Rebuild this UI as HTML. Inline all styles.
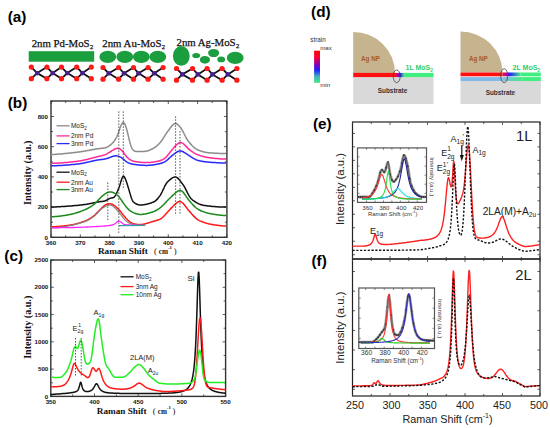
<!DOCTYPE html>
<html><head><meta charset="utf-8"><style>
html,body{margin:0;padding:0;background:#fff;}
svg{display:block;}
</style></head><body>
<svg width="550" height="428" viewBox="0 0 550 428">
<rect width="550" height="428" fill="#fff"/>
<text x="7.7" y="21.5" font-family='"Liberation Sans", sans-serif' font-size="15.3" font-weight="bold" fill="#000" text-anchor="start" >(a)</text>
<text x="31.7" y="47.1" font-family='"Liberation Serif", serif' font-size="10.8" font-weight="normal" fill="#111" text-anchor="start" stroke="#111" stroke-width="0.25">2nm Pd-MoS<tspan font-size="6.6" dx="0.4" dy="2.3">2</tspan></text>
<rect x="28.7" y="51.2" width="65.5" height="10.5" fill="#1a9e3e"/>
<line x1="37.2" y1="73.1" x2="31.3" y2="67.1" stroke="#111" stroke-width="1.8"/>
<line x1="37.2" y1="73.1" x2="46.9" y2="67.1" stroke="#111" stroke-width="1.8"/>
<line x1="37.2" y1="73.1" x2="31.3" y2="78.7" stroke="#111" stroke-width="1.8"/>
<line x1="37.2" y1="73.1" x2="46.9" y2="78.7" stroke="#111" stroke-width="1.8"/>
<line x1="52.7" y1="73.1" x2="46.9" y2="67.1" stroke="#111" stroke-width="1.8"/>
<line x1="52.7" y1="73.1" x2="61.5" y2="67.1" stroke="#111" stroke-width="1.8"/>
<line x1="52.7" y1="73.1" x2="46.9" y2="78.7" stroke="#111" stroke-width="1.8"/>
<line x1="52.7" y1="73.1" x2="61.5" y2="78.7" stroke="#111" stroke-width="1.8"/>
<line x1="67.3" y1="73.1" x2="61.5" y2="67.1" stroke="#111" stroke-width="1.8"/>
<line x1="67.3" y1="73.1" x2="76.7" y2="67.1" stroke="#111" stroke-width="1.8"/>
<line x1="67.3" y1="73.1" x2="61.5" y2="78.7" stroke="#111" stroke-width="1.8"/>
<line x1="67.3" y1="73.1" x2="76.7" y2="78.7" stroke="#111" stroke-width="1.8"/>
<line x1="82.5" y1="73.1" x2="76.7" y2="67.1" stroke="#111" stroke-width="1.8"/>
<line x1="82.5" y1="73.1" x2="91.3" y2="67.1" stroke="#111" stroke-width="1.8"/>
<line x1="82.5" y1="73.1" x2="76.7" y2="78.7" stroke="#111" stroke-width="1.8"/>
<line x1="82.5" y1="73.1" x2="91.3" y2="78.7" stroke="#111" stroke-width="1.8"/>
<circle cx="37.2" cy="73.1" r="2.4" fill="#4a1f90"/>
<circle cx="52.7" cy="73.1" r="2.4" fill="#4a1f90"/>
<circle cx="67.3" cy="73.1" r="2.4" fill="#4a1f90"/>
<circle cx="82.5" cy="73.1" r="2.4" fill="#4a1f90"/>
<circle cx="31.3" cy="67.1" r="2.6" fill="#ff1a1a"/>
<circle cx="31.3" cy="78.7" r="2.6" fill="#ff1a1a"/>
<circle cx="46.9" cy="67.1" r="2.6" fill="#ff1a1a"/>
<circle cx="46.9" cy="78.7" r="2.6" fill="#ff1a1a"/>
<circle cx="61.5" cy="67.1" r="2.6" fill="#ff1a1a"/>
<circle cx="61.5" cy="78.7" r="2.6" fill="#ff1a1a"/>
<circle cx="76.7" cy="67.1" r="2.6" fill="#ff1a1a"/>
<circle cx="76.7" cy="78.7" r="2.6" fill="#ff1a1a"/>
<circle cx="91.3" cy="67.1" r="2.6" fill="#ff1a1a"/>
<circle cx="91.3" cy="78.7" r="2.6" fill="#ff1a1a"/>
<text x="102.3" y="46.9" font-family='"Liberation Serif", serif' font-size="10.8" font-weight="normal" fill="#111" text-anchor="start" stroke="#111" stroke-width="0.25">2nm Au-MoS<tspan font-size="6.6" dx="0.4" dy="2.3">2</tspan></text>
<ellipse cx="107.8" cy="56.9" rx="8.4" ry="6.1" fill="#1a9e3e"/>
<ellipse cx="124.8" cy="56.9" rx="8.4" ry="6.1" fill="#1a9e3e"/>
<ellipse cx="141.3" cy="56.9" rx="8.4" ry="6.1" fill="#1a9e3e"/>
<ellipse cx="157.8" cy="56.9" rx="8.4" ry="6.1" fill="#1a9e3e"/>
<line x1="108.8" y1="73.3" x2="103" y2="67.5" stroke="#111" stroke-width="1.8"/>
<line x1="108.8" y1="73.3" x2="118.6" y2="67.5" stroke="#111" stroke-width="1.8"/>
<line x1="108.8" y1="73.3" x2="103" y2="79.2" stroke="#111" stroke-width="1.8"/>
<line x1="108.8" y1="73.3" x2="118.6" y2="79.2" stroke="#111" stroke-width="1.8"/>
<line x1="124.1" y1="73.3" x2="118.6" y2="67.5" stroke="#111" stroke-width="1.8"/>
<line x1="124.1" y1="73.3" x2="133.5" y2="67.5" stroke="#111" stroke-width="1.8"/>
<line x1="124.1" y1="73.3" x2="118.6" y2="79.2" stroke="#111" stroke-width="1.8"/>
<line x1="124.1" y1="73.3" x2="133.5" y2="79.2" stroke="#111" stroke-width="1.8"/>
<line x1="138.6" y1="73.3" x2="133.5" y2="67.5" stroke="#111" stroke-width="1.8"/>
<line x1="138.6" y1="73.3" x2="148.1" y2="67.5" stroke="#111" stroke-width="1.8"/>
<line x1="138.6" y1="73.3" x2="133.5" y2="79.2" stroke="#111" stroke-width="1.8"/>
<line x1="138.6" y1="73.3" x2="148.1" y2="79.2" stroke="#111" stroke-width="1.8"/>
<line x1="154.3" y1="73.3" x2="148.1" y2="67.5" stroke="#111" stroke-width="1.8"/>
<line x1="154.3" y1="73.3" x2="163.1" y2="67.5" stroke="#111" stroke-width="1.8"/>
<line x1="154.3" y1="73.3" x2="148.1" y2="79.2" stroke="#111" stroke-width="1.8"/>
<line x1="154.3" y1="73.3" x2="163.1" y2="79.2" stroke="#111" stroke-width="1.8"/>
<circle cx="108.8" cy="73.3" r="2.4" fill="#4a1f90"/>
<circle cx="124.1" cy="73.3" r="2.4" fill="#4a1f90"/>
<circle cx="138.6" cy="73.3" r="2.4" fill="#4a1f90"/>
<circle cx="154.3" cy="73.3" r="2.4" fill="#4a1f90"/>
<circle cx="103" cy="67.5" r="2.6" fill="#ff1a1a"/>
<circle cx="103" cy="79.2" r="2.6" fill="#ff1a1a"/>
<circle cx="118.6" cy="67.5" r="2.6" fill="#ff1a1a"/>
<circle cx="118.6" cy="79.2" r="2.6" fill="#ff1a1a"/>
<circle cx="133.5" cy="67.5" r="2.6" fill="#ff1a1a"/>
<circle cx="133.5" cy="79.2" r="2.6" fill="#ff1a1a"/>
<circle cx="148.1" cy="67.5" r="2.6" fill="#ff1a1a"/>
<circle cx="148.1" cy="79.2" r="2.6" fill="#ff1a1a"/>
<circle cx="163.1" cy="67.5" r="2.6" fill="#ff1a1a"/>
<circle cx="163.1" cy="79.2" r="2.6" fill="#ff1a1a"/>
<text x="176.5" y="45.8" font-family='"Liberation Serif", serif' font-size="10.8" font-weight="normal" fill="#111" text-anchor="start" stroke="#111" stroke-width="0.25">2nm Ag-MoS<tspan font-size="6.6" dx="0.4" dy="2.3">2</tspan></text>
<ellipse cx="181.3" cy="55.9" rx="8.4" ry="9.9" fill="#1a9e3e"/>
<ellipse cx="196.2" cy="55.5" rx="3.9" ry="2.6" fill="#1a9e3e"/>
<ellipse cx="204.9" cy="59.8" rx="5.1" ry="3.9" fill="#1a9e3e"/>
<ellipse cx="213.6" cy="53" rx="5.5" ry="4.1" fill="#1a9e3e"/>
<ellipse cx="221.2" cy="59.4" rx="3.9" ry="2.9" fill="#1a9e3e"/>
<ellipse cx="235.2" cy="57.9" rx="8.4" ry="6.1" fill="#1a9e3e"/>
<line x1="182.4" y1="74.4" x2="176.5" y2="68.5" stroke="#111" stroke-width="1.8"/>
<line x1="182.4" y1="74.4" x2="192.5" y2="68.5" stroke="#111" stroke-width="1.8"/>
<line x1="182.4" y1="74.4" x2="176.5" y2="80.2" stroke="#111" stroke-width="1.8"/>
<line x1="182.4" y1="74.4" x2="192.5" y2="80.2" stroke="#111" stroke-width="1.8"/>
<line x1="197.9" y1="74.4" x2="192.5" y2="68.5" stroke="#111" stroke-width="1.8"/>
<line x1="197.9" y1="74.4" x2="207.1" y2="68.5" stroke="#111" stroke-width="1.8"/>
<line x1="197.9" y1="74.4" x2="192.5" y2="80.2" stroke="#111" stroke-width="1.8"/>
<line x1="197.9" y1="74.4" x2="207.1" y2="80.2" stroke="#111" stroke-width="1.8"/>
<line x1="212.5" y1="74.4" x2="207.1" y2="68.5" stroke="#111" stroke-width="1.8"/>
<line x1="212.5" y1="74.4" x2="222.1" y2="68.5" stroke="#111" stroke-width="1.8"/>
<line x1="212.5" y1="74.4" x2="207.1" y2="80.2" stroke="#111" stroke-width="1.8"/>
<line x1="212.5" y1="74.4" x2="222.1" y2="80.2" stroke="#111" stroke-width="1.8"/>
<line x1="227.9" y1="74.4" x2="222.1" y2="68.5" stroke="#111" stroke-width="1.8"/>
<line x1="227.9" y1="74.4" x2="236.9" y2="68.5" stroke="#111" stroke-width="1.8"/>
<line x1="227.9" y1="74.4" x2="222.1" y2="80.2" stroke="#111" stroke-width="1.8"/>
<line x1="227.9" y1="74.4" x2="236.9" y2="80.2" stroke="#111" stroke-width="1.8"/>
<circle cx="182.4" cy="74.4" r="2.4" fill="#4a1f90"/>
<circle cx="197.9" cy="74.4" r="2.4" fill="#4a1f90"/>
<circle cx="212.5" cy="74.4" r="2.4" fill="#4a1f90"/>
<circle cx="227.9" cy="74.4" r="2.4" fill="#4a1f90"/>
<circle cx="176.5" cy="68.5" r="2.6" fill="#ff1a1a"/>
<circle cx="176.5" cy="80.2" r="2.6" fill="#ff1a1a"/>
<circle cx="192.5" cy="68.5" r="2.6" fill="#ff1a1a"/>
<circle cx="192.5" cy="80.2" r="2.6" fill="#ff1a1a"/>
<circle cx="207.1" cy="68.5" r="2.6" fill="#ff1a1a"/>
<circle cx="207.1" cy="80.2" r="2.6" fill="#ff1a1a"/>
<circle cx="222.1" cy="68.5" r="2.6" fill="#ff1a1a"/>
<circle cx="222.1" cy="80.2" r="2.6" fill="#ff1a1a"/>
<circle cx="236.9" cy="68.5" r="2.6" fill="#ff1a1a"/>
<circle cx="236.9" cy="80.2" r="2.6" fill="#ff1a1a"/>
<text x="7.7" y="107.5" font-family='"Liberation Sans", sans-serif' font-size="15.3" font-weight="bold" fill="#000" text-anchor="start" >(b)</text>
<rect x="51.0" y="101.0" width="175.9" height="136.3" fill="none" stroke="#333" stroke-width="1.4"/>
<line x1="51.00" y1="237.3" x2="51.00" y2="234.3" stroke="#333" stroke-width="0.8"/>
<line x1="80.32" y1="237.3" x2="80.32" y2="234.3" stroke="#333" stroke-width="0.8"/>
<line x1="109.63" y1="237.3" x2="109.63" y2="234.3" stroke="#333" stroke-width="0.8"/>
<line x1="138.95" y1="237.3" x2="138.95" y2="234.3" stroke="#333" stroke-width="0.8"/>
<line x1="168.27" y1="237.3" x2="168.27" y2="234.3" stroke="#333" stroke-width="0.8"/>
<line x1="197.58" y1="237.3" x2="197.58" y2="234.3" stroke="#333" stroke-width="0.8"/>
<line x1="226.90" y1="237.3" x2="226.90" y2="234.3" stroke="#333" stroke-width="0.8"/>
<line x1="65.66" y1="237.3" x2="65.66" y2="235.3" stroke="#333" stroke-width="0.8"/>
<line x1="94.97" y1="237.3" x2="94.97" y2="235.3" stroke="#333" stroke-width="0.8"/>
<line x1="124.29" y1="237.3" x2="124.29" y2="235.3" stroke="#333" stroke-width="0.8"/>
<line x1="153.61" y1="237.3" x2="153.61" y2="235.3" stroke="#333" stroke-width="0.8"/>
<line x1="182.93" y1="237.3" x2="182.93" y2="235.3" stroke="#333" stroke-width="0.8"/>
<line x1="212.24" y1="237.3" x2="212.24" y2="235.3" stroke="#333" stroke-width="0.8"/>
<line x1="51.00" y1="101.0" x2="51.00" y2="104.0" stroke="#333" stroke-width="0.8"/>
<line x1="80.32" y1="101.0" x2="80.32" y2="104.0" stroke="#333" stroke-width="0.8"/>
<line x1="109.63" y1="101.0" x2="109.63" y2="104.0" stroke="#333" stroke-width="0.8"/>
<line x1="138.95" y1="101.0" x2="138.95" y2="104.0" stroke="#333" stroke-width="0.8"/>
<line x1="168.27" y1="101.0" x2="168.27" y2="104.0" stroke="#333" stroke-width="0.8"/>
<line x1="197.58" y1="101.0" x2="197.58" y2="104.0" stroke="#333" stroke-width="0.8"/>
<line x1="226.90" y1="101.0" x2="226.90" y2="104.0" stroke="#333" stroke-width="0.8"/>
<line x1="65.66" y1="101.0" x2="65.66" y2="103.0" stroke="#333" stroke-width="0.8"/>
<line x1="94.97" y1="101.0" x2="94.97" y2="103.0" stroke="#333" stroke-width="0.8"/>
<line x1="124.29" y1="101.0" x2="124.29" y2="103.0" stroke="#333" stroke-width="0.8"/>
<line x1="153.61" y1="101.0" x2="153.61" y2="103.0" stroke="#333" stroke-width="0.8"/>
<line x1="182.93" y1="101.0" x2="182.93" y2="103.0" stroke="#333" stroke-width="0.8"/>
<line x1="212.24" y1="101.0" x2="212.24" y2="103.0" stroke="#333" stroke-width="0.8"/>
<line x1="51.0" y1="237.30" x2="54.0" y2="237.30" stroke="#333" stroke-width="0.8"/>
<line x1="51.0" y1="207.10" x2="54.0" y2="207.10" stroke="#333" stroke-width="0.8"/>
<line x1="51.0" y1="176.90" x2="54.0" y2="176.90" stroke="#333" stroke-width="0.8"/>
<line x1="51.0" y1="146.70" x2="54.0" y2="146.70" stroke="#333" stroke-width="0.8"/>
<line x1="51.0" y1="116.50" x2="54.0" y2="116.50" stroke="#333" stroke-width="0.8"/>
<line x1="51.0" y1="222.20" x2="53.0" y2="222.20" stroke="#333" stroke-width="0.8"/>
<line x1="51.0" y1="192.00" x2="53.0" y2="192.00" stroke="#333" stroke-width="0.8"/>
<line x1="51.0" y1="161.80" x2="53.0" y2="161.80" stroke="#333" stroke-width="0.8"/>
<line x1="51.0" y1="131.60" x2="53.0" y2="131.60" stroke="#333" stroke-width="0.8"/>
<line x1="51.0" y1="101.40" x2="53.0" y2="101.40" stroke="#333" stroke-width="0.8"/>
<line x1="226.9" y1="237.30" x2="223.9" y2="237.30" stroke="#333" stroke-width="0.8"/>
<line x1="226.9" y1="207.10" x2="223.9" y2="207.10" stroke="#333" stroke-width="0.8"/>
<line x1="226.9" y1="176.90" x2="223.9" y2="176.90" stroke="#333" stroke-width="0.8"/>
<line x1="226.9" y1="146.70" x2="223.9" y2="146.70" stroke="#333" stroke-width="0.8"/>
<line x1="226.9" y1="116.50" x2="223.9" y2="116.50" stroke="#333" stroke-width="0.8"/>
<line x1="226.9" y1="222.20" x2="224.9" y2="222.20" stroke="#333" stroke-width="0.8"/>
<line x1="226.9" y1="192.00" x2="224.9" y2="192.00" stroke="#333" stroke-width="0.8"/>
<line x1="226.9" y1="161.80" x2="224.9" y2="161.80" stroke="#333" stroke-width="0.8"/>
<line x1="226.9" y1="131.60" x2="224.9" y2="131.60" stroke="#333" stroke-width="0.8"/>
<line x1="226.9" y1="101.40" x2="224.9" y2="101.40" stroke="#333" stroke-width="0.8"/>
<text x="48" y="239.5" font-family='"Liberation Sans", sans-serif' font-size="6.2" font-weight="bold" fill="#111" text-anchor="end" >0</text>
<text x="48" y="209.3" font-family='"Liberation Sans", sans-serif' font-size="6.2" font-weight="bold" fill="#111" text-anchor="end" >200</text>
<text x="48" y="179.1" font-family='"Liberation Sans", sans-serif' font-size="6.2" font-weight="bold" fill="#111" text-anchor="end" >400</text>
<text x="48" y="148.9" font-family='"Liberation Sans", sans-serif' font-size="6.2" font-weight="bold" fill="#111" text-anchor="end" >600</text>
<text x="48" y="118.70000000000002" font-family='"Liberation Sans", sans-serif' font-size="6.2" font-weight="bold" fill="#111" text-anchor="end" >800</text>
<text x="51.0" y="245" font-family='"Liberation Sans", sans-serif' font-size="6.2" font-weight="bold" fill="#111" text-anchor="middle" >360</text>
<text x="80.31666666666666" y="245" font-family='"Liberation Sans", sans-serif' font-size="6.2" font-weight="bold" fill="#111" text-anchor="middle" >370</text>
<text x="109.63333333333333" y="245" font-family='"Liberation Sans", sans-serif' font-size="6.2" font-weight="bold" fill="#111" text-anchor="middle" >380</text>
<text x="138.95" y="245" font-family='"Liberation Sans", sans-serif' font-size="6.2" font-weight="bold" fill="#111" text-anchor="middle" >390</text>
<text x="168.26666666666665" y="245" font-family='"Liberation Sans", sans-serif' font-size="6.2" font-weight="bold" fill="#111" text-anchor="middle" >400</text>
<text x="197.58333333333334" y="245" font-family='"Liberation Sans", sans-serif' font-size="6.2" font-weight="bold" fill="#111" text-anchor="middle" >410</text>
<text x="226.9" y="245" font-family='"Liberation Sans", sans-serif' font-size="6.2" font-weight="bold" fill="#111" text-anchor="middle" >420</text>
<text x="97.9" y="253.6" font-family='"Liberation Serif", serif' font-size="9.2" font-weight="bold" fill="#111" text-anchor="start" textLength="49.9" lengthAdjust="spacingAndGlyphs">Raman Shift</text>
<text x="153.9" y="253.9" font-family='"Liberation Serif", serif' font-size="8.6" font-weight="normal" fill="#111" text-anchor="start" >(</text>
<text x="158.8" y="253.6" font-family='"Liberation Serif", serif' font-size="9.2" font-weight="bold" fill="#111" text-anchor="start" textLength="9.2" lengthAdjust="spacingAndGlyphs">cm</text>
<text x="167.9" y="249.4" font-family='"Liberation Serif", serif' font-size="4.8" font-weight="bold" fill="#111" text-anchor="start" >-1</text>
<text x="173.7" y="253.9" font-family='"Liberation Serif", serif' font-size="8.6" font-weight="normal" fill="#111" text-anchor="start" >)</text>
<text transform="translate(31,172.7) rotate(-90)" x="0" y="0" font-family='"Liberation Serif", serif' font-size="10.3" font-weight="bold" fill="#111" text-anchor="middle">Intensity (a.u.)</text>
<path d="M51.0,154.6 L51.5,154.6 L52.0,154.5 L52.5,154.5 L53.0,154.5 L53.5,154.5 L54.0,154.4 L54.5,154.4 L55.0,154.4 L55.5,154.3 L56.0,154.3 L56.5,154.3 L57.0,154.2 L57.5,154.2 L58.0,154.1 L58.5,154.1 L59.0,154.1 L59.5,154.0 L60.0,154.0 L60.5,153.9 L61.0,153.9 L61.5,153.9 L62.0,153.8 L62.5,153.8 L63.0,153.7 L63.5,153.7 L64.0,153.6 L64.5,153.6 L65.0,153.5 L65.5,153.5 L66.0,153.4 L66.5,153.4 L67.0,153.3 L67.5,153.3 L68.0,153.2 L68.5,153.2 L69.0,153.1 L69.5,153.1 L70.0,153.0 L70.5,153.0 L71.0,152.9 L71.5,152.9 L72.0,152.8 L72.5,152.7 L73.0,152.7 L73.5,152.6 L74.0,152.6 L74.5,152.5 L75.0,152.5 L75.5,152.4 L76.0,152.3 L76.5,152.3 L77.0,152.2 L77.5,152.2 L78.0,152.1 L78.5,152.0 L79.0,152.0 L79.5,151.9 L80.0,151.8 L80.5,151.8 L81.0,151.7 L81.5,151.6 L82.0,151.5 L82.5,151.4 L83.0,151.4 L83.5,151.3 L84.0,151.2 L84.5,151.1 L85.0,151.0 L85.5,150.9 L86.0,150.8 L86.5,150.8 L87.0,150.7 L87.5,150.6 L88.0,150.5 L88.5,150.4 L89.0,150.3 L89.5,150.2 L90.0,150.1 L90.5,150.0 L91.0,149.9 L91.5,149.8 L92.0,149.7 L92.5,149.6 L93.0,149.6 L93.5,149.5 L94.0,149.4 L94.5,149.3 L95.0,149.2 L95.5,149.1 L96.0,149.0 L96.5,149.0 L97.0,148.9 L97.5,148.8 L98.0,148.7 L98.5,148.7 L99.0,148.6 L99.5,148.5 L100.0,148.5 L100.5,148.4 L101.0,148.4 L101.5,148.3 L102.0,148.3 L102.5,148.2 L103.0,148.2 L103.5,148.1 L104.0,148.0 L104.5,148.0 L105.0,147.9 L105.5,147.7 L106.0,147.6 L106.5,147.4 L107.0,147.2 L107.5,146.9 L108.0,146.6 L108.5,146.3 L109.0,146.0 L109.5,145.6 L110.0,145.2 L110.5,144.9 L111.0,144.4 L111.5,144.0 L112.0,143.5 L112.5,143.1 L113.0,142.5 L113.5,141.9 L114.0,141.3 L114.5,140.6 L115.0,139.8 L115.5,139.0 L116.0,138.2 L116.5,137.3 L117.0,136.3 L117.5,135.1 L118.0,133.9 L118.5,132.5 L119.0,131.0 L119.5,129.5 L120.0,128.1 L120.5,126.7 L121.0,125.5 L121.5,124.5 L122.0,123.6 L122.5,122.9 L123.0,122.6 L123.5,122.6 L124.0,123.0 L124.5,123.7 L125.0,124.6 L125.5,125.8 L126.0,127.2 L126.5,128.8 L127.0,130.6 L127.5,132.5 L128.0,134.6 L128.5,136.7 L129.0,138.8 L129.5,140.8 L130.0,142.7 L130.5,144.4 L131.0,146.0 L131.5,147.2 L132.0,148.3 L132.5,149.1 L133.0,149.8 L133.5,150.3 L134.0,150.7 L134.5,151.0 L135.0,151.2 L135.5,151.3 L136.0,151.4 L136.5,151.4 L137.0,151.4 L137.5,151.4 L138.0,151.4 L138.5,151.4 L139.0,151.4 L139.5,151.4 L140.0,151.4 L140.5,151.4 L141.0,151.4 L141.5,151.4 L142.0,151.4 L142.5,151.4 L143.0,151.4 L143.5,151.4 L144.0,151.4 L144.5,151.4 L145.0,151.3 L145.5,151.3 L146.0,151.2 L146.5,151.1 L147.0,151.0 L147.5,150.9 L148.0,150.7 L148.5,150.5 L149.0,150.4 L149.5,150.2 L150.0,149.9 L150.5,149.7 L151.0,149.5 L151.5,149.2 L152.0,149.0 L152.5,148.7 L153.0,148.5 L153.5,148.2 L154.0,147.9 L154.5,147.6 L155.0,147.3 L155.5,147.0 L156.0,146.6 L156.5,146.2 L157.0,145.8 L157.5,145.3 L158.0,144.8 L158.5,144.3 L159.0,143.8 L159.5,143.3 L160.0,142.7 L160.5,142.2 L161.0,141.6 L161.5,140.9 L162.0,140.2 L162.5,139.5 L163.0,138.7 L163.5,137.9 L164.0,137.1 L164.5,136.3 L165.0,135.4 L165.5,134.6 L166.0,133.9 L166.5,133.1 L167.0,132.4 L167.5,131.7 L168.0,131.1 L168.5,130.4 L169.0,129.7 L169.5,129.0 L170.0,128.3 L170.5,127.6 L171.0,127.0 L171.5,126.4 L172.0,125.8 L172.5,125.2 L173.0,124.8 L173.5,124.3 L174.0,124.0 L174.5,123.7 L175.0,123.6 L175.5,123.5 L176.0,123.5 L176.5,123.7 L177.0,123.9 L177.5,124.3 L178.0,124.7 L178.5,125.2 L179.0,125.8 L179.5,126.3 L180.0,127.0 L180.5,127.6 L181.0,128.3 L181.5,129.0 L182.0,129.8 L182.5,130.6 L183.0,131.5 L183.5,132.5 L184.0,133.5 L184.5,134.5 L185.0,135.5 L185.5,136.5 L186.0,137.4 L186.5,138.4 L187.0,139.2 L187.5,140.0 L188.0,140.7 L188.5,141.4 L189.0,142.0 L189.5,142.6 L190.0,143.2 L190.5,143.8 L191.0,144.4 L191.5,144.9 L192.0,145.5 L192.5,146.0 L193.0,146.5 L193.5,146.9 L194.0,147.4 L194.5,147.8 L195.0,148.2 L195.5,148.6 L196.0,148.9 L196.5,149.2 L197.0,149.5 L197.5,149.8 L198.0,150.0 L198.5,150.2 L199.0,150.4 L199.5,150.6 L200.0,150.8 L200.5,151.0 L201.0,151.1 L201.5,151.3 L202.0,151.4 L202.5,151.6 L203.0,151.7 L203.5,151.9 L204.0,152.0 L204.5,152.1 L205.0,152.2 L205.5,152.3 L206.0,152.4 L206.5,152.5 L207.0,152.6 L207.5,152.6 L208.0,152.7 L208.5,152.7 L209.0,152.8 L209.5,152.8 L210.0,152.9 L210.5,152.9 L211.0,152.9 L211.5,153.0 L212.0,153.0 L212.5,153.0 L213.0,153.1 L213.5,153.1 L214.0,153.1 L214.5,153.2 L215.0,153.2 L215.5,153.2 L216.0,153.2 L216.5,153.3 L217.0,153.3 L217.5,153.3 L218.0,153.3 L218.5,153.3 L219.0,153.4 L219.5,153.4 L220.0,153.4 L220.5,153.4 L221.0,153.4 L221.5,153.4 L222.0,153.4 L222.5,153.5 L223.0,153.5 L223.5,153.5 L224.0,153.5 L224.5,153.5 L225.0,153.5 L225.5,153.5 L226.0,153.5" fill="none" stroke="#8c8c8c" stroke-width="1.5" stroke-linejoin="round"/>
<path d="M51.0,163.3 L51.5,163.3 L52.0,163.3 L52.5,163.3 L53.0,163.3 L53.5,163.3 L54.0,163.3 L54.5,163.2 L55.0,163.2 L55.5,163.2 L56.0,163.2 L56.5,163.2 L57.0,163.1 L57.5,163.1 L58.0,163.1 L58.5,163.1 L59.0,163.0 L59.5,163.0 L60.0,163.0 L60.5,163.0 L61.0,162.9 L61.5,162.9 L62.0,162.8 L62.5,162.8 L63.0,162.8 L63.5,162.7 L64.0,162.7 L64.5,162.6 L65.0,162.6 L65.5,162.6 L66.0,162.5 L66.5,162.5 L67.0,162.4 L67.5,162.4 L68.0,162.3 L68.5,162.3 L69.0,162.2 L69.5,162.2 L70.0,162.1 L70.5,162.1 L71.0,162.0 L71.5,161.9 L72.0,161.9 L72.5,161.8 L73.0,161.8 L73.5,161.7 L74.0,161.7 L74.5,161.6 L75.0,161.6 L75.5,161.5 L76.0,161.4 L76.5,161.4 L77.0,161.3 L77.5,161.2 L78.0,161.2 L78.5,161.1 L79.0,161.0 L79.5,161.0 L80.0,160.9 L80.5,160.8 L81.0,160.7 L81.5,160.6 L82.0,160.5 L82.5,160.4 L83.0,160.3 L83.5,160.2 L84.0,160.1 L84.5,160.0 L85.0,159.9 L85.5,159.8 L86.0,159.7 L86.5,159.5 L87.0,159.4 L87.5,159.3 L88.0,159.2 L88.5,159.0 L89.0,158.9 L89.5,158.8 L90.0,158.6 L90.5,158.5 L91.0,158.4 L91.5,158.2 L92.0,158.1 L92.5,158.0 L93.0,157.8 L93.5,157.7 L94.0,157.6 L94.5,157.4 L95.0,157.3 L95.5,157.2 L96.0,157.1 L96.5,156.9 L97.0,156.8 L97.5,156.7 L98.0,156.6 L98.5,156.4 L99.0,156.3 L99.5,156.2 L100.0,156.1 L100.5,156.0 L101.0,155.9 L101.5,155.8 L102.0,155.6 L102.5,155.5 L103.0,155.4 L103.5,155.3 L104.0,155.1 L104.5,154.9 L105.0,154.8 L105.5,154.6 L106.0,154.3 L106.5,154.1 L107.0,153.8 L107.5,153.5 L108.0,153.2 L108.5,152.9 L109.0,152.6 L109.5,152.3 L110.0,152.0 L110.5,151.7 L111.0,151.3 L111.5,151.0 L112.0,150.7 L112.5,150.4 L113.0,150.1 L113.5,149.8 L114.0,149.5 L114.5,149.2 L115.0,149.0 L115.5,148.8 L116.0,148.6 L116.5,148.4 L117.0,148.4 L117.5,148.3 L118.0,148.4 L118.5,148.4 L119.0,148.6 L119.5,148.8 L120.0,149.0 L120.5,149.4 L121.0,149.8 L121.5,150.2 L122.0,150.7 L122.5,151.3 L123.0,151.9 L123.5,152.6 L124.0,153.2 L124.5,153.9 L125.0,154.6 L125.5,155.3 L126.0,155.9 L126.5,156.5 L127.0,157.1 L127.5,157.6 L128.0,158.0 L128.5,158.5 L129.0,158.9 L129.5,159.3 L130.0,159.6 L130.5,159.9 L131.0,160.2 L131.5,160.5 L132.0,160.7 L132.5,160.9 L133.0,161.0 L133.5,161.2 L134.0,161.3 L134.5,161.4 L135.0,161.5 L135.5,161.6 L136.0,161.7 L136.5,161.8 L137.0,161.8 L137.5,161.9 L138.0,162.0 L138.5,162.0 L139.0,162.1 L139.5,162.2 L140.0,162.2 L140.5,162.3 L141.0,162.3 L141.5,162.3 L142.0,162.4 L142.5,162.4 L143.0,162.5 L143.5,162.5 L144.0,162.5 L144.5,162.5 L145.0,162.5 L145.5,162.6 L146.0,162.6 L146.5,162.6 L147.0,162.6 L147.5,162.6 L148.0,162.5 L148.5,162.5 L149.0,162.5 L149.5,162.5 L150.0,162.4 L150.5,162.4 L151.0,162.3 L151.5,162.3 L152.0,162.2 L152.5,162.2 L153.0,162.1 L153.5,162.0 L154.0,162.0 L154.5,161.9 L155.0,161.8 L155.5,161.7 L156.0,161.6 L156.5,161.5 L157.0,161.4 L157.5,161.3 L158.0,161.2 L158.5,161.1 L159.0,161.0 L159.5,160.8 L160.0,160.7 L160.5,160.5 L161.0,160.3 L161.5,160.1 L162.0,159.9 L162.5,159.7 L163.0,159.4 L163.5,159.1 L164.0,158.8 L164.5,158.5 L165.0,158.1 L165.5,157.7 L166.0,157.2 L166.5,156.7 L167.0,156.1 L167.5,155.5 L168.0,154.9 L168.5,154.3 L169.0,153.6 L169.5,153.0 L170.0,152.3 L170.5,151.7 L171.0,151.1 L171.5,150.4 L172.0,149.8 L172.5,149.2 L173.0,148.7 L173.5,148.1 L174.0,147.5 L174.5,146.9 L175.0,146.4 L175.5,145.9 L176.0,145.3 L176.5,144.8 L177.0,144.4 L177.5,144.0 L178.0,143.6 L178.5,143.3 L179.0,143.0 L179.5,142.8 L180.0,142.6 L180.5,142.6 L181.0,142.6 L181.5,142.7 L182.0,142.9 L182.5,143.1 L183.0,143.5 L183.5,143.9 L184.0,144.3 L184.5,144.8 L185.0,145.3 L185.5,145.9 L186.0,146.4 L186.5,146.9 L187.0,147.4 L187.5,147.9 L188.0,148.4 L188.5,148.9 L189.0,149.3 L189.5,149.7 L190.0,150.1 L190.5,150.5 L191.0,150.8 L191.5,151.2 L192.0,151.5 L192.5,151.9 L193.0,152.2 L193.5,152.5 L194.0,152.9 L194.5,153.2 L195.0,153.4 L195.5,153.7 L196.0,154.0 L196.5,154.2 L197.0,154.4 L197.5,154.7 L198.0,154.9 L198.5,155.1 L199.0,155.2 L199.5,155.4 L200.0,155.6 L200.5,155.8 L201.0,155.9 L201.5,156.1 L202.0,156.2 L202.5,156.3 L203.0,156.5 L203.5,156.6 L204.0,156.7 L204.5,156.9 L205.0,157.0 L205.5,157.1 L206.0,157.2 L206.5,157.3 L207.0,157.4 L207.5,157.4 L208.0,157.5 L208.5,157.6 L209.0,157.7 L209.5,157.7 L210.0,157.8 L210.5,157.9 L211.0,157.9 L211.5,158.0 L212.0,158.1 L212.5,158.1 L213.0,158.2 L213.5,158.2 L214.0,158.3 L214.5,158.3 L215.0,158.4 L215.5,158.5 L216.0,158.5 L216.5,158.6 L217.0,158.6 L217.5,158.6 L218.0,158.7 L218.5,158.7 L219.0,158.8 L219.5,158.8 L220.0,158.8 L220.5,158.9 L221.0,158.9 L221.5,158.9 L222.0,159.0 L222.5,159.0 L223.0,159.0 L223.5,159.0 L224.0,159.0 L224.5,159.1 L225.0,159.1 L225.5,159.1 L226.0,159.1" fill="none" stroke="#ff2a9a" stroke-width="1.5" stroke-linejoin="round"/>
<path d="M51.0,165.8 L51.5,165.8 L52.0,165.8 L52.5,165.8 L53.0,165.8 L53.5,165.8 L54.0,165.8 L54.5,165.7 L55.0,165.7 L55.5,165.7 L56.0,165.7 L56.5,165.7 L57.0,165.7 L57.5,165.6 L58.0,165.6 L58.5,165.6 L59.0,165.6 L59.5,165.6 L60.0,165.5 L60.5,165.5 L61.0,165.5 L61.5,165.4 L62.0,165.4 L62.5,165.4 L63.0,165.3 L63.5,165.3 L64.0,165.3 L64.5,165.2 L65.0,165.2 L65.5,165.2 L66.0,165.1 L66.5,165.1 L67.0,165.0 L67.5,165.0 L68.0,165.0 L68.5,164.9 L69.0,164.9 L69.5,164.8 L70.0,164.8 L70.5,164.7 L71.0,164.7 L71.5,164.6 L72.0,164.6 L72.5,164.5 L73.0,164.5 L73.5,164.5 L74.0,164.4 L74.5,164.4 L75.0,164.3 L75.5,164.3 L76.0,164.2 L76.5,164.1 L77.0,164.1 L77.5,164.0 L78.0,164.0 L78.5,163.9 L79.0,163.9 L79.5,163.8 L80.0,163.7 L80.5,163.6 L81.0,163.6 L81.5,163.5 L82.0,163.4 L82.5,163.3 L83.0,163.2 L83.5,163.1 L84.0,163.0 L84.5,162.9 L85.0,162.8 L85.5,162.7 L86.0,162.6 L86.5,162.5 L87.0,162.3 L87.5,162.2 L88.0,162.1 L88.5,162.0 L89.0,161.9 L89.5,161.8 L90.0,161.6 L90.5,161.5 L91.0,161.4 L91.5,161.3 L92.0,161.2 L92.5,161.1 L93.0,161.0 L93.5,160.8 L94.0,160.7 L94.5,160.6 L95.0,160.5 L95.5,160.4 L96.0,160.3 L96.5,160.2 L97.0,160.1 L97.5,160.1 L98.0,160.0 L98.5,159.9 L99.0,159.8 L99.5,159.8 L100.0,159.7 L100.5,159.6 L101.0,159.6 L101.5,159.5 L102.0,159.5 L102.5,159.4 L103.0,159.3 L103.5,159.3 L104.0,159.2 L104.5,159.1 L105.0,159.0 L105.5,158.9 L106.0,158.8 L106.5,158.6 L107.0,158.5 L107.5,158.3 L108.0,158.2 L108.5,158.0 L109.0,157.8 L109.5,157.6 L110.0,157.4 L110.5,157.2 L111.0,157.0 L111.5,156.8 L112.0,156.6 L112.5,156.4 L113.0,156.3 L113.5,156.2 L114.0,156.0 L114.5,155.9 L115.0,155.9 L115.5,155.8 L116.0,155.8 L116.5,155.8 L117.0,155.9 L117.5,156.0 L118.0,156.1 L118.5,156.3 L119.0,156.4 L119.5,156.6 L120.0,156.9 L120.5,157.1 L121.0,157.4 L121.5,157.7 L122.0,158.1 L122.5,158.4 L123.0,158.8 L123.5,159.2 L124.0,159.7 L124.5,160.1 L125.0,160.5 L125.5,161.0 L126.0,161.4 L126.5,161.7 L127.0,162.1 L127.5,162.4 L128.0,162.6 L128.5,162.9 L129.0,163.1 L129.5,163.3 L130.0,163.5 L130.5,163.6 L131.0,163.8 L131.5,163.9 L132.0,164.0 L132.5,164.1 L133.0,164.2 L133.5,164.3 L134.0,164.4 L134.5,164.5 L135.0,164.6 L135.5,164.6 L136.0,164.7 L136.5,164.8 L137.0,164.8 L137.5,164.9 L138.0,164.9 L138.5,165.0 L139.0,165.0 L139.5,165.0 L140.0,165.1 L140.5,165.1 L141.0,165.2 L141.5,165.2 L142.0,165.2 L142.5,165.2 L143.0,165.3 L143.5,165.3 L144.0,165.3 L144.5,165.3 L145.0,165.3 L145.5,165.4 L146.0,165.4 L146.5,165.4 L147.0,165.4 L147.5,165.4 L148.0,165.3 L148.5,165.3 L149.0,165.3 L149.5,165.3 L150.0,165.2 L150.5,165.2 L151.0,165.1 L151.5,165.1 L152.0,165.0 L152.5,165.0 L153.0,164.9 L153.5,164.8 L154.0,164.7 L154.5,164.7 L155.0,164.6 L155.5,164.5 L156.0,164.4 L156.5,164.3 L157.0,164.2 L157.5,164.1 L158.0,164.0 L158.5,163.9 L159.0,163.8 L159.5,163.7 L160.0,163.6 L160.5,163.5 L161.0,163.3 L161.5,163.2 L162.0,163.0 L162.5,162.8 L163.0,162.6 L163.5,162.4 L164.0,162.2 L164.5,161.9 L165.0,161.7 L165.5,161.4 L166.0,161.0 L166.5,160.6 L167.0,160.2 L167.5,159.8 L168.0,159.3 L168.5,158.9 L169.0,158.4 L169.5,157.9 L170.0,157.5 L170.5,157.0 L171.0,156.6 L171.5,156.1 L172.0,155.7 L172.5,155.3 L173.0,154.9 L173.5,154.5 L174.0,154.1 L174.5,153.7 L175.0,153.3 L175.5,153.0 L176.0,152.6 L176.5,152.3 L177.0,152.0 L177.5,151.7 L178.0,151.5 L178.5,151.3 L179.0,151.2 L179.5,151.1 L180.0,151.1 L180.5,151.1 L181.0,151.1 L181.5,151.2 L182.0,151.3 L182.5,151.5 L183.0,151.8 L183.5,152.0 L184.0,152.3 L184.5,152.6 L185.0,152.9 L185.5,153.2 L186.0,153.6 L186.5,153.9 L187.0,154.2 L187.5,154.5 L188.0,154.9 L188.5,155.2 L189.0,155.5 L189.5,155.8 L190.0,156.2 L190.5,156.5 L191.0,156.8 L191.5,157.1 L192.0,157.4 L192.5,157.8 L193.0,158.1 L193.5,158.4 L194.0,158.7 L194.5,158.9 L195.0,159.2 L195.5,159.5 L196.0,159.7 L196.5,159.9 L197.0,160.1 L197.5,160.3 L198.0,160.4 L198.5,160.6 L199.0,160.7 L199.5,160.8 L200.0,160.9 L200.5,161.0 L201.0,161.1 L201.5,161.2 L202.0,161.3 L202.5,161.4 L203.0,161.5 L203.5,161.6 L204.0,161.6 L204.5,161.7 L205.0,161.8 L205.5,161.8 L206.0,161.9 L206.5,162.0 L207.0,162.0 L207.5,162.1 L208.0,162.1 L208.5,162.1 L209.0,162.2 L209.5,162.2 L210.0,162.3 L210.5,162.3 L211.0,162.3 L211.5,162.4 L212.0,162.4 L212.5,162.4 L213.0,162.5 L213.5,162.5 L214.0,162.5 L214.5,162.6 L215.0,162.6 L215.5,162.6 L216.0,162.7 L216.5,162.7 L217.0,162.7 L217.5,162.7 L218.0,162.8 L218.5,162.8 L219.0,162.8 L219.5,162.8 L220.0,162.9 L220.5,162.9 L221.0,162.9 L221.5,162.9 L222.0,162.9 L222.5,162.9 L223.0,163.0 L223.5,163.0 L224.0,163.0 L224.5,163.0 L225.0,163.0 L225.5,163.0 L226.0,163.0" fill="none" stroke="#2a2aff" stroke-width="1.5" stroke-linejoin="round"/>
<path d="M51.0,207.1 L51.5,207.1 L52.0,207.1 L52.5,207.0 L53.0,207.0 L53.5,207.0 L54.0,207.0 L54.5,207.0 L55.0,206.9 L55.5,206.9 L56.0,206.9 L56.5,206.9 L57.0,206.8 L57.5,206.8 L58.0,206.8 L58.5,206.8 L59.0,206.7 L59.5,206.7 L60.0,206.7 L60.5,206.7 L61.0,206.6 L61.5,206.6 L62.0,206.6 L62.5,206.5 L63.0,206.5 L63.5,206.5 L64.0,206.4 L64.5,206.4 L65.0,206.4 L65.5,206.3 L66.0,206.3 L66.5,206.3 L67.0,206.2 L67.5,206.2 L68.0,206.2 L68.5,206.1 L69.0,206.1 L69.5,206.1 L70.0,206.0 L70.5,206.0 L71.0,205.9 L71.5,205.9 L72.0,205.9 L72.5,205.8 L73.0,205.8 L73.5,205.7 L74.0,205.7 L74.5,205.6 L75.0,205.6 L75.5,205.6 L76.0,205.5 L76.5,205.5 L77.0,205.4 L77.5,205.4 L78.0,205.3 L78.5,205.3 L79.0,205.2 L79.5,205.2 L80.0,205.1 L80.5,205.1 L81.0,205.0 L81.5,204.9 L82.0,204.9 L82.5,204.8 L83.0,204.8 L83.5,204.7 L84.0,204.6 L84.5,204.6 L85.0,204.5 L85.5,204.4 L86.0,204.4 L86.5,204.3 L87.0,204.2 L87.5,204.1 L88.0,204.0 L88.5,203.9 L89.0,203.8 L89.5,203.7 L90.0,203.6 L90.5,203.5 L91.0,203.4 L91.5,203.3 L92.0,203.2 L92.5,203.1 L93.0,203.0 L93.5,202.9 L94.0,202.8 L94.5,202.7 L95.0,202.6 L95.5,202.5 L96.0,202.4 L96.5,202.3 L97.0,202.2 L97.5,202.1 L98.0,202.0 L98.5,201.9 L99.0,201.8 L99.5,201.8 L100.0,201.7 L100.5,201.6 L101.0,201.6 L101.5,201.5 L102.0,201.4 L102.5,201.4 L103.0,201.3 L103.5,201.3 L104.0,201.2 L104.5,201.1 L105.0,200.9 L105.5,200.8 L106.0,200.5 L106.5,200.3 L107.0,200.0 L107.5,199.7 L108.0,199.4 L108.5,199.1 L109.0,198.8 L109.5,198.6 L110.0,198.4 L110.5,198.2 L111.0,198.1 L111.5,198.0 L112.0,197.9 L112.5,197.8 L113.0,197.7 L113.5,197.5 L114.0,197.2 L114.5,196.7 L115.0,196.1 L115.5,195.4 L116.0,194.5 L116.5,193.5 L117.0,192.4 L117.5,191.3 L118.0,190.1 L118.5,188.9 L119.0,187.6 L119.5,186.2 L120.0,184.6 L120.5,182.9 L121.0,181.3 L121.5,179.7 L122.0,178.3 L122.5,177.2 L123.0,176.5 L123.5,176.3 L124.0,176.5 L124.5,177.1 L125.0,178.1 L125.5,179.3 L126.0,180.6 L126.5,182.1 L127.0,183.6 L127.5,185.1 L128.0,186.7 L128.5,188.3 L129.0,189.9 L129.5,191.7 L130.0,193.4 L130.5,195.1 L131.0,196.8 L131.5,198.3 L132.0,199.5 L132.5,200.6 L133.0,201.4 L133.5,202.0 L134.0,202.4 L134.5,202.8 L135.0,203.2 L135.5,203.5 L136.0,203.8 L136.5,204.0 L137.0,204.3 L137.5,204.5 L138.0,204.6 L138.5,204.8 L139.0,204.9 L139.5,204.9 L140.0,205.0 L140.5,205.0 L141.0,205.0 L141.5,204.9 L142.0,204.9 L142.5,204.9 L143.0,204.8 L143.5,204.8 L144.0,204.7 L144.5,204.6 L145.0,204.5 L145.5,204.5 L146.0,204.4 L146.5,204.2 L147.0,204.1 L147.5,204.0 L148.0,203.9 L148.5,203.7 L149.0,203.6 L149.5,203.4 L150.0,203.3 L150.5,203.1 L151.0,203.0 L151.5,202.8 L152.0,202.6 L152.5,202.4 L153.0,202.2 L153.5,202.0 L154.0,201.8 L154.5,201.5 L155.0,201.2 L155.5,200.8 L156.0,200.4 L156.5,199.9 L157.0,199.4 L157.5,198.9 L158.0,198.3 L158.5,197.6 L159.0,197.0 L159.5,196.3 L160.0,195.6 L160.5,194.8 L161.0,194.0 L161.5,193.0 L162.0,192.1 L162.5,191.0 L163.0,189.9 L163.5,188.8 L164.0,187.8 L164.5,186.7 L165.0,185.7 L165.5,184.8 L166.0,184.0 L166.5,183.3 L167.0,182.6 L167.5,182.0 L168.0,181.5 L168.5,181.0 L169.0,180.6 L169.5,180.1 L170.0,179.7 L170.5,179.2 L171.0,178.8 L171.5,178.5 L172.0,178.1 L172.5,177.8 L173.0,177.6 L173.5,177.4 L174.0,177.2 L174.5,177.1 L175.0,177.0 L175.5,177.0 L176.0,177.1 L176.5,177.3 L177.0,177.6 L177.5,177.9 L178.0,178.4 L178.5,178.9 L179.0,179.4 L179.5,180.0 L180.0,180.6 L180.5,181.3 L181.0,181.9 L181.5,182.6 L182.0,183.3 L182.5,183.9 L183.0,184.6 L183.5,185.4 L184.0,186.2 L184.5,187.0 L185.0,187.9 L185.5,188.9 L186.0,189.8 L186.5,190.8 L187.0,191.8 L187.5,192.8 L188.0,193.8 L188.5,194.7 L189.0,195.6 L189.5,196.4 L190.0,197.2 L190.5,197.9 L191.0,198.5 L191.5,199.0 L192.0,199.5 L192.5,199.9 L193.0,200.3 L193.5,200.6 L194.0,201.0 L194.5,201.3 L195.0,201.7 L195.5,202.0 L196.0,202.3 L196.5,202.6 L197.0,202.9 L197.5,203.2 L198.0,203.4 L198.5,203.7 L199.0,203.9 L199.5,204.1 L200.0,204.3 L200.5,204.5 L201.0,204.7 L201.5,204.8 L202.0,205.0 L202.5,205.1 L203.0,205.2 L203.5,205.3 L204.0,205.4 L204.5,205.5 L205.0,205.5 L205.5,205.6 L206.0,205.7 L206.5,205.7 L207.0,205.8 L207.5,205.9 L208.0,205.9 L208.5,206.0 L209.0,206.1 L209.5,206.1 L210.0,206.2 L210.5,206.2 L211.0,206.3 L211.5,206.3 L212.0,206.4 L212.5,206.4 L213.0,206.5 L213.5,206.5 L214.0,206.6 L214.5,206.6 L215.0,206.6 L215.5,206.7 L216.0,206.7 L216.5,206.7 L217.0,206.8 L217.5,206.8 L218.0,206.8 L218.5,206.9 L219.0,206.9 L219.5,206.9 L220.0,206.9 L220.5,207.0 L221.0,207.0 L221.5,207.0 L222.0,207.0 L222.5,207.0 L223.0,207.1 L223.5,207.1 L224.0,207.1 L224.5,207.1 L225.0,207.1 L225.5,207.1 L226.0,207.1" fill="none" stroke="#111" stroke-width="1.5" stroke-linejoin="round"/>
<path d="M51.0,216.8 L51.5,216.8 L52.0,216.8 L52.5,216.7 L53.0,216.7 L53.5,216.7 L54.0,216.7 L54.5,216.6 L55.0,216.6 L55.5,216.6 L56.0,216.5 L56.5,216.5 L57.0,216.4 L57.5,216.4 L58.0,216.3 L58.5,216.3 L59.0,216.2 L59.5,216.2 L60.0,216.1 L60.5,216.0 L61.0,216.0 L61.5,215.9 L62.0,215.8 L62.5,215.8 L63.0,215.7 L63.5,215.6 L64.0,215.5 L64.5,215.5 L65.0,215.4 L65.5,215.3 L66.0,215.2 L66.5,215.2 L67.0,215.1 L67.5,215.0 L68.0,214.9 L68.5,214.8 L69.0,214.7 L69.5,214.6 L70.0,214.5 L70.5,214.4 L71.0,214.3 L71.5,214.2 L72.0,214.1 L72.5,213.9 L73.0,213.8 L73.5,213.7 L74.0,213.6 L74.5,213.4 L75.0,213.3 L75.5,213.1 L76.0,213.0 L76.5,212.8 L77.0,212.7 L77.5,212.5 L78.0,212.3 L78.5,212.2 L79.0,212.0 L79.5,211.8 L80.0,211.7 L80.5,211.5 L81.0,211.3 L81.5,211.1 L82.0,210.9 L82.5,210.7 L83.0,210.5 L83.5,210.3 L84.0,210.1 L84.5,209.9 L85.0,209.7 L85.5,209.5 L86.0,209.3 L86.5,209.0 L87.0,208.8 L87.5,208.5 L88.0,208.3 L88.5,208.0 L89.0,207.7 L89.5,207.4 L90.0,207.1 L90.5,206.8 L91.0,206.5 L91.5,206.1 L92.0,205.8 L92.5,205.4 L93.0,205.1 L93.5,204.7 L94.0,204.3 L94.5,203.9 L95.0,203.4 L95.5,203.0 L96.0,202.5 L96.5,202.0 L97.0,201.5 L97.5,200.9 L98.0,200.4 L98.5,199.9 L99.0,199.3 L99.5,198.8 L100.0,198.3 L100.5,197.8 L101.0,197.3 L101.5,196.8 L102.0,196.3 L102.5,195.9 L103.0,195.5 L103.5,195.1 L104.0,194.7 L104.5,194.3 L105.0,193.9 L105.5,193.6 L106.0,193.3 L106.5,193.0 L107.0,192.8 L107.5,192.6 L108.0,192.4 L108.5,192.2 L109.0,192.1 L109.5,192.0 L110.0,192.0 L110.5,192.0 L111.0,192.0 L111.5,192.1 L112.0,192.2 L112.5,192.3 L113.0,192.5 L113.5,192.7 L114.0,192.9 L114.5,193.2 L115.0,193.4 L115.5,193.7 L116.0,194.1 L116.5,194.5 L117.0,194.9 L117.5,195.3 L118.0,195.8 L118.5,196.3 L119.0,196.9 L119.5,197.6 L120.0,198.2 L120.5,198.9 L121.0,199.6 L121.5,200.3 L122.0,201.0 L122.5,201.8 L123.0,202.5 L123.5,203.2 L124.0,203.9 L124.5,204.6 L125.0,205.3 L125.5,205.9 L126.0,206.6 L126.5,207.2 L127.0,207.8 L127.5,208.4 L128.0,208.9 L128.5,209.4 L129.0,209.9 L129.5,210.3 L130.0,210.7 L130.5,211.0 L131.0,211.3 L131.5,211.6 L132.0,211.9 L132.5,212.2 L133.0,212.4 L133.5,212.7 L134.0,212.9 L134.5,213.1 L135.0,213.3 L135.5,213.5 L136.0,213.7 L136.5,213.8 L137.0,213.9 L137.5,214.1 L138.0,214.2 L138.5,214.3 L139.0,214.3 L139.5,214.4 L140.0,214.4 L140.5,214.4 L141.0,214.4 L141.5,214.4 L142.0,214.4 L142.5,214.3 L143.0,214.3 L143.5,214.2 L144.0,214.1 L144.5,214.1 L145.0,214.0 L145.5,213.9 L146.0,213.8 L146.5,213.7 L147.0,213.6 L147.5,213.5 L148.0,213.3 L148.5,213.2 L149.0,213.1 L149.5,212.9 L150.0,212.8 L150.5,212.6 L151.0,212.5 L151.5,212.3 L152.0,212.2 L152.5,212.0 L153.0,211.8 L153.5,211.6 L154.0,211.4 L154.5,211.2 L155.0,211.0 L155.5,210.8 L156.0,210.5 L156.5,210.3 L157.0,210.0 L157.5,209.7 L158.0,209.3 L158.5,209.0 L159.0,208.6 L159.5,208.3 L160.0,207.9 L160.5,207.5 L161.0,207.1 L161.5,206.6 L162.0,206.2 L162.5,205.7 L163.0,205.2 L163.5,204.7 L164.0,204.2 L164.5,203.7 L165.0,203.2 L165.5,202.6 L166.0,202.1 L166.5,201.6 L167.0,201.0 L167.5,200.5 L168.0,200.0 L168.5,199.5 L169.0,199.0 L169.5,198.5 L170.0,198.0 L170.5,197.5 L171.0,197.0 L171.5,196.6 L172.0,196.1 L172.5,195.6 L173.0,195.1 L173.5,194.7 L174.0,194.2 L174.5,193.7 L175.0,193.3 L175.5,192.8 L176.0,192.4 L176.5,192.0 L177.0,191.7 L177.5,191.3 L178.0,191.0 L178.5,190.8 L179.0,190.6 L179.5,190.5 L180.0,190.5 L180.5,190.5 L181.0,190.6 L181.5,190.9 L182.0,191.2 L182.5,191.6 L183.0,192.1 L183.5,192.7 L184.0,193.3 L184.5,194.0 L185.0,194.7 L185.5,195.4 L186.0,196.2 L186.5,196.9 L187.0,197.6 L187.5,198.3 L188.0,199.0 L188.5,199.6 L189.0,200.3 L189.5,200.9 L190.0,201.5 L190.5,202.1 L191.0,202.7 L191.5,203.2 L192.0,203.8 L192.5,204.3 L193.0,204.9 L193.5,205.4 L194.0,205.9 L194.5,206.4 L195.0,206.9 L195.5,207.3 L196.0,207.8 L196.5,208.2 L197.0,208.5 L197.5,208.9 L198.0,209.2 L198.5,209.5 L199.0,209.8 L199.5,210.0 L200.0,210.3 L200.5,210.5 L201.0,210.8 L201.5,211.0 L202.0,211.2 L202.5,211.4 L203.0,211.6 L203.5,211.7 L204.0,211.9 L204.5,212.1 L205.0,212.3 L205.5,212.4 L206.0,212.6 L206.5,212.7 L207.0,212.9 L207.5,213.0 L208.0,213.1 L208.5,213.3 L209.0,213.4 L209.5,213.5 L210.0,213.6 L210.5,213.7 L211.0,213.8 L211.5,213.9 L212.0,214.0 L212.5,214.1 L213.0,214.1 L213.5,214.2 L214.0,214.3 L214.5,214.4 L215.0,214.5 L215.5,214.5 L216.0,214.6 L216.5,214.7 L217.0,214.7 L217.5,214.8 L218.0,214.9 L218.5,214.9 L219.0,215.0 L219.5,215.0 L220.0,215.1 L220.5,215.2 L221.0,215.2 L221.5,215.2 L222.0,215.3 L222.5,215.3 L223.0,215.4 L223.5,215.4 L224.0,215.4 L224.5,215.4 L225.0,215.5 L225.5,215.5 L226.0,215.5" fill="none" stroke="#1e8a1e" stroke-width="1.5" stroke-linejoin="round"/>
<path d="M51.0,226.8 L51.5,226.8 L52.0,226.8 L52.5,226.8 L53.0,226.8 L53.5,226.7 L54.0,226.7 L54.5,226.7 L55.0,226.7 L55.5,226.7 L56.0,226.6 L56.5,226.6 L57.0,226.6 L57.5,226.5 L58.0,226.5 L58.5,226.4 L59.0,226.4 L59.5,226.4 L60.0,226.3 L60.5,226.3 L61.0,226.2 L61.5,226.2 L62.0,226.1 L62.5,226.1 L63.0,226.0 L63.5,226.0 L64.0,225.9 L64.5,225.8 L65.0,225.8 L65.5,225.7 L66.0,225.7 L66.5,225.6 L67.0,225.6 L67.5,225.5 L68.0,225.4 L68.5,225.4 L69.0,225.3 L69.5,225.2 L70.0,225.1 L70.5,225.0 L71.0,225.0 L71.5,224.9 L72.0,224.8 L72.5,224.7 L73.0,224.6 L73.5,224.5 L74.0,224.4 L74.5,224.3 L75.0,224.1 L75.5,224.0 L76.0,223.9 L76.5,223.8 L77.0,223.6 L77.5,223.5 L78.0,223.4 L78.5,223.2 L79.0,223.1 L79.5,222.9 L80.0,222.8 L80.5,222.6 L81.0,222.5 L81.5,222.3 L82.0,222.2 L82.5,222.0 L83.0,221.8 L83.5,221.6 L84.0,221.5 L84.5,221.3 L85.0,221.1 L85.5,220.9 L86.0,220.7 L86.5,220.4 L87.0,220.2 L87.5,220.0 L88.0,219.7 L88.5,219.4 L89.0,219.1 L89.5,218.8 L90.0,218.5 L90.5,218.2 L91.0,217.9 L91.5,217.6 L92.0,217.2 L92.5,216.9 L93.0,216.5 L93.5,216.1 L94.0,215.7 L94.5,215.3 L95.0,214.8 L95.5,214.4 L96.0,213.9 L96.5,213.4 L97.0,212.9 L97.5,212.3 L98.0,211.8 L98.5,211.3 L99.0,210.7 L99.5,210.2 L100.0,209.7 L100.5,209.2 L101.0,208.7 L101.5,208.2 L102.0,207.7 L102.5,207.3 L103.0,206.8 L103.5,206.4 L104.0,206.0 L104.5,205.6 L105.0,205.2 L105.5,204.9 L106.0,204.6 L106.5,204.4 L107.0,204.1 L107.5,204.0 L108.0,203.9 L108.5,203.8 L109.0,203.7 L109.5,203.7 L110.0,203.8 L110.5,203.8 L111.0,203.9 L111.5,204.1 L112.0,204.3 L112.5,204.5 L113.0,204.7 L113.5,205.0 L114.0,205.4 L114.5,205.7 L115.0,206.1 L115.5,206.5 L116.0,206.9 L116.5,207.4 L117.0,207.9 L117.5,208.3 L118.0,208.8 L118.5,209.3 L119.0,209.8 L119.5,210.4 L120.0,210.9 L120.5,211.5 L121.0,212.1 L121.5,212.7 L122.0,213.4 L122.5,214.0 L123.0,214.7 L123.5,215.3 L124.0,215.9 L124.5,216.5 L125.0,217.1 L125.5,217.7 L126.0,218.3 L126.5,218.8 L127.0,219.3 L127.5,219.8 L128.0,220.3 L128.5,220.7 L129.0,221.1 L129.5,221.6 L130.0,221.9 L130.5,222.3 L131.0,222.6 L131.5,222.9 L132.0,223.2 L132.5,223.4 L133.0,223.6 L133.5,223.7 L134.0,223.9 L134.5,224.0 L135.0,224.1 L135.5,224.2 L136.0,224.2 L136.5,224.3 L137.0,224.4 L137.5,224.4 L138.0,224.5 L138.5,224.5 L139.0,224.5 L139.5,224.5 L140.0,224.5 L140.5,224.5 L141.0,224.5 L141.5,224.4 L142.0,224.4 L142.5,224.3 L143.0,224.3 L143.5,224.2 L144.0,224.1 L144.5,224.0 L145.0,223.9 L145.5,223.7 L146.0,223.6 L146.5,223.5 L147.0,223.3 L147.5,223.2 L148.0,223.0 L148.5,222.9 L149.0,222.7 L149.5,222.5 L150.0,222.4 L150.5,222.2 L151.0,222.1 L151.5,221.9 L152.0,221.7 L152.5,221.6 L153.0,221.4 L153.5,221.3 L154.0,221.2 L154.5,221.0 L155.0,220.9 L155.5,220.8 L156.0,220.6 L156.5,220.5 L157.0,220.3 L157.5,220.2 L158.0,220.0 L158.5,219.8 L159.0,219.6 L159.5,219.4 L160.0,219.2 L160.5,218.9 L161.0,218.6 L161.5,218.3 L162.0,217.9 L162.5,217.5 L163.0,217.0 L163.5,216.5 L164.0,216.0 L164.5,215.5 L165.0,215.0 L165.5,214.4 L166.0,213.9 L166.5,213.3 L167.0,212.7 L167.5,212.1 L168.0,211.6 L168.5,211.0 L169.0,210.5 L169.5,210.0 L170.0,209.4 L170.5,208.9 L171.0,208.4 L171.5,207.9 L172.0,207.4 L172.5,206.9 L173.0,206.3 L173.5,205.8 L174.0,205.3 L174.5,204.8 L175.0,204.3 L175.5,203.9 L176.0,203.4 L176.5,203.0 L177.0,202.6 L177.5,202.3 L178.0,202.0 L178.5,201.8 L179.0,201.7 L179.5,201.6 L180.0,201.6 L180.5,201.7 L181.0,201.8 L181.5,202.1 L182.0,202.4 L182.5,202.8 L183.0,203.3 L183.5,203.8 L184.0,204.4 L184.5,205.0 L185.0,205.7 L185.5,206.3 L186.0,207.0 L186.5,207.7 L187.0,208.3 L187.5,209.0 L188.0,209.6 L188.5,210.2 L189.0,210.8 L189.5,211.4 L190.0,211.9 L190.5,212.5 L191.0,213.1 L191.5,213.7 L192.0,214.2 L192.5,214.8 L193.0,215.4 L193.5,215.9 L194.0,216.4 L194.5,216.9 L195.0,217.4 L195.5,217.9 L196.0,218.3 L196.5,218.7 L197.0,219.1 L197.5,219.5 L198.0,219.8 L198.5,220.1 L199.0,220.4 L199.5,220.6 L200.0,220.9 L200.5,221.1 L201.0,221.3 L201.5,221.5 L202.0,221.7 L202.5,221.9 L203.0,222.1 L203.5,222.3 L204.0,222.5 L204.5,222.6 L205.0,222.8 L205.5,222.9 L206.0,223.1 L206.5,223.2 L207.0,223.4 L207.5,223.5 L208.0,223.6 L208.5,223.8 L209.0,223.9 L209.5,224.0 L210.0,224.1 L210.5,224.2 L211.0,224.3 L211.5,224.4 L212.0,224.5 L212.5,224.6 L213.0,224.7 L213.5,224.7 L214.0,224.8 L214.5,224.9 L215.0,225.0 L215.5,225.0 L216.0,225.1 L216.5,225.2 L217.0,225.3 L217.5,225.3 L218.0,225.4 L218.5,225.5 L219.0,225.5 L219.5,225.6 L220.0,225.6 L220.5,225.7 L221.0,225.8 L221.5,225.8 L222.0,225.8 L222.5,225.9 L223.0,225.9 L223.5,226.0 L224.0,226.0 L224.5,226.0 L225.0,226.0 L225.5,226.1 L226.0,226.1" fill="none" stroke="#ff1a1a" stroke-width="1.5" stroke-linejoin="round"/>
<path d="M51.0,227.8 L51.5,227.8 L52.0,227.8 L52.5,227.8 L53.0,227.8 L53.5,227.7 L54.0,227.7 L54.5,227.7 L55.0,227.7 L55.5,227.7 L56.0,227.6 L56.5,227.6 L57.0,227.6 L57.5,227.5 L58.0,227.5 L58.5,227.4 L59.0,227.4 L59.5,227.3 L60.0,227.3 L60.5,227.2 L61.0,227.1 L61.5,227.1 L62.0,227.0 L62.5,227.0 L63.0,226.9 L63.5,226.8 L64.0,226.7 L64.5,226.6 L65.0,226.6 L65.5,226.5 L66.0,226.4 L66.5,226.3 L67.0,226.2 L67.5,226.1 L68.0,226.0 L68.5,225.9 L69.0,225.8 L69.5,225.7 L70.0,225.6 L70.5,225.5 L71.0,225.4 L71.5,225.3 L72.0,225.2 L72.5,225.1 L73.0,224.9 L73.5,224.8 L74.0,224.7 L74.5,224.6 L75.0,224.5 L75.5,224.3 L76.0,224.2 L76.5,224.1 L77.0,223.9 L77.5,223.8 L78.0,223.7 L78.5,223.5 L79.0,223.4 L79.5,223.3 L80.0,223.1 L80.5,223.0 L81.0,222.8 L81.5,222.7 L82.0,222.5 L82.5,222.4 L83.0,222.2 L83.5,222.1 L84.0,221.9 L84.5,221.8 L85.0,221.6 L85.5,221.4 L86.0,221.2 L86.5,221.0 L87.0,220.8 L87.5,220.6 L88.0,220.3 L88.5,220.0 L89.0,219.7 L89.5,219.4 L90.0,219.1 L90.5,218.8 L91.0,218.5 L91.5,218.1 L92.0,217.8 L92.5,217.4 L93.0,217.0 L93.5,216.7 L94.0,216.3 L94.5,215.8 L95.0,215.4 L95.5,214.9 L96.0,214.4 L96.5,213.9 L97.0,213.4 L97.5,212.8 L98.0,212.3 L98.5,211.7 L99.0,211.2 L99.5,210.7 L100.0,210.2 L100.5,209.7 L101.0,209.3 L101.5,208.9 L102.0,208.5 L102.5,208.1 L103.0,207.8 L103.5,207.5 L104.0,207.2 L104.5,207.0 L105.0,206.7 L105.5,206.5 L106.0,206.2 L106.5,206.0 L107.0,205.8 L107.5,205.6 L108.0,205.5 L108.5,205.3 L109.0,205.2 L109.5,205.2 L110.0,205.1 L110.5,205.2 L111.0,205.3 L111.5,205.4 L112.0,205.6 L112.5,205.9 L113.0,206.3 L113.5,206.6 L114.0,207.1 L114.5,207.5 L115.0,208.0 L115.5,208.6 L116.0,209.1 L116.5,209.6 L117.0,210.2 L117.5,210.8 L118.0,211.3 L118.5,211.9 L119.0,212.4 L119.5,213.0 L120.0,213.6 L120.5,214.3 L121.0,214.9 L121.5,215.6 L122.0,216.2 L122.5,216.9 L123.0,217.6 L123.5,218.2 L124.0,218.9 L124.5,219.4 L125.0,220.0 L125.5,220.5 L126.0,220.9 L126.5,221.3 L127.0,221.7 L127.5,222.0 L128.0,222.4 L128.5,222.7 L129.0,223.0 L129.5,223.3 L130.0,223.5 L130.5,223.8 L131.0,224.0 L131.5,224.1 L132.0,224.3 L132.5,224.4 L133.0,224.5 L133.5,224.6 L134.0,224.7 L134.5,224.7 L135.0,224.8 L135.5,224.8 L136.0,224.9 L136.5,224.9 L137.0,225.0 L137.5,225.0 L138.0,225.0 L138.5,225.1 L139.0,225.1 L139.5,225.1 L140.0,225.2 L140.5,225.2 L141.0,225.2 L141.5,225.2 L142.0,225.2 L142.5,225.3 L143.0,225.3 L143.5,225.3 L144.0,225.3 L144.5,225.3 L145.0,225.3" fill="none" stroke="#808080" stroke-width="1.1"/>
<path d="M51.0,227.8 L51.5,227.8 L52.0,227.8 L52.5,227.8 L53.0,227.8 L53.5,227.8 L54.0,227.8 L54.5,227.8 L55.0,227.8 L55.5,227.8 L56.0,227.8 L56.5,227.8 L57.0,227.8 L57.5,227.8 L58.0,227.8 L58.5,227.8 L59.0,227.8 L59.5,227.8 L60.0,227.7 L60.5,227.7 L61.0,227.7 L61.5,227.7 L62.0,227.7 L62.5,227.7 L63.0,227.7 L63.5,227.7 L64.0,227.7 L64.5,227.7 L65.0,227.7 L65.5,227.7 L66.0,227.7 L66.5,227.6 L67.0,227.6 L67.5,227.6 L68.0,227.6 L68.5,227.6 L69.0,227.6 L69.5,227.6 L70.0,227.6 L70.5,227.6 L71.0,227.5 L71.5,227.5 L72.0,227.5 L72.5,227.5 L73.0,227.5 L73.5,227.5 L74.0,227.5 L74.5,227.5 L75.0,227.4 L75.5,227.4 L76.0,227.4 L76.5,227.4 L77.0,227.4 L77.5,227.4 L78.0,227.3 L78.5,227.3 L79.0,227.3 L79.5,227.3 L80.0,227.3 L80.5,227.3 L81.0,227.2 L81.5,227.2 L82.0,227.2 L82.5,227.2 L83.0,227.2 L83.5,227.1 L84.0,227.1 L84.5,227.1 L85.0,227.1 L85.5,227.1 L86.0,227.0 L86.5,227.0 L87.0,227.0 L87.5,227.0 L88.0,226.9 L88.5,226.9 L89.0,226.9 L89.5,226.9 L90.0,226.9 L90.5,226.8 L91.0,226.8 L91.5,226.8 L92.0,226.8 L92.5,226.7 L93.0,226.7 L93.5,226.7 L94.0,226.6 L94.5,226.6 L95.0,226.6 L95.5,226.6 L96.0,226.5 L96.5,226.5 L97.0,226.5 L97.5,226.5 L98.0,226.4 L98.5,226.4 L99.0,226.4 L99.5,226.3 L100.0,226.3 L100.5,226.3 L101.0,226.3 L101.5,226.2 L102.0,226.2 L102.5,226.2 L103.0,226.1 L103.5,226.1 L104.0,226.1 L104.5,226.0 L105.0,226.0 L105.5,226.0 L106.0,225.9 L106.5,225.9 L107.0,225.8 L107.5,225.8 L108.0,225.7 L108.5,225.6 L109.0,225.6 L109.5,225.5 L110.0,225.4 L110.5,225.3 L111.0,225.2 L111.5,225.1 L112.0,225.0 L112.5,224.9 L113.0,224.7 L113.5,224.6 L114.0,224.3 L114.5,224.0 L115.0,223.7 L115.5,223.3 L116.0,222.9 L116.5,222.5 L117.0,222.1 L117.5,221.7 L118.0,221.4 L118.5,221.3 L119.0,221.2 L119.5,221.3 L120.0,221.5 L120.5,221.7 L121.0,222.1 L121.5,222.5 L122.0,222.9 L122.5,223.3 L123.0,223.7 L123.5,224.0 L124.0,224.3 L124.5,224.5 L125.0,224.6 L125.5,224.7 L126.0,224.8 L126.5,224.8 L127.0,224.9 L127.5,224.9 L128.0,225.0 L128.5,225.0 L129.0,225.0 L129.5,225.1 L130.0,225.1 L130.5,225.1 L131.0,225.1 L131.5,225.2 L132.0,225.2 L132.5,225.2 L133.0,225.2 L133.5,225.2 L134.0,225.2 L134.5,225.2 L135.0,225.2 L135.5,225.2 L136.0,225.2 L136.5,225.2 L137.0,225.3 L137.5,225.3 L138.0,225.3 L138.5,225.3 L139.0,225.3 L139.5,225.3 L140.0,225.3 L140.5,225.3 L141.0,225.3 L141.5,225.3 L142.0,225.3 L142.5,225.3 L143.0,225.3 L143.5,225.3 L144.0,225.3 L144.5,225.3 L145.0,225.3" fill="none" stroke="#ff22ff" stroke-width="1.3"/>
<line x1="119" y1="225.6" x2="145.4" y2="225.4" stroke="#2aa0a0" stroke-width="1.1"/>
<line x1="107.8" y1="182.5" x2="107.8" y2="220.6" stroke="#444" stroke-width="0.9" stroke-dasharray="1.5,1.5"/>
<line x1="118.8" y1="111.4" x2="118.8" y2="234.3" stroke="#444" stroke-width="0.9" stroke-dasharray="1.5,1.5"/>
<line x1="123.3" y1="111.4" x2="123.3" y2="189.6" stroke="#444" stroke-width="0.9" stroke-dasharray="1.5,1.5"/>
<line x1="175.6" y1="116.3" x2="175.6" y2="214.1" stroke="#444" stroke-width="0.9" stroke-dasharray="1.5,1.5"/>
<line x1="180.0" y1="131" x2="180.0" y2="214.1" stroke="#444" stroke-width="0.9" stroke-dasharray="1.5,1.5"/>
<line x1="56.5" y1="125.8" x2="69.6" y2="125.8" stroke="#8c8c8c" stroke-width="1.3"/>
<text x="70.9" y="128.1" font-family='"Liberation Sans", sans-serif' font-size="6.5" font-weight="normal" fill="#222" text-anchor="start" >MoS<tspan font-size="4.5" dy="1.5">2</tspan></text>
<line x1="56.5" y1="135.9" x2="69.6" y2="135.9" stroke="#ff2a9a" stroke-width="1.3"/>
<text x="70.9" y="138.20000000000002" font-family='"Liberation Sans", sans-serif' font-size="6.5" font-weight="normal" fill="#222" text-anchor="start" >2nm Pd</text>
<line x1="56.5" y1="143.6" x2="69.6" y2="143.6" stroke="#2a2aff" stroke-width="1.3"/>
<text x="70.9" y="145.9" font-family='"Liberation Sans", sans-serif' font-size="6.5" font-weight="normal" fill="#222" text-anchor="start" >3nm Pd</text>
<line x1="56.5" y1="172.2" x2="69.6" y2="172.2" stroke="#111" stroke-width="1.3"/>
<text x="70.9" y="174.5" font-family='"Liberation Sans", sans-serif' font-size="6.5" font-weight="normal" fill="#222" text-anchor="start" >MoS<tspan font-size="4.5" dy="1.5">2</tspan></text>
<line x1="56.5" y1="182.2" x2="69.6" y2="182.2" stroke="#ff1a1a" stroke-width="1.3"/>
<text x="70.9" y="184.5" font-family='"Liberation Sans", sans-serif' font-size="6.5" font-weight="normal" fill="#222" text-anchor="start" >2nm Au</text>
<line x1="56.5" y1="189.6" x2="69.6" y2="189.6" stroke="#1e8a1e" stroke-width="1.3"/>
<text x="70.9" y="191.9" font-family='"Liberation Sans", sans-serif' font-size="6.5" font-weight="normal" fill="#222" text-anchor="start" >3nm Au</text>
<text x="4.3" y="261.1" font-family='"Liberation Sans", sans-serif' font-size="15.3" font-weight="bold" fill="#000" text-anchor="start" >(c)</text>
<rect x="50.8" y="260.0" width="174.8" height="136.39999999999998" fill="none" stroke="#333" stroke-width="1.4"/>
<line x1="50.80" y1="396.4" x2="50.80" y2="393.4" stroke="#333" stroke-width="0.8"/>
<line x1="94.50" y1="396.4" x2="94.50" y2="393.4" stroke="#333" stroke-width="0.8"/>
<line x1="138.20" y1="396.4" x2="138.20" y2="393.4" stroke="#333" stroke-width="0.8"/>
<line x1="181.90" y1="396.4" x2="181.90" y2="393.4" stroke="#333" stroke-width="0.8"/>
<line x1="225.60" y1="396.4" x2="225.60" y2="393.4" stroke="#333" stroke-width="0.8"/>
<line x1="72.65" y1="396.4" x2="72.65" y2="394.4" stroke="#333" stroke-width="0.8"/>
<line x1="116.35" y1="396.4" x2="116.35" y2="394.4" stroke="#333" stroke-width="0.8"/>
<line x1="160.05" y1="396.4" x2="160.05" y2="394.4" stroke="#333" stroke-width="0.8"/>
<line x1="203.75" y1="396.4" x2="203.75" y2="394.4" stroke="#333" stroke-width="0.8"/>
<line x1="50.80" y1="260.0" x2="50.80" y2="263.0" stroke="#333" stroke-width="0.8"/>
<line x1="94.50" y1="260.0" x2="94.50" y2="263.0" stroke="#333" stroke-width="0.8"/>
<line x1="138.20" y1="260.0" x2="138.20" y2="263.0" stroke="#333" stroke-width="0.8"/>
<line x1="181.90" y1="260.0" x2="181.90" y2="263.0" stroke="#333" stroke-width="0.8"/>
<line x1="225.60" y1="260.0" x2="225.60" y2="263.0" stroke="#333" stroke-width="0.8"/>
<line x1="72.65" y1="260.0" x2="72.65" y2="262.0" stroke="#333" stroke-width="0.8"/>
<line x1="116.35" y1="260.0" x2="116.35" y2="262.0" stroke="#333" stroke-width="0.8"/>
<line x1="160.05" y1="260.0" x2="160.05" y2="262.0" stroke="#333" stroke-width="0.8"/>
<line x1="203.75" y1="260.0" x2="203.75" y2="262.0" stroke="#333" stroke-width="0.8"/>
<line x1="50.8" y1="396.40" x2="53.8" y2="396.40" stroke="#333" stroke-width="0.8"/>
<line x1="50.8" y1="369.12" x2="53.8" y2="369.12" stroke="#333" stroke-width="0.8"/>
<line x1="50.8" y1="341.84" x2="53.8" y2="341.84" stroke="#333" stroke-width="0.8"/>
<line x1="50.8" y1="314.56" x2="53.8" y2="314.56" stroke="#333" stroke-width="0.8"/>
<line x1="50.8" y1="287.28" x2="53.8" y2="287.28" stroke="#333" stroke-width="0.8"/>
<line x1="50.8" y1="260.00" x2="53.8" y2="260.00" stroke="#333" stroke-width="0.8"/>
<line x1="50.8" y1="382.76" x2="52.8" y2="382.76" stroke="#333" stroke-width="0.8"/>
<line x1="50.8" y1="355.48" x2="52.8" y2="355.48" stroke="#333" stroke-width="0.8"/>
<line x1="50.8" y1="328.20" x2="52.8" y2="328.20" stroke="#333" stroke-width="0.8"/>
<line x1="50.8" y1="300.92" x2="52.8" y2="300.92" stroke="#333" stroke-width="0.8"/>
<line x1="50.8" y1="273.64" x2="52.8" y2="273.64" stroke="#333" stroke-width="0.8"/>
<line x1="225.6" y1="396.40" x2="222.6" y2="396.40" stroke="#333" stroke-width="0.8"/>
<line x1="225.6" y1="369.12" x2="222.6" y2="369.12" stroke="#333" stroke-width="0.8"/>
<line x1="225.6" y1="341.84" x2="222.6" y2="341.84" stroke="#333" stroke-width="0.8"/>
<line x1="225.6" y1="314.56" x2="222.6" y2="314.56" stroke="#333" stroke-width="0.8"/>
<line x1="225.6" y1="287.28" x2="222.6" y2="287.28" stroke="#333" stroke-width="0.8"/>
<line x1="225.6" y1="260.00" x2="222.6" y2="260.00" stroke="#333" stroke-width="0.8"/>
<line x1="225.6" y1="382.76" x2="223.6" y2="382.76" stroke="#333" stroke-width="0.8"/>
<line x1="225.6" y1="355.48" x2="223.6" y2="355.48" stroke="#333" stroke-width="0.8"/>
<line x1="225.6" y1="328.20" x2="223.6" y2="328.20" stroke="#333" stroke-width="0.8"/>
<line x1="225.6" y1="300.92" x2="223.6" y2="300.92" stroke="#333" stroke-width="0.8"/>
<line x1="225.6" y1="273.64" x2="223.6" y2="273.64" stroke="#333" stroke-width="0.8"/>
<text x="48.3" y="398.59999999999997" font-family='"Liberation Sans", sans-serif' font-size="6.2" font-weight="bold" fill="#111" text-anchor="end" >0</text>
<text x="48.3" y="371.32" font-family='"Liberation Sans", sans-serif' font-size="6.2" font-weight="bold" fill="#111" text-anchor="end" >500</text>
<text x="48.3" y="344.03999999999996" font-family='"Liberation Sans", sans-serif' font-size="6.2" font-weight="bold" fill="#111" text-anchor="end" >1000</text>
<text x="48.3" y="316.76" font-family='"Liberation Sans", sans-serif' font-size="6.2" font-weight="bold" fill="#111" text-anchor="end" >1500</text>
<text x="48.3" y="289.47999999999996" font-family='"Liberation Sans", sans-serif' font-size="6.2" font-weight="bold" fill="#111" text-anchor="end" >2000</text>
<text x="48.3" y="262.2" font-family='"Liberation Sans", sans-serif' font-size="6.2" font-weight="bold" fill="#111" text-anchor="end" >2500</text>
<text x="50.8" y="403.5" font-family='"Liberation Sans", sans-serif' font-size="6.2" font-weight="bold" fill="#111" text-anchor="middle" >350</text>
<text x="94.5" y="403.5" font-family='"Liberation Sans", sans-serif' font-size="6.2" font-weight="bold" fill="#111" text-anchor="middle" >400</text>
<text x="138.2" y="403.5" font-family='"Liberation Sans", sans-serif' font-size="6.2" font-weight="bold" fill="#111" text-anchor="middle" >450</text>
<text x="181.90000000000003" y="403.5" font-family='"Liberation Sans", sans-serif' font-size="6.2" font-weight="bold" fill="#111" text-anchor="middle" >500</text>
<text x="225.60000000000002" y="403.5" font-family='"Liberation Sans", sans-serif' font-size="6.2" font-weight="bold" fill="#111" text-anchor="middle" >550</text>
<text x="96.8" y="413.6" font-family='"Liberation Serif", serif' font-size="9.2" font-weight="bold" fill="#111" text-anchor="start" textLength="49.9" lengthAdjust="spacingAndGlyphs">Raman Shift</text>
<text x="152.8" y="413.90000000000003" font-family='"Liberation Serif", serif' font-size="8.6" font-weight="normal" fill="#111" text-anchor="start" >(</text>
<text x="157.7" y="413.6" font-family='"Liberation Serif", serif' font-size="9.2" font-weight="bold" fill="#111" text-anchor="start" textLength="9.2" lengthAdjust="spacingAndGlyphs">cm</text>
<text x="166.8" y="409.40000000000003" font-family='"Liberation Serif", serif' font-size="4.8" font-weight="bold" fill="#111" text-anchor="start" >-1</text>
<text x="172.6" y="413.90000000000003" font-family='"Liberation Serif", serif' font-size="8.6" font-weight="normal" fill="#111" text-anchor="start" >)</text>
<text transform="translate(30.8,327.3) rotate(-90)" x="0" y="0" font-family='"Liberation Serif", serif' font-size="10.1" font-weight="bold" fill="#111" text-anchor="middle">Intensity (a.u.)</text>
<path d="M50.8,394.5 L51.2,394.5 L51.6,394.4 L52.0,394.4 L52.4,394.4 L52.8,394.4 L53.2,394.3 L53.6,394.3 L54.0,394.3 L54.4,394.2 L54.8,394.2 L55.2,394.2 L55.6,394.2 L56.0,394.1 L56.4,394.1 L56.8,394.1 L57.2,394.0 L57.6,394.0 L58.0,394.0 L58.4,393.9 L58.8,393.9 L59.2,393.9 L59.6,393.9 L60.0,393.8 L60.4,393.8 L60.8,393.8 L61.2,393.7 L61.6,393.7 L62.0,393.7 L62.4,393.6 L62.8,393.6 L63.2,393.6 L63.6,393.5 L64.0,393.5 L64.4,393.5 L64.8,393.4 L65.2,393.4 L65.6,393.4 L66.0,393.3 L66.4,393.3 L66.8,393.3 L67.2,393.2 L67.6,393.2 L68.0,393.1 L68.4,393.1 L68.8,393.0 L69.2,393.0 L69.6,392.9 L70.0,392.9 L70.4,392.8 L70.8,392.7 L71.2,392.7 L71.6,392.6 L72.0,392.6 L72.4,392.5 L72.8,392.4 L73.2,392.4 L73.6,392.3 L74.0,392.2 L74.4,392.1 L74.8,392.0 L75.2,391.9 L75.6,391.8 L76.0,391.6 L76.4,391.4 L76.8,391.2 L77.2,390.9 L77.6,390.5 L78.0,390.0 L78.4,389.3 L78.8,388.3 L79.2,387.1 L79.6,385.6 L80.0,383.9 L80.4,382.5 L80.8,382.2 L81.2,383.1 L81.6,384.7 L82.0,386.3 L82.4,387.7 L82.8,388.8 L83.2,389.5 L83.6,390.1 L84.0,390.5 L84.4,390.9 L84.8,391.1 L85.2,391.3 L85.6,391.4 L86.0,391.5 L86.4,391.5 L86.8,391.6 L87.2,391.6 L87.6,391.6 L88.0,391.5 L88.4,391.5 L88.8,391.4 L89.2,391.3 L89.6,391.2 L90.0,391.1 L90.4,390.9 L90.8,390.7 L91.2,390.5 L91.6,390.2 L92.0,389.9 L92.4,389.5 L92.8,389.0 L93.2,388.5 L93.6,387.9 L94.0,387.3 L94.4,386.5 L94.8,385.8 L95.2,385.0 L95.6,384.4 L96.0,384.0 L96.4,383.7 L96.8,383.8 L97.2,384.2 L97.6,384.8 L98.0,385.5 L98.4,386.3 L98.8,387.0 L99.2,387.8 L99.6,388.4 L100.0,389.0 L100.4,389.5 L100.8,390.0 L101.2,390.3 L101.6,390.7 L102.0,391.0 L102.4,391.2 L102.8,391.4 L103.2,391.6 L103.6,391.8 L104.0,391.9 L104.4,392.1 L104.8,392.2 L105.2,392.3 L105.6,392.4 L106.0,392.5 L106.4,392.5 L106.8,392.6 L107.2,392.7 L107.6,392.7 L108.0,392.8 L108.4,392.8 L108.8,392.9 L109.2,392.9 L109.6,392.9 L110.0,393.0 L110.4,393.0 L110.8,393.0 L111.2,393.1 L111.6,393.1 L112.0,393.1 L112.4,393.1 L112.8,393.1 L113.2,393.2 L113.6,393.2 L114.0,393.2 L114.4,393.2 L114.8,393.2 L115.2,393.2 L115.6,393.3 L116.0,393.3 L116.4,393.3 L116.8,393.3 L117.2,393.3 L117.6,393.3 L118.0,393.3 L118.4,393.3 L118.8,393.3 L119.2,393.3 L119.6,393.4 L120.0,393.4 L120.4,393.4 L120.8,393.4 L121.2,393.4 L121.6,393.4 L122.0,393.4 L122.4,393.4 L122.8,393.4 L123.2,393.4 L123.6,393.4 L124.0,393.4 L124.4,393.4 L124.8,393.4 L125.2,393.4 L125.6,393.4 L126.0,393.4 L126.4,393.4 L126.8,393.4 L127.2,393.4 L127.6,393.5 L128.0,393.5 L128.4,393.5 L128.8,393.5 L129.2,393.5 L129.6,393.5 L130.0,393.5 L130.4,393.5 L130.8,393.5 L131.2,393.5 L131.6,393.5 L132.0,393.5 L132.4,393.5 L132.8,393.5 L133.2,393.5 L133.6,393.5 L134.0,393.5 L134.4,393.5 L134.8,393.5 L135.2,393.5 L135.6,393.5 L136.0,393.5 L136.4,393.5 L136.8,393.5 L137.2,393.5 L137.6,393.5 L138.0,393.5 L138.4,393.5 L138.8,393.5 L139.2,393.5 L139.6,393.5 L140.0,393.5 L140.4,393.5 L140.8,393.5 L141.2,393.5 L141.6,393.5 L142.0,393.5 L142.4,393.5 L142.8,393.5 L143.2,393.5 L143.6,393.5 L144.0,393.5 L144.4,393.5 L144.8,393.5 L145.2,393.5 L145.6,393.5 L146.0,393.5 L146.4,393.5 L146.8,393.5 L147.2,393.5 L147.6,393.5 L148.0,393.5 L148.4,393.5 L148.8,393.5 L149.2,393.5 L149.6,393.5 L150.0,393.5 L150.4,393.5 L150.8,393.5 L151.2,393.5 L151.6,393.5 L152.0,393.5 L152.4,393.4 L152.8,393.4 L153.2,393.4 L153.6,393.4 L154.0,393.4 L154.4,393.4 L154.8,393.4 L155.2,393.4 L155.6,393.4 L156.0,393.4 L156.4,393.4 L156.8,393.4 L157.2,393.4 L157.6,393.4 L158.0,393.4 L158.4,393.4 L158.8,393.4 L159.2,393.4 L159.6,393.4 L160.0,393.4 L160.4,393.4 L160.8,393.4 L161.2,393.3 L161.6,393.3 L162.0,393.3 L162.4,393.3 L162.8,393.3 L163.2,393.3 L163.6,393.3 L164.0,393.3 L164.4,393.3 L164.8,393.3 L165.2,393.3 L165.6,393.2 L166.0,393.2 L166.4,393.2 L166.8,393.2 L167.2,393.2 L167.6,393.2 L168.0,393.2 L168.4,393.1 L168.8,393.1 L169.2,393.1 L169.6,393.1 L170.0,393.1 L170.4,393.0 L170.8,393.0 L171.2,393.0 L171.6,393.0 L172.0,392.9 L172.4,392.9 L172.8,392.9 L173.2,392.9 L173.6,392.8 L174.0,392.8 L174.4,392.8 L174.8,392.7 L175.2,392.7 L175.6,392.6 L176.0,392.6 L176.4,392.5 L176.8,392.5 L177.2,392.4 L177.6,392.4 L178.0,392.3 L178.4,392.3 L178.8,392.2 L179.2,392.1 L179.6,392.0 L180.0,392.0 L180.4,391.9 L180.8,391.8 L181.2,391.7 L181.6,391.6 L182.0,391.5 L182.4,391.3 L182.8,391.2 L183.2,391.1 L183.6,390.9 L184.0,390.8 L184.4,390.6 L184.8,390.4 L185.2,390.2 L185.6,389.9 L186.0,389.7 L186.4,389.4 L186.8,389.1 L187.2,388.8 L187.6,388.4 L188.0,388.0 L188.4,387.6 L188.8,387.0 L189.2,386.5 L189.6,385.8 L190.0,385.1 L190.4,384.3 L190.8,383.4 L191.2,382.3 L191.6,381.1 L192.0,379.7 L192.4,378.0 L192.8,376.1 L193.2,373.8 L193.6,371.0 L194.0,367.8 L194.4,363.8 L194.8,359.0 L195.2,353.2 L195.6,346.1 L196.0,337.6 L196.4,327.4 L196.8,315.5 L197.2,302.5 L197.6,289.5 L198.0,278.6 L198.4,272.2 L198.8,272.2 L199.2,278.6 L199.6,289.5 L200.0,302.5 L200.4,315.5 L200.8,327.4 L201.2,337.6 L201.6,346.1 L202.0,353.2 L202.4,359.0 L202.8,363.8 L203.2,367.8 L203.6,371.0 L204.0,373.8 L204.4,376.1 L204.8,378.0 L205.2,379.7 L205.6,381.1 L206.0,382.3 L206.4,383.4 L206.8,384.3 L207.2,385.1 L207.6,385.9 L208.0,386.5 L208.4,387.1 L208.8,387.6 L209.2,388.0 L209.6,388.4 L210.0,388.8 L210.4,389.1 L210.8,389.4 L211.2,389.7 L211.6,390.0 L212.0,390.2 L212.4,390.4 L212.8,390.6 L213.2,390.8 L213.6,390.9 L214.0,391.1 L214.4,391.2 L214.8,391.4 L215.2,391.5 L215.6,391.6 L216.0,391.7 L216.4,391.8 L216.8,391.9 L217.2,392.0 L217.6,392.1 L218.0,392.2 L218.4,392.3 L218.8,392.4 L219.2,392.4 L219.6,392.5 L220.0,392.6 L220.4,392.6 L220.8,392.7 L221.2,392.7 L221.6,392.8 L222.0,392.9 L222.4,392.9 L222.8,392.9 L223.2,393.0 L223.6,393.0 L224.0,393.1 L224.4,393.1 L224.8,393.2 L225.2,393.2 L225.6,393.2" fill="none" stroke="#111" stroke-width="1.5" stroke-linejoin="round"/>
<path d="M50.8,386.7 L51.2,386.7 L51.6,386.7 L52.0,386.8 L52.4,386.8 L52.8,386.8 L53.2,386.8 L53.6,386.8 L54.0,386.8 L54.4,386.8 L54.8,386.7 L55.2,386.7 L55.6,386.7 L56.0,386.7 L56.4,386.7 L56.8,386.7 L57.2,386.7 L57.6,386.6 L58.0,386.6 L58.4,386.6 L58.8,386.5 L59.2,386.5 L59.6,386.4 L60.0,386.3 L60.4,386.2 L60.8,386.2 L61.2,386.1 L61.6,386.0 L62.0,385.8 L62.4,385.7 L62.8,385.5 L63.2,385.4 L63.6,385.2 L64.0,385.0 L64.4,384.8 L64.8,384.5 L65.2,384.2 L65.6,383.8 L66.0,383.3 L66.4,382.9 L66.8,382.4 L67.2,381.8 L67.6,381.2 L68.0,380.6 L68.4,379.9 L68.8,379.2 L69.2,378.3 L69.6,377.4 L70.0,376.4 L70.4,375.3 L70.8,374.2 L71.2,372.9 L71.6,371.5 L72.0,370.0 L72.4,368.5 L72.8,367.0 L73.2,365.6 L73.6,364.5 L74.0,363.7 L74.4,363.4 L74.8,363.5 L75.2,363.9 L75.6,364.6 L76.0,365.5 L76.4,366.4 L76.8,367.3 L77.2,368.2 L77.6,368.9 L78.0,369.7 L78.4,370.3 L78.8,370.8 L79.2,371.3 L79.6,371.8 L80.0,372.2 L80.4,372.6 L80.8,372.9 L81.2,373.2 L81.6,373.6 L82.0,373.8 L82.4,374.1 L82.8,374.4 L83.2,374.7 L83.6,374.9 L84.0,375.2 L84.4,375.4 L84.8,375.7 L85.2,376.0 L85.6,376.3 L86.0,376.7 L86.4,377.0 L86.8,377.3 L87.2,377.5 L87.6,377.6 L88.0,377.6 L88.4,377.5 L88.8,377.2 L89.2,376.7 L89.6,375.9 L90.0,374.9 L90.4,373.8 L90.8,372.5 L91.2,371.2 L91.6,370.0 L92.0,369.0 L92.4,368.2 L92.8,367.8 L93.2,367.8 L93.6,368.1 L94.0,368.6 L94.4,369.3 L94.8,370.0 L95.2,370.6 L95.6,371.0 L96.0,371.2 L96.4,371.1 L96.8,370.7 L97.2,370.1 L97.6,369.5 L98.0,368.9 L98.4,368.5 L98.8,368.4 L99.2,368.7 L99.6,369.3 L100.0,370.2 L100.4,371.4 L100.8,372.8 L101.2,374.1 L101.6,375.5 L102.0,376.8 L102.4,378.0 L102.8,379.1 L103.2,380.1 L103.6,381.0 L104.0,381.8 L104.4,382.5 L104.8,383.2 L105.2,383.8 L105.6,384.3 L106.0,384.8 L106.4,385.2 L106.8,385.6 L107.2,385.9 L107.6,386.2 L108.0,386.5 L108.4,386.8 L108.8,387.0 L109.2,387.3 L109.6,387.5 L110.0,387.7 L110.4,387.8 L110.8,387.9 L111.2,388.0 L111.6,388.1 L112.0,388.2 L112.4,388.3 L112.8,388.4 L113.2,388.5 L113.6,388.5 L114.0,388.6 L114.4,388.7 L114.8,388.7 L115.2,388.8 L115.6,388.8 L116.0,388.8 L116.4,388.9 L116.8,388.9 L117.2,389.0 L117.6,389.0 L118.0,389.0 L118.4,389.1 L118.8,389.1 L119.2,389.1 L119.6,389.1 L120.0,389.1 L120.4,389.2 L120.8,389.2 L121.2,389.2 L121.6,389.2 L122.0,389.2 L122.4,389.2 L122.8,389.2 L123.2,389.2 L123.6,389.2 L124.0,389.2 L124.4,389.1 L124.8,389.1 L125.2,389.1 L125.6,389.0 L126.0,389.0 L126.4,388.9 L126.8,388.9 L127.2,388.8 L127.6,388.7 L128.0,388.7 L128.4,388.6 L128.8,388.5 L129.2,388.4 L129.6,388.3 L130.0,388.2 L130.4,388.0 L130.8,387.9 L131.2,387.7 L131.6,387.6 L132.0,387.4 L132.4,387.2 L132.8,387.0 L133.2,386.7 L133.6,386.5 L134.0,386.2 L134.4,386.0 L134.8,385.7 L135.2,385.4 L135.6,385.1 L136.0,384.8 L136.4,384.5 L136.8,384.2 L137.2,383.9 L137.6,383.6 L138.0,383.4 L138.4,383.3 L138.8,383.2 L139.2,383.1 L139.6,383.2 L140.0,383.3 L140.4,383.4 L140.8,383.6 L141.2,383.8 L141.6,384.1 L142.0,384.4 L142.4,384.7 L142.8,385.0 L143.2,385.3 L143.6,385.7 L144.0,386.0 L144.4,386.3 L144.8,386.6 L145.2,386.8 L145.6,387.1 L146.0,387.3 L146.4,387.6 L146.8,387.8 L147.2,388.0 L147.6,388.2 L148.0,388.3 L148.4,388.5 L148.8,388.6 L149.2,388.8 L149.6,388.9 L150.0,389.0 L150.4,389.1 L150.8,389.3 L151.2,389.4 L151.6,389.5 L152.0,389.6 L152.4,389.7 L152.8,389.8 L153.2,389.9 L153.6,390.0 L154.0,390.1 L154.4,390.2 L154.8,390.3 L155.2,390.3 L155.6,390.4 L156.0,390.5 L156.4,390.5 L156.8,390.6 L157.2,390.7 L157.6,390.7 L158.0,390.8 L158.4,390.9 L158.8,390.9 L159.2,391.0 L159.6,391.0 L160.0,391.1 L160.4,391.1 L160.8,391.2 L161.2,391.2 L161.6,391.3 L162.0,391.3 L162.4,391.4 L162.8,391.4 L163.2,391.5 L163.6,391.5 L164.0,391.6 L164.4,391.6 L164.8,391.6 L165.2,391.7 L165.6,391.6 L166.0,391.6 L166.4,391.6 L166.8,391.6 L167.2,391.6 L167.6,391.6 L168.0,391.5 L168.4,391.5 L168.8,391.5 L169.2,391.5 L169.6,391.5 L170.0,391.4 L170.4,391.4 L170.8,391.4 L171.2,391.4 L171.6,391.4 L172.0,391.3 L172.4,391.3 L172.8,391.3 L173.2,391.3 L173.6,391.3 L174.0,391.2 L174.4,391.2 L174.8,391.2 L175.2,391.2 L175.6,391.1 L176.0,391.1 L176.4,391.1 L176.8,391.0 L177.2,391.0 L177.6,391.0 L178.0,391.0 L178.4,390.9 L178.8,390.9 L179.2,390.9 L179.6,390.8 L180.0,390.8 L180.4,390.8 L180.8,390.8 L181.2,390.7 L181.6,390.7 L182.0,390.7 L182.4,390.6 L182.8,390.6 L183.2,390.5 L183.6,390.5 L184.0,390.5 L184.4,390.4 L184.8,390.4 L185.2,390.3 L185.6,390.3 L186.0,390.2 L186.4,390.2 L186.8,390.1 L187.2,390.1 L187.6,390.0 L188.0,390.0 L188.4,389.9 L188.8,389.8 L189.2,389.8 L189.6,389.7 L190.0,389.6 L190.4,389.5 L190.8,389.3 L191.2,389.2 L191.6,389.0 L192.0,388.7 L192.4,388.4 L192.8,388.0 L193.2,387.4 L193.6,386.6 L194.0,385.5 L194.4,384.0 L194.8,382.0 L195.2,379.3 L195.6,376.0 L196.0,371.8 L196.4,366.8 L196.8,361.0 L197.2,354.5 L197.6,347.6 L198.0,340.5 L198.4,333.7 L198.8,327.5 L199.2,322.5 L199.6,319.2 L200.0,317.9 L200.4,318.7 L200.8,321.6 L201.2,326.2 L201.6,332.1 L202.0,338.8 L202.4,345.8 L202.8,352.7 L203.2,359.2 L203.6,365.1 L204.0,370.2 L204.4,374.4 L204.8,377.8 L205.2,380.5 L205.6,382.6 L206.0,384.1 L206.4,385.2 L206.8,386.0 L207.2,386.5 L207.6,386.9 L208.0,387.1 L208.4,387.3 L208.8,387.4 L209.2,387.5 L209.6,387.6 L210.0,387.6 L210.4,387.7 L210.8,387.8 L211.2,387.9 L211.6,388.0 L212.0,388.1 L212.4,388.1 L212.8,388.2 L213.2,388.3 L213.6,388.3 L214.0,388.4 L214.4,388.5 L214.8,388.5 L215.2,388.6 L215.6,388.6 L216.0,388.7 L216.4,388.7 L216.8,388.8 L217.2,388.8 L217.6,388.9 L218.0,388.9 L218.4,389.0 L218.8,389.0 L219.2,389.1 L219.6,389.1 L220.0,389.1 L220.4,389.2 L220.8,389.2 L221.2,389.3 L221.6,389.3 L222.0,389.4 L222.4,389.4 L222.8,389.4 L223.2,389.5 L223.6,389.5 L224.0,389.6 L224.4,389.6 L224.8,389.6 L225.2,389.7 L225.6,389.7" fill="none" stroke="#ff1a1a" stroke-width="1.5" stroke-linejoin="round"/>
<path d="M51.0,377.1 L51.5,377.2 L52.0,377.2 L52.5,377.3 L53.0,377.3 L53.5,377.3 L54.0,377.4 L54.5,377.4 L55.0,377.4 L55.5,377.4 L56.0,377.5 L56.5,377.5 L57.0,377.5 L57.5,377.5 L58.0,377.5 L58.5,377.5 L59.0,377.5 L59.5,377.5 L60.0,377.4 L60.5,377.3 L61.0,377.2 L61.5,376.9 L62.0,376.6 L62.5,376.2 L63.0,375.7 L63.5,375.2 L64.0,374.7 L64.5,374.1 L65.0,373.5 L65.5,372.9 L66.0,372.2 L66.5,371.5 L67.0,370.6 L67.5,369.7 L68.0,368.6 L68.5,367.4 L69.0,366.1 L69.5,364.8 L70.0,363.3 L70.5,361.9 L71.0,360.3 L71.5,358.5 L72.0,356.6 L72.5,354.4 L73.0,352.2 L73.5,350.1 L74.0,348.4 L74.5,347.2 L75.0,346.7 L75.5,346.8 L76.0,347.3 L76.5,348.0 L77.0,348.5 L77.5,348.5 L78.0,347.9 L78.5,346.5 L79.0,344.7 L79.5,342.8 L80.0,341.2 L80.5,340.3 L81.0,340.3 L81.5,341.4 L82.0,343.2 L82.5,345.7 L83.0,348.5 L83.5,351.7 L84.0,355.0 L84.5,358.0 L85.0,360.4 L85.5,362.1 L86.0,363.2 L86.5,363.9 L87.0,364.2 L87.5,364.2 L88.0,364.0 L88.5,363.8 L89.0,363.4 L89.5,362.9 L90.0,362.2 L90.5,361.3 L91.0,359.7 L91.5,357.3 L92.0,354.1 L92.5,350.4 L93.0,346.3 L93.5,342.2 L94.0,338.4 L94.5,334.8 L95.0,331.7 L95.5,328.7 L96.0,326.0 L96.5,323.5 L97.0,321.3 L97.5,319.7 L98.0,318.8 L98.5,318.9 L99.0,320.4 L99.5,323.4 L100.0,327.4 L100.5,331.5 L101.0,335.5 L101.5,339.2 L102.0,342.7 L102.5,346.1 L103.0,349.4 L103.5,352.6 L104.0,355.7 L104.5,358.6 L105.0,361.2 L105.5,363.2 L106.0,364.8 L106.5,365.8 L107.0,366.6 L107.5,367.2 L108.0,367.8 L108.5,368.5 L109.0,369.3 L109.5,370.2 L110.0,371.1 L110.5,372.0 L111.0,372.8 L111.5,373.7 L112.0,374.5 L112.5,375.3 L113.0,376.0 L113.5,376.5 L114.0,376.9 L114.5,377.1 L115.0,377.2 L115.5,377.2 L116.0,377.2 L116.5,377.2 L117.0,377.2 L117.5,377.2 L118.0,377.2 L118.5,377.2 L119.0,377.2 L119.5,377.2 L120.0,377.2 L120.5,377.2 L121.0,377.2 L121.5,377.2 L122.0,377.2 L122.5,377.2 L123.0,377.1 L123.5,377.1 L124.0,376.9 L124.5,376.7 L125.0,376.4 L125.5,376.1 L126.0,375.8 L126.5,375.4 L127.0,375.0 L127.5,374.5 L128.0,374.0 L128.5,373.6 L129.0,373.1 L129.5,372.6 L130.0,372.2 L130.5,371.7 L131.0,371.2 L131.5,370.6 L132.0,370.0 L132.5,369.4 L133.0,368.8 L133.5,368.2 L134.0,367.7 L134.5,367.2 L135.0,366.7 L135.5,366.3 L136.0,365.9 L136.5,365.6 L137.0,365.2 L137.5,364.9 L138.0,364.7 L138.5,364.6 L139.0,364.5 L139.5,364.6 L140.0,364.8 L140.5,365.1 L141.0,365.5 L141.5,366.0 L142.0,366.5 L142.5,367.0 L143.0,367.5 L143.5,368.1 L144.0,368.7 L144.5,369.3 L145.0,370.0 L145.5,370.8 L146.0,371.5 L146.5,372.2 L147.0,372.9 L147.5,373.6 L148.0,374.2 L148.5,374.7 L149.0,375.2 L149.5,375.7 L150.0,376.2 L150.5,376.6 L151.0,377.1 L151.5,377.5 L152.0,377.9 L152.5,378.3 L153.0,378.7 L153.5,379.1 L154.0,379.5 L154.5,379.9 L155.0,380.3 L155.5,380.7 L156.0,381.1 L156.5,381.5 L157.0,381.9 L157.5,382.3 L158.0,382.6 L158.5,382.8 L159.0,383.0 L159.5,383.2 L160.0,383.3 L160.5,383.3 L161.0,383.4 L161.5,383.5 L162.0,383.5 L162.5,383.6 L163.0,383.6 L163.5,383.7 L164.0,383.7 L164.5,383.7 L165.0,383.8 L165.5,383.8 L166.0,383.9 L166.5,383.9 L167.0,383.9 L167.5,383.9 L168.0,383.9 L168.5,384.0 L169.0,384.0 L169.5,384.0 L170.0,384.0 L170.5,384.0 L171.0,384.0 L171.5,384.0 L172.0,384.0 L172.5,384.0 L173.0,384.0 L173.5,384.0 L174.0,384.0 L174.5,384.0 L175.0,384.0 L175.5,384.0 L176.0,384.0 L176.5,383.9 L177.0,383.9 L177.5,383.9 L178.0,383.9 L178.5,383.9 L179.0,383.9 L179.5,383.9 L180.0,383.8 L180.5,383.8 L181.0,383.8 L181.5,383.8 L182.0,383.8 L182.5,383.7 L183.0,383.7 L183.5,383.7 L184.0,383.7 L184.5,383.6 L185.0,383.6 L185.5,383.6 L186.0,383.5 L186.5,383.5 L187.0,383.4 L187.5,383.4 L188.0,383.4 L188.5,383.3 L189.0,383.3 L189.5,383.2 L190.0,383.1 L190.5,383.0 L191.0,382.8 L191.5,382.5 L192.0,382.2 L192.5,381.8 L193.0,381.3 L193.5,380.7 L194.0,380.0 L194.5,378.9 L195.0,377.4 L195.5,375.1 L196.0,372.1 L196.5,368.5 L197.0,364.7 L197.5,361.0 L198.0,357.3 L198.5,354.0 L199.0,351.4 L199.5,350.1 L200.0,350.4 L200.5,352.4 L201.0,355.5 L201.5,359.4 L202.0,363.9 L202.5,368.8 L203.0,373.2 L203.5,376.6 L204.0,378.7 L204.5,379.8 L205.0,380.4 L205.5,380.9 L206.0,381.2 L206.5,381.5 L207.0,381.8 L207.5,382.0 L208.0,382.2 L208.5,382.3 L209.0,382.3 L209.5,382.4 L210.0,382.4 L210.5,382.4 L211.0,382.4 L211.5,382.4 L212.0,382.4 L212.5,382.4 L213.0,382.4 L213.5,382.4 L214.0,382.4 L214.5,382.4 L215.0,382.4 L215.5,382.4 L216.0,382.4 L216.5,382.4 L217.0,382.4 L217.5,382.4 L218.0,382.4 L218.5,382.4 L219.0,382.4 L219.5,382.4 L220.0,382.4 L220.5,382.4 L221.0,382.4 L221.5,382.4 L222.0,382.4 L222.5,382.4 L223.0,382.4 L223.5,382.4 L224.0,382.4 L224.5,382.4 L225.0,382.4" fill="none" stroke="#22ee22" stroke-width="1.5" stroke-linejoin="round"/>
<line x1="75.5" y1="338" x2="75.5" y2="377" stroke="#444" stroke-width="0.9" stroke-dasharray="1.5,1.5"/>
<line x1="81.2" y1="338" x2="81.2" y2="377" stroke="#444" stroke-width="0.9" stroke-dasharray="1.5,1.5"/>
<line x1="120.5" y1="276.8" x2="133.6" y2="276.8" stroke="#111" stroke-width="1.3"/>
<text x="135.7" y="279.1" font-family='"Liberation Sans", sans-serif' font-size="6.5" font-weight="normal" fill="#222" text-anchor="start" >MoS<tspan font-size="4.5" dy="1.5">2</tspan></text>
<line x1="120.5" y1="286.6" x2="133.6" y2="286.6" stroke="#ff1a1a" stroke-width="1.3"/>
<text x="135.7" y="288.90000000000003" font-family='"Liberation Sans", sans-serif' font-size="6.5" font-weight="normal" fill="#222" text-anchor="start" >3nm Ag</text>
<line x1="120.5" y1="294.7" x2="133.6" y2="294.7" stroke="#22ee22" stroke-width="1.3"/>
<text x="135.7" y="297.0" font-family='"Liberation Sans", sans-serif' font-size="6.5" font-weight="normal" fill="#222" text-anchor="start" >10nm Ag</text>
<text x="187.5" y="281.3" font-family='"Liberation Sans", sans-serif' font-size="8" font-weight="normal" fill="#222" text-anchor="start" >Si</text>
<text x="93.6" y="314.5" font-family='"Liberation Sans", sans-serif' font-size="7.5" font-weight="normal" fill="#222" text-anchor="start" >A<tspan font-size="5" dy="2">1g</tspan></text>
<text x="72.6" y="331" font-family='"Liberation Sans", sans-serif' font-size="7.5" font-weight="normal" fill="#222" text-anchor="start" >E<tspan font-size="5" dy="2">2g</tspan><tspan font-size="5" dx="-5" dy="-6">1</tspan></text>
<text x="130" y="359.6" font-family='"Liberation Sans", sans-serif' font-size="7.5" font-weight="normal" fill="#222" text-anchor="start" >2LA(M)</text>
<text x="147.7" y="373" font-family='"Liberation Sans", sans-serif' font-size="7.5" font-weight="normal" fill="#222" text-anchor="start" >A<tspan font-size="5" dy="2">2u</tspan></text>
<text x="311.1" y="17.2" font-family='"Liberation Sans", sans-serif' font-size="15.3" font-weight="bold" fill="#000" text-anchor="start" >(d)</text>
<defs>
<linearGradient id="cbar" x1="0" y1="0" x2="0" y2="1">
<stop offset="0" stop-color="#ff0000"/><stop offset="0.2" stop-color="#ff0030"/><stop offset="0.45" stop-color="#8000c0"/><stop offset="0.6" stop-color="#2020ff"/><stop offset="0.8" stop-color="#40b0c0"/><stop offset="1" stop-color="#40ee80"/>
</linearGradient>
<linearGradient id="bar1" x1="0" y1="0" x2="1" y2="0">
<stop offset="0" stop-color="#ff1010"/><stop offset="0.3" stop-color="#c000a0"/><stop offset="0.6" stop-color="#2020ff"/><stop offset="1" stop-color="#40ee80"/>
</linearGradient>
<linearGradient id="bar2" x1="0" y1="0" x2="1" y2="0">
<stop offset="0" stop-color="#ff1010"/><stop offset="0.2" stop-color="#c000a0"/><stop offset="0.4" stop-color="#2020ff"/><stop offset="1" stop-color="#40ee80"/>
</linearGradient>
<linearGradient id="bar3" x1="0" y1="0" x2="1" y2="0">
<stop offset="0" stop-color="#80b8e8"/><stop offset="1" stop-color="#40ee80"/>
</linearGradient>
</defs>
<text x="310.3" y="42.2" font-family='"Liberation Sans", sans-serif' font-size="6.3" font-weight="normal" fill="#333" text-anchor="start" >strain</text>
<rect x="314.1" y="50.7" width="5.9" height="32.1" fill="url(#cbar)"/>
<text x="320.2" y="49.8" font-family='"Liberation Sans", sans-serif' font-size="6.2" font-weight="normal" fill="#333" text-anchor="start" >max</text>
<text x="320.2" y="87.2" font-family='"Liberation Sans", sans-serif' font-size="6.2" font-weight="normal" fill="#333" text-anchor="start" >min</text>
<rect x="353.2" y="77.1" width="80.3" height="26.9" fill="#d9d9d9"/>
<path d="M353.2,73 L353.2,32 A41.8,41 0 0 1 395,73 Z" fill="#c6b48e"/>
<rect x="353.2" y="72.9" width="41.8" height="4.2" fill="#ff1010"/>
<rect x="395" y="72.9" width="9" height="4.2" fill="url(#bar1)"/>
<rect x="404" y="72.9" width="29.5" height="4.2" fill="#40ee80"/>
<ellipse cx="396.7" cy="76.3" rx="3.5" ry="6.3" fill="none" stroke="#444" stroke-width="0.8"/>
<text x="361" y="61.2" font-family='"Liberation Sans", sans-serif' font-size="6.3" font-weight="bold" fill="#a85a28" text-anchor="start" >Ag NP</text>
<text x="377.8" y="92.8" font-family='"Liberation Sans", sans-serif' font-size="6.4" font-weight="bold" fill="#333" text-anchor="start" >Substrate</text>
<text x="405.5" y="70.3" font-family='"Liberation Sans", sans-serif' font-size="7" font-weight="bold" fill="#2ccf66" text-anchor="start" >1L MoS<tspan font-size="4.8" dy="1.5">2</tspan></text>
<rect x="460.5" y="81" width="80.3" height="23" fill="#d9d9d9"/>
<path d="M460.5,72.5 L460.5,31.6 A42,40.9 0 0 1 502.5,72.5 Z" fill="#c6b48e"/>
<rect x="460.5" y="72.5" width="42" height="3.8" fill="#ff1010"/>
<rect x="502.5" y="72.5" width="18" height="3.8" fill="url(#bar2)"/>
<rect x="520.4" y="72.5" width="20.4" height="3.8" fill="#40ee80"/>
<rect x="460.5" y="77.1" width="42" height="3.9" fill="#80b8e8"/>
<rect x="502.5" y="77.1" width="20" height="3.9" fill="url(#bar3)"/>
<rect x="522.4" y="77.1" width="18.4" height="3.9" fill="#40ee80"/>
<ellipse cx="504.2" cy="75.7" rx="3.5" ry="7" fill="none" stroke="#444" stroke-width="0.8"/>
<text x="468.9" y="60.7" font-family='"Liberation Sans", sans-serif' font-size="6.3" font-weight="bold" fill="#a85a28" text-anchor="start" >Ag NP</text>
<text x="485.7" y="94.8" font-family='"Liberation Sans", sans-serif' font-size="6.4" font-weight="bold" fill="#333" text-anchor="start" >Substrate</text>
<text x="512.6" y="70.3" font-family='"Liberation Sans", sans-serif' font-size="7" font-weight="bold" fill="#2ccf66" text-anchor="start" >2L MoS<tspan font-size="4.8" dy="1.5">2</tspan></text>
<text x="312.9" y="129.4" font-family='"Liberation Sans", sans-serif' font-size="15.3" font-weight="bold" fill="#000" text-anchor="start" >(e)</text>
<text x="311.5" y="266.1" font-family='"Liberation Sans", sans-serif' font-size="15.3" font-weight="bold" fill="#000" text-anchor="start" >(f)</text>
<rect x="352.5" y="122.0" width="187.5" height="137.0" fill="none" stroke="#222" stroke-width="1.2"/>
<rect x="352.5" y="259.0" width="187.5" height="137.0" fill="none" stroke="#222" stroke-width="1.2"/>
<line x1="352.50" y1="259.0" x2="352.50" y2="256.0" stroke="#333" stroke-width="0.8"/>
<line x1="390.00" y1="259.0" x2="390.00" y2="256.0" stroke="#333" stroke-width="0.8"/>
<line x1="427.50" y1="259.0" x2="427.50" y2="256.0" stroke="#333" stroke-width="0.8"/>
<line x1="465.00" y1="259.0" x2="465.00" y2="256.0" stroke="#333" stroke-width="0.8"/>
<line x1="502.50" y1="259.0" x2="502.50" y2="256.0" stroke="#333" stroke-width="0.8"/>
<line x1="540.00" y1="259.0" x2="540.00" y2="256.0" stroke="#333" stroke-width="0.8"/>
<line x1="371.25" y1="259.0" x2="371.25" y2="257.0" stroke="#333" stroke-width="0.8"/>
<line x1="408.75" y1="259.0" x2="408.75" y2="257.0" stroke="#333" stroke-width="0.8"/>
<line x1="446.25" y1="259.0" x2="446.25" y2="257.0" stroke="#333" stroke-width="0.8"/>
<line x1="483.75" y1="259.0" x2="483.75" y2="257.0" stroke="#333" stroke-width="0.8"/>
<line x1="521.25" y1="259.0" x2="521.25" y2="257.0" stroke="#333" stroke-width="0.8"/>
<line x1="352.50" y1="122.0" x2="352.50" y2="125.0" stroke="#333" stroke-width="0.8"/>
<line x1="390.00" y1="122.0" x2="390.00" y2="125.0" stroke="#333" stroke-width="0.8"/>
<line x1="427.50" y1="122.0" x2="427.50" y2="125.0" stroke="#333" stroke-width="0.8"/>
<line x1="465.00" y1="122.0" x2="465.00" y2="125.0" stroke="#333" stroke-width="0.8"/>
<line x1="502.50" y1="122.0" x2="502.50" y2="125.0" stroke="#333" stroke-width="0.8"/>
<line x1="540.00" y1="122.0" x2="540.00" y2="125.0" stroke="#333" stroke-width="0.8"/>
<line x1="371.25" y1="122.0" x2="371.25" y2="124.0" stroke="#333" stroke-width="0.8"/>
<line x1="408.75" y1="122.0" x2="408.75" y2="124.0" stroke="#333" stroke-width="0.8"/>
<line x1="446.25" y1="122.0" x2="446.25" y2="124.0" stroke="#333" stroke-width="0.8"/>
<line x1="483.75" y1="122.0" x2="483.75" y2="124.0" stroke="#333" stroke-width="0.8"/>
<line x1="521.25" y1="122.0" x2="521.25" y2="124.0" stroke="#333" stroke-width="0.8"/>
<line x1="352.50" y1="396.0" x2="352.50" y2="393.0" stroke="#333" stroke-width="0.8"/>
<line x1="390.00" y1="396.0" x2="390.00" y2="393.0" stroke="#333" stroke-width="0.8"/>
<line x1="427.50" y1="396.0" x2="427.50" y2="393.0" stroke="#333" stroke-width="0.8"/>
<line x1="465.00" y1="396.0" x2="465.00" y2="393.0" stroke="#333" stroke-width="0.8"/>
<line x1="502.50" y1="396.0" x2="502.50" y2="393.0" stroke="#333" stroke-width="0.8"/>
<line x1="540.00" y1="396.0" x2="540.00" y2="393.0" stroke="#333" stroke-width="0.8"/>
<line x1="371.25" y1="396.0" x2="371.25" y2="394.0" stroke="#333" stroke-width="0.8"/>
<line x1="408.75" y1="396.0" x2="408.75" y2="394.0" stroke="#333" stroke-width="0.8"/>
<line x1="446.25" y1="396.0" x2="446.25" y2="394.0" stroke="#333" stroke-width="0.8"/>
<line x1="483.75" y1="396.0" x2="483.75" y2="394.0" stroke="#333" stroke-width="0.8"/>
<line x1="521.25" y1="396.0" x2="521.25" y2="394.0" stroke="#333" stroke-width="0.8"/>
<line x1="352.50" y1="259.0" x2="352.50" y2="262.0" stroke="#333" stroke-width="0.8"/>
<line x1="390.00" y1="259.0" x2="390.00" y2="262.0" stroke="#333" stroke-width="0.8"/>
<line x1="427.50" y1="259.0" x2="427.50" y2="262.0" stroke="#333" stroke-width="0.8"/>
<line x1="465.00" y1="259.0" x2="465.00" y2="262.0" stroke="#333" stroke-width="0.8"/>
<line x1="502.50" y1="259.0" x2="502.50" y2="262.0" stroke="#333" stroke-width="0.8"/>
<line x1="540.00" y1="259.0" x2="540.00" y2="262.0" stroke="#333" stroke-width="0.8"/>
<line x1="371.25" y1="259.0" x2="371.25" y2="261.0" stroke="#333" stroke-width="0.8"/>
<line x1="408.75" y1="259.0" x2="408.75" y2="261.0" stroke="#333" stroke-width="0.8"/>
<line x1="446.25" y1="259.0" x2="446.25" y2="261.0" stroke="#333" stroke-width="0.8"/>
<line x1="483.75" y1="259.0" x2="483.75" y2="261.0" stroke="#333" stroke-width="0.8"/>
<line x1="521.25" y1="259.0" x2="521.25" y2="261.0" stroke="#333" stroke-width="0.8"/>
<line x1="352.5" y1="133.40" x2="355.0" y2="133.40" stroke="#333" stroke-width="0.8"/>
<line x1="352.5" y1="146.88" x2="355.0" y2="146.88" stroke="#333" stroke-width="0.8"/>
<line x1="352.5" y1="160.36" x2="355.0" y2="160.36" stroke="#333" stroke-width="0.8"/>
<line x1="352.5" y1="173.84" x2="355.0" y2="173.84" stroke="#333" stroke-width="0.8"/>
<line x1="352.5" y1="187.32" x2="355.0" y2="187.32" stroke="#333" stroke-width="0.8"/>
<line x1="352.5" y1="200.80" x2="355.0" y2="200.80" stroke="#333" stroke-width="0.8"/>
<line x1="352.5" y1="214.28" x2="355.0" y2="214.28" stroke="#333" stroke-width="0.8"/>
<line x1="352.5" y1="227.76" x2="355.0" y2="227.76" stroke="#333" stroke-width="0.8"/>
<line x1="352.5" y1="241.24" x2="355.0" y2="241.24" stroke="#333" stroke-width="0.8"/>
<line x1="352.5" y1="254.72" x2="355.0" y2="254.72" stroke="#333" stroke-width="0.8"/>
<line x1="540.0" y1="133.40" x2="537.5" y2="133.40" stroke="#333" stroke-width="0.8"/>
<line x1="540.0" y1="146.88" x2="537.5" y2="146.88" stroke="#333" stroke-width="0.8"/>
<line x1="540.0" y1="160.36" x2="537.5" y2="160.36" stroke="#333" stroke-width="0.8"/>
<line x1="540.0" y1="173.84" x2="537.5" y2="173.84" stroke="#333" stroke-width="0.8"/>
<line x1="540.0" y1="187.32" x2="537.5" y2="187.32" stroke="#333" stroke-width="0.8"/>
<line x1="540.0" y1="200.80" x2="537.5" y2="200.80" stroke="#333" stroke-width="0.8"/>
<line x1="540.0" y1="214.28" x2="537.5" y2="214.28" stroke="#333" stroke-width="0.8"/>
<line x1="540.0" y1="227.76" x2="537.5" y2="227.76" stroke="#333" stroke-width="0.8"/>
<line x1="540.0" y1="241.24" x2="537.5" y2="241.24" stroke="#333" stroke-width="0.8"/>
<line x1="540.0" y1="254.72" x2="537.5" y2="254.72" stroke="#333" stroke-width="0.8"/>
<line x1="352.5" y1="271.50" x2="355.0" y2="271.50" stroke="#333" stroke-width="0.8"/>
<line x1="352.5" y1="291.13" x2="355.0" y2="291.13" stroke="#333" stroke-width="0.8"/>
<line x1="352.5" y1="310.76" x2="355.0" y2="310.76" stroke="#333" stroke-width="0.8"/>
<line x1="352.5" y1="330.39" x2="355.0" y2="330.39" stroke="#333" stroke-width="0.8"/>
<line x1="352.5" y1="350.02" x2="355.0" y2="350.02" stroke="#333" stroke-width="0.8"/>
<line x1="352.5" y1="369.65" x2="355.0" y2="369.65" stroke="#333" stroke-width="0.8"/>
<line x1="352.5" y1="389.28" x2="355.0" y2="389.28" stroke="#333" stroke-width="0.8"/>
<line x1="540.0" y1="271.50" x2="537.5" y2="271.50" stroke="#333" stroke-width="0.8"/>
<line x1="540.0" y1="291.13" x2="537.5" y2="291.13" stroke="#333" stroke-width="0.8"/>
<line x1="540.0" y1="310.76" x2="537.5" y2="310.76" stroke="#333" stroke-width="0.8"/>
<line x1="540.0" y1="330.39" x2="537.5" y2="330.39" stroke="#333" stroke-width="0.8"/>
<line x1="540.0" y1="350.02" x2="537.5" y2="350.02" stroke="#333" stroke-width="0.8"/>
<line x1="540.0" y1="369.65" x2="537.5" y2="369.65" stroke="#333" stroke-width="0.8"/>
<line x1="540.0" y1="389.28" x2="537.5" y2="389.28" stroke="#333" stroke-width="0.8"/>
<text x="355" y="409.3" font-family='"Liberation Sans", sans-serif' font-size="10.8" font-weight="normal" fill="#222" text-anchor="middle" >250</text>
<text x="391.4" y="409.3" font-family='"Liberation Sans", sans-serif' font-size="10.8" font-weight="normal" fill="#222" text-anchor="middle" >300</text>
<text x="427.7" y="409.3" font-family='"Liberation Sans", sans-serif' font-size="10.8" font-weight="normal" fill="#222" text-anchor="middle" >350</text>
<text x="464.9" y="409.3" font-family='"Liberation Sans", sans-serif' font-size="10.8" font-weight="normal" fill="#222" text-anchor="middle" >400</text>
<text x="502" y="409.3" font-family='"Liberation Sans", sans-serif' font-size="10.8" font-weight="normal" fill="#222" text-anchor="middle" >450</text>
<text x="539.1" y="409.3" font-family='"Liberation Sans", sans-serif' font-size="10.8" font-weight="normal" fill="#222" text-anchor="middle" >500</text>
<text x="447.5" y="423.2" font-family='"Liberation Sans", sans-serif' font-size="10.8" font-weight="normal" fill="#222" text-anchor="middle" >Raman Shift (cm<tspan font-size="7" dy="-5">-1</tspan><tspan dy="5">)</tspan></text>
<text transform="translate(343.9,189) rotate(-90)" x="0" y="0" font-family='"Liberation Sans", sans-serif' font-size="11.4" fill="#222" text-anchor="middle">Intensity (a.u.)</text>
<text transform="translate(343.8,327.6) rotate(-90)" x="0" y="0" font-family='"Liberation Sans", sans-serif' font-size="11.4" fill="#222" text-anchor="middle">Intensity (a.u.)</text>
<text x="516.0" y="141.4" font-family='"Liberation Sans", sans-serif' font-size="14.8" font-weight="normal" fill="#222" text-anchor="start" >1L</text>
<text x="515.2" y="280.4" font-family='"Liberation Sans", sans-serif' font-size="14.8" font-weight="normal" fill="#222" text-anchor="start" >2L</text>
<path d="M352.5,246.1 L352.9,246.1 L353.3,246.1 L353.7,246.1 L354.1,246.1 L354.5,246.1 L354.9,246.1 L355.3,246.1 L355.7,246.1 L356.1,246.1 L356.5,246.1 L356.9,246.1 L357.3,246.1 L357.7,246.1 L358.1,246.1 L358.5,246.1 L358.9,246.1 L359.3,246.1 L359.7,246.1 L360.1,246.1 L360.5,246.1 L360.9,246.1 L361.3,246.1 L361.7,246.1 L362.1,246.1 L362.5,246.1 L362.9,246.1 L363.3,246.1 L363.7,246.1 L364.1,246.0 L364.5,246.0 L364.9,246.0 L365.3,246.0 L365.7,245.9 L366.1,245.8 L366.5,245.7 L366.9,245.7 L367.3,245.6 L367.7,245.5 L368.1,245.4 L368.5,245.2 L368.9,245.1 L369.3,244.9 L369.7,244.7 L370.1,244.5 L370.5,244.3 L370.9,243.9 L371.3,243.5 L371.7,243.1 L372.1,242.5 L372.5,241.7 L372.9,240.8 L373.3,239.6 L373.7,238.2 L374.1,236.7 L374.5,235.2 L374.9,234.3 L375.3,234.2 L375.7,234.9 L376.1,236.3 L376.5,237.8 L376.9,239.1 L377.3,240.3 L377.7,241.2 L378.1,241.9 L378.5,242.5 L378.9,242.9 L379.3,243.3 L379.7,243.5 L380.1,243.7 L380.5,243.9 L380.9,244.0 L381.3,244.2 L381.7,244.2 L382.1,244.3 L382.5,244.4 L382.9,244.4 L383.3,244.4 L383.7,244.5 L384.1,244.5 L384.5,244.5 L384.9,244.5 L385.3,244.5 L385.7,244.5 L386.1,244.5 L386.5,244.5 L386.9,244.5 L387.3,244.5 L387.7,244.5 L388.1,244.5 L388.5,244.4 L388.9,244.4 L389.3,244.4 L389.7,244.4 L390.1,244.4 L390.5,244.3 L390.9,244.3 L391.3,244.2 L391.7,244.2 L392.1,244.2 L392.5,244.1 L392.9,244.1 L393.3,244.0 L393.7,244.0 L394.1,244.0 L394.5,243.9 L394.9,243.9 L395.3,243.8 L395.7,243.8 L396.1,243.7 L396.5,243.7 L396.9,243.6 L397.3,243.6 L397.7,243.5 L398.1,243.5 L398.5,243.5 L398.9,243.4 L399.3,243.4 L399.7,243.3 L400.1,243.3 L400.5,243.2 L400.9,243.2 L401.3,243.1 L401.7,243.1 L402.1,243.0 L402.5,243.0 L402.9,242.9 L403.3,242.9 L403.7,242.8 L404.1,242.8 L404.5,242.7 L404.9,242.7 L405.3,242.6 L405.7,242.6 L406.1,242.5 L406.5,242.5 L406.9,242.4 L407.3,242.4 L407.7,242.3 L408.1,242.2 L408.5,242.2 L408.9,242.1 L409.3,242.1 L409.7,242.0 L410.1,242.0 L410.5,241.9 L410.9,241.9 L411.3,241.8 L411.7,241.7 L412.1,241.7 L412.5,241.6 L412.9,241.6 L413.3,241.5 L413.7,241.5 L414.1,241.4 L414.5,241.3 L414.9,241.3 L415.3,241.2 L415.7,241.1 L416.1,241.1 L416.5,241.0 L416.9,241.0 L417.3,240.9 L417.7,240.8 L418.1,240.8 L418.5,240.7 L418.9,240.6 L419.3,240.6 L419.7,240.5 L420.1,240.4 L420.5,240.4 L420.9,240.4 L421.3,240.3 L421.7,240.3 L422.1,240.3 L422.5,240.3 L422.9,240.2 L423.3,240.2 L423.7,240.1 L424.1,240.1 L424.5,240.1 L424.9,240.0 L425.3,240.0 L425.7,239.9 L426.1,239.9 L426.5,239.8 L426.9,239.8 L427.3,239.7 L427.7,239.7 L428.1,239.6 L428.5,239.5 L428.9,239.4 L429.3,239.4 L429.7,239.3 L430.1,239.2 L430.5,239.1 L430.9,239.0 L431.3,238.9 L431.7,238.8 L432.1,238.7 L432.5,238.5 L432.9,238.4 L433.3,238.3 L433.7,238.1 L434.1,237.9 L434.5,237.7 L434.9,237.5 L435.3,237.3 L435.7,237.1 L436.1,236.8 L436.5,236.6 L436.9,236.2 L437.3,235.9 L437.7,235.5 L438.1,235.1 L438.5,234.7 L438.9,234.2 L439.3,233.6 L439.7,233.0 L440.1,232.2 L440.5,231.4 L440.9,230.4 L441.3,229.3 L441.7,228.1 L442.1,226.6 L442.5,224.9 L442.9,223.0 L443.3,220.8 L443.7,218.3 L444.1,215.4 L444.5,212.1 L444.9,208.5 L445.3,204.6 L445.7,200.3 L446.1,195.8 L446.5,191.3 L446.9,186.9 L447.3,183.1 L447.7,180.1 L448.1,178.2 L448.5,177.6 L448.9,178.1 L449.3,179.6 L449.7,181.6 L450.1,183.8 L450.5,185.6 L450.9,186.8 L451.3,186.8 L451.7,185.5 L452.1,182.3 L452.5,177.2 L452.9,170.7 L453.3,164.4 L453.7,161.2 L454.1,163.3 L454.5,169.9 L454.9,178.4 L455.3,186.2 L455.7,192.5 L456.1,197.0 L456.5,200.1 L456.9,202.1 L457.3,203.2 L457.7,203.7 L458.1,203.8 L458.5,203.4 L458.9,202.9 L459.3,202.1 L459.7,201.3 L460.1,200.4 L460.5,199.5 L460.9,198.6 L461.3,197.7 L461.7,196.7 L462.1,195.6 L462.5,194.4 L462.9,192.9 L463.3,191.1 L463.7,188.8 L464.1,185.9 L464.5,182.4 L464.9,178.3 L465.3,173.6 L465.7,168.5 L466.1,163.3 L466.5,158.0 L466.9,153.3 L467.3,149.3 L467.7,146.5 L468.1,145.1 L468.5,145.4 L468.9,147.4 L469.3,151.2 L469.7,156.5 L470.1,163.1 L470.5,170.6 L470.9,178.7 L471.3,187.0 L471.7,195.0 L472.1,202.6 L472.5,209.5 L472.9,215.5 L473.3,220.6 L473.7,224.8 L474.1,228.2 L474.5,230.9 L474.9,232.9 L475.3,234.4 L475.7,235.6 L476.1,236.3 L476.5,236.9 L476.9,237.3 L477.3,237.5 L477.7,237.7 L478.1,237.8 L478.5,237.9 L478.9,237.9 L479.3,238.0 L479.7,238.0 L480.1,238.0 L480.5,238.0 L480.9,238.0 L481.3,238.1 L481.7,238.1 L482.1,238.1 L482.5,238.1 L482.9,238.1 L483.3,238.1 L483.7,238.1 L484.1,238.0 L484.5,238.0 L484.9,237.9 L485.3,237.9 L485.7,237.8 L486.1,237.8 L486.5,237.7 L486.9,237.6 L487.3,237.5 L487.7,237.4 L488.1,237.3 L488.5,237.1 L488.9,237.0 L489.3,236.8 L489.7,236.6 L490.1,236.5 L490.5,236.3 L490.9,236.1 L491.3,235.8 L491.7,235.6 L492.1,235.3 L492.5,235.0 L492.9,234.6 L493.3,234.2 L493.7,233.8 L494.1,233.3 L494.5,232.8 L494.9,232.2 L495.3,231.6 L495.7,230.9 L496.1,230.1 L496.5,229.3 L496.9,228.4 L497.3,227.5 L497.7,226.4 L498.1,225.4 L498.5,224.3 L498.9,223.1 L499.3,222.0 L499.7,220.9 L500.1,219.8 L500.5,218.8 L500.9,218.0 L501.3,217.3 L501.7,216.9 L502.1,216.7 L502.5,216.8 L502.9,217.1 L503.3,217.6 L503.7,218.4 L504.1,219.4 L504.5,220.5 L504.9,221.7 L505.3,223.0 L505.7,224.3 L506.1,225.6 L506.5,226.9 L506.9,228.2 L507.3,229.3 L507.7,230.5 L508.1,231.5 L508.5,232.5 L508.9,233.5 L509.3,234.4 L509.7,235.2 L510.1,235.9 L510.5,236.6 L510.9,237.3 L511.3,237.9 L511.7,238.5 L512.1,239.0 L512.5,239.5 L512.9,240.0 L513.3,240.4 L513.7,240.8 L514.1,241.2 L514.5,241.5 L514.9,241.9 L515.3,242.2 L515.7,242.5 L516.1,242.8 L516.5,243.0 L516.9,243.3 L517.3,243.5 L517.7,243.7 L518.1,244.0 L518.5,244.2 L518.9,244.4 L519.3,244.5 L519.7,244.7 L520.1,244.9 L520.5,245.1 L520.9,245.2 L521.3,245.4 L521.7,245.5 L522.1,245.7 L522.5,245.8 L522.9,246.0 L523.3,246.1 L523.7,246.2 L524.1,246.3 L524.5,246.5 L524.9,246.6 L525.3,246.6 L525.7,246.6 L526.1,246.5 L526.5,246.5 L526.9,246.5 L527.3,246.4 L527.7,246.4 L528.1,246.4 L528.5,246.3 L528.9,246.3 L529.3,246.2 L529.7,246.2 L530.1,246.1 L530.5,246.1 L530.9,246.0 L531.3,246.0 L531.7,245.9 L532.1,245.9 L532.5,245.8 L532.9,245.7 L533.3,245.7 L533.7,245.6 L534.1,245.6 L534.5,245.5 L534.9,245.5 L535.3,245.4 L535.7,245.3 L536.1,245.3 L536.5,245.2 L536.9,245.1 L537.3,245.1 L537.7,245.0 L538.1,244.9 L538.5,244.9 L538.9,244.8 L539.3,244.7 L539.7,244.7" fill="none" stroke="#ff2020" stroke-width="1.4" stroke-linejoin="round"/>
<path d="M352.5,250.4 L352.9,250.4 L353.3,250.4 L353.7,250.4 L354.1,250.4 L354.5,250.4 L354.9,250.4 L355.3,250.4 L355.7,250.4 L356.1,250.4 L356.5,250.4 L356.9,250.4 L357.3,250.4 L357.7,250.4 L358.1,250.4 L358.5,250.4 L358.9,250.4 L359.3,250.4 L359.7,250.4 L360.1,250.4 L360.5,250.4 L360.9,250.4 L361.3,250.4 L361.7,250.4 L362.1,250.4 L362.5,250.4 L362.9,250.4 L363.3,250.4 L363.7,250.4 L364.1,250.4 L364.5,250.4 L364.9,250.4 L365.3,250.4 L365.7,250.4 L366.1,250.4 L366.5,250.4 L366.9,250.4 L367.3,250.4 L367.7,250.4 L368.1,250.4 L368.5,250.4 L368.9,250.4 L369.3,250.3 L369.7,250.3 L370.1,250.3 L370.5,250.3 L370.9,250.3 L371.3,250.3 L371.7,250.3 L372.1,250.3 L372.5,250.3 L372.9,250.3 L373.3,250.3 L373.7,250.3 L374.1,250.3 L374.5,250.3 L374.9,250.3 L375.3,250.3 L375.7,250.3 L376.1,250.3 L376.5,250.3 L376.9,250.3 L377.3,250.3 L377.7,250.3 L378.1,250.3 L378.5,250.3 L378.9,250.3 L379.3,250.3 L379.7,250.3 L380.1,250.3 L380.5,250.3 L380.9,250.3 L381.3,250.3 L381.7,250.3 L382.1,250.3 L382.5,250.3 L382.9,250.3 L383.3,250.3 L383.7,250.3 L384.1,250.3 L384.5,250.3 L384.9,250.3 L385.3,250.3 L385.7,250.3 L386.1,250.3 L386.5,250.3 L386.9,250.3 L387.3,250.3 L387.7,250.2 L388.1,250.2 L388.5,250.2 L388.9,250.2 L389.3,250.2 L389.7,250.2 L390.1,250.2 L390.5,250.2 L390.9,250.2 L391.3,250.2 L391.7,250.2 L392.1,250.2 L392.5,250.2 L392.9,250.2 L393.3,250.2 L393.7,250.2 L394.1,250.2 L394.5,250.2 L394.9,250.2 L395.3,250.2 L395.7,250.2 L396.1,250.2 L396.5,250.2 L396.9,250.2 L397.3,250.2 L397.7,250.2 L398.1,250.2 L398.5,250.2 L398.9,250.2 L399.3,250.2 L399.7,250.2 L400.1,250.2 L400.5,250.1 L400.9,250.1 L401.3,250.1 L401.7,250.1 L402.1,250.1 L402.5,250.1 L402.9,250.1 L403.3,250.1 L403.7,250.1 L404.1,250.1 L404.5,250.1 L404.9,250.1 L405.3,250.1 L405.7,250.1 L406.1,250.1 L406.5,250.1 L406.9,250.1 L407.3,250.1 L407.7,250.1 L408.1,250.1 L408.5,250.1 L408.9,250.1 L409.3,250.0 L409.7,250.0 L410.1,250.0 L410.5,250.0 L410.9,250.0 L411.3,250.0 L411.7,250.0 L412.1,250.0 L412.5,250.0 L412.9,250.0 L413.3,250.0 L413.7,250.0 L414.1,250.0 L414.5,250.0 L414.9,250.0 L415.3,249.9 L415.7,249.9 L416.1,249.9 L416.5,249.9 L416.9,249.9 L417.3,249.9 L417.7,249.9 L418.1,249.9 L418.5,249.9 L418.9,249.9 L419.3,249.9 L419.7,249.8 L420.1,249.8 L420.5,249.8 L420.9,249.7 L421.3,249.7 L421.7,249.6 L422.1,249.5 L422.5,249.5 L422.9,249.4 L423.3,249.4 L423.7,249.3 L424.1,249.2 L424.5,249.2 L424.9,249.1 L425.3,249.1 L425.7,249.0 L426.1,248.9 L426.5,248.9 L426.9,248.8 L427.3,248.7 L427.7,248.7 L428.1,248.6 L428.5,248.5 L428.9,248.5 L429.3,248.4 L429.7,248.3 L430.1,248.3 L430.5,248.2 L430.9,248.1 L431.3,248.0 L431.7,248.0 L432.1,247.9 L432.5,247.8 L432.9,247.7 L433.3,247.6 L433.7,247.6 L434.1,247.5 L434.5,247.4 L434.9,247.3 L435.3,247.2 L435.7,247.1 L436.1,247.0 L436.5,246.9 L436.9,246.8 L437.3,246.7 L437.7,246.6 L438.1,246.4 L438.5,246.3 L438.9,246.2 L439.3,246.0 L439.7,245.9 L440.1,245.7 L440.5,245.7 L440.9,245.6 L441.3,245.5 L441.7,245.4 L442.1,245.3 L442.5,245.1 L442.9,245.0 L443.3,244.8 L443.7,244.6 L444.1,244.4 L444.5,244.1 L444.9,243.8 L445.3,243.5 L445.7,243.1 L446.1,242.7 L446.5,242.2 L446.9,241.6 L447.3,240.9 L447.7,240.2 L448.1,239.2 L448.5,238.1 L448.9,236.8 L449.3,235.1 L449.7,233.1 L450.1,230.5 L450.5,227.3 L450.9,223.4 L451.3,218.4 L451.7,212.4 L452.1,205.0 L452.5,196.4 L452.9,186.8 L453.3,177.1 L453.7,168.9 L454.1,164.1 L454.5,164.2 L454.9,169.1 L455.3,177.4 L455.7,187.0 L456.1,196.4 L456.5,204.9 L456.9,212.0 L457.3,217.8 L457.7,222.5 L458.1,226.3 L458.5,229.2 L458.9,231.4 L459.3,233.1 L459.7,234.3 L460.1,235.1 L460.5,235.3 L460.9,235.1 L461.3,234.4 L461.7,233.2 L462.1,231.2 L462.5,228.5 L462.9,224.8 L463.3,219.9 L463.7,213.8 L464.1,206.3 L464.5,197.6 L464.9,187.7 L465.3,176.8 L465.7,165.5 L466.1,154.2 L466.5,143.8 L466.9,135.1 L467.3,129.1 L467.7,126.5 L468.1,127.7 L468.5,132.6 L468.9,140.4 L469.3,150.3 L469.7,161.3 L470.1,172.7 L470.5,183.8 L470.9,194.0 L471.3,203.2 L471.7,211.2 L472.1,217.9 L472.5,223.3 L472.9,227.6 L473.3,230.9 L473.7,233.4 L474.1,235.2 L474.5,236.6 L474.9,237.6 L475.3,238.3 L475.7,238.8 L476.1,239.2 L476.5,239.4 L476.9,239.6 L477.3,239.8 L477.7,239.9 L478.1,240.0 L478.5,240.0 L478.9,240.1 L479.3,240.1 L479.7,240.1 L480.1,240.1 L480.5,240.4 L480.9,240.6 L481.3,240.9 L481.7,241.1 L482.1,241.3 L482.5,241.5 L482.9,241.7 L483.3,241.9 L483.7,242.0 L484.1,242.2 L484.5,242.3 L484.9,242.5 L485.3,242.6 L485.7,242.7 L486.1,242.8 L486.5,242.9 L486.9,242.9 L487.3,243.0 L487.7,243.0 L488.1,243.0 L488.5,243.0 L488.9,243.0 L489.3,243.0 L489.7,243.0 L490.1,242.9 L490.5,242.9 L490.9,242.8 L491.3,242.7 L491.7,242.6 L492.1,242.5 L492.5,242.4 L492.9,242.2 L493.3,242.1 L493.7,241.9 L494.1,241.8 L494.5,241.7 L494.9,241.5 L495.3,241.3 L495.7,241.0 L496.1,240.7 L496.5,240.5 L496.9,240.3 L497.3,240.0 L497.7,239.8 L498.1,239.6 L498.5,239.5 L498.9,239.3 L499.3,239.2 L499.7,239.1 L500.1,239.0 L500.5,239.0 L500.9,239.0 L501.3,239.0 L501.7,239.0 L502.1,239.1 L502.5,239.2 L502.9,239.3 L503.3,239.5 L503.7,239.7 L504.1,239.9 L504.5,240.1 L504.9,240.4 L505.3,240.6 L505.7,240.9 L506.1,241.2 L506.5,241.5 L506.9,241.8 L507.3,242.1 L507.7,242.5 L508.1,242.8 L508.5,243.1 L508.9,243.5 L509.3,243.8 L509.7,244.1 L510.1,244.4 L510.5,244.7 L510.9,245.0 L511.3,245.3 L511.7,245.6 L512.1,245.9 L512.5,246.1 L512.9,246.4 L513.3,246.6 L513.7,246.8 L514.1,247.0 L514.5,247.2 L514.9,247.4 L515.3,247.6 L515.7,247.9 L516.1,248.1 L516.5,248.3 L516.9,248.5 L517.3,248.7 L517.7,248.9 L518.1,249.1 L518.5,249.3 L518.9,249.5 L519.3,249.6 L519.7,249.8 L520.1,249.9 L520.5,250.1 L520.9,250.2 L521.3,250.4 L521.7,250.5 L522.1,250.6 L522.5,250.7 L522.9,250.9 L523.3,251.0 L523.7,251.1 L524.1,251.2 L524.5,251.3 L524.9,251.5 L525.3,251.4 L525.7,251.4 L526.1,251.4 L526.5,251.3 L526.9,251.3 L527.3,251.2 L527.7,251.2 L528.1,251.1 L528.5,251.1 L528.9,251.0 L529.3,251.0 L529.7,250.9 L530.1,250.9 L530.5,250.8 L530.9,250.8 L531.3,250.7 L531.7,250.7 L532.1,250.6 L532.5,250.6 L532.9,250.5 L533.3,250.5 L533.7,250.4 L534.1,250.4 L534.5,250.3 L534.9,250.3 L535.3,250.2 L535.7,250.2 L536.1,250.1 L536.5,250.1 L536.9,250.0 L537.3,250.0 L537.7,249.9 L538.1,249.9 L538.5,249.8 L538.9,249.8 L539.3,249.7 L539.7,249.7" fill="none" stroke="#111" stroke-width="1.4" stroke-dasharray="2.2,1.6"/>
<path d="M352.5,386.0 L352.9,386.0 L353.3,386.0 L353.7,386.0 L354.1,386.0 L354.5,386.0 L354.9,386.0 L355.3,385.9 L355.7,385.9 L356.1,385.9 L356.5,385.9 L356.9,385.9 L357.3,385.9 L357.7,385.9 L358.1,385.9 L358.5,385.9 L358.9,385.9 L359.3,385.9 L359.7,385.9 L360.1,385.9 L360.5,385.9 L360.9,385.9 L361.3,385.9 L361.7,385.9 L362.1,385.9 L362.5,385.8 L362.9,385.8 L363.3,385.8 L363.7,385.8 L364.1,385.8 L364.5,385.8 L364.9,385.8 L365.3,385.8 L365.7,385.8 L366.1,385.8 L366.5,385.8 L366.9,385.7 L367.3,385.7 L367.7,385.7 L368.1,385.7 L368.5,385.7 L368.9,385.7 L369.3,385.6 L369.7,385.6 L370.1,385.6 L370.5,385.6 L370.9,385.5 L371.3,385.5 L371.7,385.4 L372.1,385.2 L372.5,384.9 L372.9,384.3 L373.3,383.6 L373.7,383.0 L374.1,382.7 L374.5,382.8 L374.9,383.2 L375.3,383.5 L375.7,383.6 L376.1,383.3 L376.5,382.8 L376.9,382.1 L377.3,381.4 L377.7,380.9 L378.1,380.7 L378.5,381.0 L378.9,381.6 L379.3,382.4 L379.7,383.0 L380.1,383.6 L380.5,384.0 L380.9,384.3 L381.3,384.6 L381.7,384.8 L382.1,384.9 L382.5,385.0 L382.9,385.1 L383.3,385.2 L383.7,385.3 L384.1,385.3 L384.5,385.3 L384.9,385.4 L385.3,385.4 L385.7,385.4 L386.1,385.4 L386.5,385.4 L386.9,385.5 L387.3,385.5 L387.7,385.5 L388.1,385.5 L388.5,385.5 L388.9,385.5 L389.3,385.5 L389.7,385.5 L390.1,385.5 L390.5,385.5 L390.9,385.5 L391.3,385.5 L391.7,385.5 L392.1,385.5 L392.5,385.5 L392.9,385.5 L393.3,385.5 L393.7,385.5 L394.1,385.5 L394.5,385.5 L394.9,385.5 L395.3,385.5 L395.7,385.5 L396.1,385.5 L396.5,385.5 L396.9,385.5 L397.3,385.5 L397.7,385.5 L398.1,385.5 L398.5,385.4 L398.9,385.4 L399.3,385.4 L399.7,385.4 L400.1,385.4 L400.5,385.4 L400.9,385.4 L401.3,385.4 L401.7,385.4 L402.1,385.4 L402.5,385.4 L402.9,385.4 L403.3,385.4 L403.7,385.4 L404.1,385.4 L404.5,385.4 L404.9,385.4 L405.3,385.3 L405.7,385.3 L406.1,385.3 L406.5,385.3 L406.9,385.3 L407.3,385.3 L407.7,385.3 L408.1,385.3 L408.5,385.3 L408.9,385.3 L409.3,385.3 L409.7,385.3 L410.1,385.2 L410.5,385.2 L410.9,385.2 L411.3,385.2 L411.7,385.2 L412.1,385.2 L412.5,385.2 L412.9,385.2 L413.3,385.2 L413.7,385.2 L414.1,385.1 L414.5,385.1 L414.9,385.1 L415.3,385.1 L415.7,385.1 L416.1,385.1 L416.5,385.1 L416.9,385.1 L417.3,385.0 L417.7,385.0 L418.1,385.0 L418.5,385.0 L418.9,385.0 L419.3,385.0 L419.7,384.9 L420.1,384.9 L420.5,384.8 L420.9,384.7 L421.3,384.7 L421.7,384.6 L422.1,384.5 L422.5,384.4 L422.9,384.3 L423.3,384.2 L423.7,384.1 L424.1,384.0 L424.5,383.9 L424.9,383.8 L425.3,383.7 L425.7,383.6 L426.1,383.6 L426.5,383.5 L426.9,383.4 L427.3,383.3 L427.7,383.2 L428.1,383.1 L428.5,383.0 L428.9,382.8 L429.3,382.7 L429.7,382.6 L430.1,382.5 L430.5,382.4 L430.9,382.3 L431.3,382.2 L431.7,382.1 L432.1,382.0 L432.5,381.8 L432.9,381.7 L433.3,381.6 L433.7,381.5 L434.1,381.3 L434.5,381.2 L434.9,381.0 L435.3,380.9 L435.7,380.7 L436.1,380.6 L436.5,380.4 L436.9,380.3 L437.3,380.1 L437.7,379.9 L438.1,379.7 L438.5,379.5 L438.9,379.3 L439.3,379.1 L439.7,378.9 L440.1,378.7 L440.5,378.5 L440.9,378.4 L441.3,378.2 L441.7,378.0 L442.1,377.8 L442.5,377.6 L442.9,377.3 L443.3,377.0 L443.7,376.6 L444.1,376.3 L444.5,375.8 L444.9,375.3 L445.3,374.7 L445.7,374.1 L446.1,373.3 L446.5,372.4 L446.9,371.4 L447.3,370.1 L447.7,368.7 L448.1,366.9 L448.5,364.7 L448.9,362.1 L449.3,358.8 L449.7,354.7 L450.1,349.6 L450.5,343.2 L450.9,335.2 L451.3,325.5 L451.7,314.0 L452.1,301.2 L452.5,288.1 L452.9,277.0 L453.3,271.0 L453.7,271.8 L454.1,279.3 L454.5,291.0 L454.9,304.1 L455.3,316.5 L455.7,327.4 L456.1,336.5 L456.5,343.9 L456.9,349.7 L457.3,354.4 L457.7,358.0 L458.1,360.9 L458.5,363.1 L458.9,364.9 L459.3,366.2 L459.7,367.2 L460.1,368.0 L460.5,368.4 L460.9,368.6 L461.3,368.6 L461.7,368.3 L462.1,367.9 L462.5,367.2 L462.9,366.3 L463.3,365.0 L463.7,363.3 L464.1,361.0 L464.5,358.2 L464.9,354.5 L465.3,350.0 L465.7,344.3 L466.1,337.4 L466.5,329.1 L466.9,319.6 L467.3,308.8 L467.7,297.5 L468.1,286.4 L468.5,277.1 L468.9,271.4 L469.3,270.5 L469.7,274.6 L470.1,282.9 L470.5,293.6 L470.9,305.1 L471.3,316.2 L471.7,326.3 L472.1,335.1 L472.5,342.6 L472.9,348.9 L473.3,354.0 L473.7,358.1 L474.1,361.4 L474.5,364.1 L474.9,366.2 L475.3,367.9 L475.7,369.3 L476.1,370.5 L476.5,371.5 L476.9,372.3 L477.3,373.0 L477.7,373.6 L478.1,374.1 L478.5,374.5 L478.9,374.9 L479.3,375.3 L479.7,375.6 L480.1,375.9 L480.5,376.2 L480.9,376.4 L481.3,376.7 L481.7,376.9 L482.1,377.1 L482.5,377.3 L482.9,377.4 L483.3,377.6 L483.7,377.7 L484.1,377.9 L484.5,378.0 L484.9,378.1 L485.3,378.2 L485.7,378.3 L486.1,378.3 L486.5,378.4 L486.9,378.5 L487.3,378.5 L487.7,378.5 L488.1,378.5 L488.5,378.5 L488.9,378.5 L489.3,378.5 L489.7,378.4 L490.1,378.3 L490.5,378.2 L490.9,378.1 L491.3,377.9 L491.7,377.7 L492.1,377.5 L492.5,377.2 L492.9,376.9 L493.3,376.5 L493.7,376.1 L494.1,375.7 L494.5,375.2 L494.9,374.7 L495.3,374.2 L495.7,373.7 L496.1,373.2 L496.5,372.6 L496.9,372.1 L497.3,371.6 L497.7,371.1 L498.1,370.7 L498.5,370.3 L498.9,369.9 L499.3,369.6 L499.7,369.4 L500.1,369.3 L500.5,369.2 L500.9,369.3 L501.3,369.4 L501.7,369.6 L502.1,369.8 L502.5,370.2 L502.9,370.6 L503.3,371.1 L503.7,371.6 L504.1,372.1 L504.5,372.7 L504.9,373.3 L505.3,373.9 L505.7,374.6 L506.1,375.2 L506.5,375.7 L506.9,376.3 L507.3,376.8 L507.7,377.3 L508.1,377.8 L508.5,378.2 L508.9,378.6 L509.3,379.0 L509.7,379.3 L510.1,379.5 L510.5,379.8 L510.9,380.0 L511.3,380.2 L511.7,380.4 L512.1,380.5 L512.5,380.6 L512.9,380.7 L513.3,380.8 L513.7,380.9 L514.1,381.0 L514.5,381.0 L514.9,381.1 L515.3,381.3 L515.7,381.5 L516.1,381.7 L516.5,382.0 L516.9,382.2 L517.3,382.4 L517.7,382.6 L518.1,382.9 L518.5,383.1 L518.9,383.3 L519.3,383.5 L519.7,383.8 L520.1,384.0 L520.5,384.2 L520.9,384.4 L521.3,384.6 L521.7,384.8 L522.1,385.1 L522.5,385.3 L522.9,385.5 L523.3,385.7 L523.7,385.9 L524.1,386.2 L524.5,386.4 L524.9,386.6 L525.3,386.6 L525.7,386.6 L526.1,386.6 L526.5,386.5 L526.9,386.5 L527.3,386.5 L527.7,386.4 L528.1,386.4 L528.5,386.4 L528.9,386.3 L529.3,386.3 L529.7,386.3 L530.1,386.3 L530.5,386.2 L530.9,386.2 L531.3,386.2 L531.7,386.1 L532.1,386.1 L532.5,386.1 L532.9,386.0 L533.3,386.0 L533.7,386.0 L534.1,385.9 L534.5,385.9 L534.9,385.9 L535.3,385.8 L535.7,385.8 L536.1,385.8 L536.5,385.7 L536.9,385.7 L537.3,385.7 L537.7,385.7 L538.1,385.6 L538.5,385.6 L538.9,385.6 L539.3,385.5 L539.7,385.5" fill="none" stroke="#ff2020" stroke-width="1.4" stroke-linejoin="round"/>
<path d="M352.5,386.7 L352.9,386.7 L353.3,386.7 L353.7,386.7 L354.1,386.7 L354.5,386.7 L354.9,386.7 L355.3,386.7 L355.7,386.7 L356.1,386.7 L356.5,386.6 L356.9,386.6 L357.3,386.6 L357.7,386.6 L358.1,386.6 L358.5,386.6 L358.9,386.6 L359.3,386.6 L359.7,386.6 L360.1,386.6 L360.5,386.6 L360.9,386.6 L361.3,386.6 L361.7,386.6 L362.1,386.6 L362.5,386.6 L362.9,386.6 L363.3,386.6 L363.7,386.5 L364.1,386.5 L364.5,386.5 L364.9,386.5 L365.3,386.5 L365.7,386.5 L366.1,386.5 L366.5,386.5 L366.9,386.5 L367.3,386.5 L367.7,386.5 L368.1,386.5 L368.5,386.5 L368.9,386.5 L369.3,386.5 L369.7,386.5 L370.1,386.4 L370.5,386.4 L370.9,386.4 L371.3,386.4 L371.7,386.4 L372.1,386.4 L372.5,386.3 L372.9,386.3 L373.3,386.2 L373.7,386.1 L374.1,386.0 L374.5,385.8 L374.9,385.7 L375.3,385.4 L375.7,385.2 L376.1,385.0 L376.5,384.8 L376.9,384.6 L377.3,384.5 L377.7,384.5 L378.1,384.5 L378.5,384.6 L378.9,384.8 L379.3,385.0 L379.7,385.2 L380.1,385.4 L380.5,385.6 L380.9,385.8 L381.3,385.9 L381.7,386.0 L382.1,386.1 L382.5,386.2 L382.9,386.2 L383.3,386.2 L383.7,386.2 L384.1,386.2 L384.5,386.2 L384.9,386.2 L385.3,386.2 L385.7,386.2 L386.1,386.2 L386.5,386.2 L386.9,386.2 L387.3,386.2 L387.7,386.2 L388.1,386.2 L388.5,386.2 L388.9,386.1 L389.3,386.1 L389.7,386.1 L390.1,386.1 L390.5,386.1 L390.9,386.1 L391.3,386.1 L391.7,386.1 L392.1,386.1 L392.5,386.1 L392.9,386.1 L393.3,386.1 L393.7,386.1 L394.1,386.0 L394.5,386.0 L394.9,386.0 L395.3,386.0 L395.7,386.0 L396.1,386.0 L396.5,386.0 L396.9,386.0 L397.3,386.0 L397.7,386.0 L398.1,386.0 L398.5,386.0 L398.9,386.0 L399.3,385.9 L399.7,385.9 L400.1,385.9 L400.5,385.9 L400.9,385.9 L401.3,385.9 L401.7,385.9 L402.1,385.9 L402.5,385.9 L402.9,385.9 L403.3,385.9 L403.7,385.8 L404.1,385.8 L404.5,385.8 L404.9,385.8 L405.3,385.8 L405.7,385.8 L406.1,385.8 L406.5,385.8 L406.9,385.8 L407.3,385.8 L407.7,385.7 L408.1,385.7 L408.5,385.7 L408.9,385.7 L409.3,385.7 L409.7,385.7 L410.1,385.7 L410.5,385.7 L410.9,385.7 L411.3,385.6 L411.7,385.6 L412.1,385.6 L412.5,385.6 L412.9,385.6 L413.3,385.6 L413.7,385.6 L414.1,385.6 L414.5,385.5 L414.9,385.5 L415.3,385.5 L415.7,385.5 L416.1,385.5 L416.5,385.5 L416.9,385.5 L417.3,385.4 L417.7,385.4 L418.1,385.4 L418.5,385.4 L418.9,385.4 L419.3,385.4 L419.7,385.4 L420.1,385.3 L420.5,385.3 L420.9,385.3 L421.3,385.2 L421.7,385.2 L422.1,385.2 L422.5,385.1 L422.9,385.1 L423.3,385.1 L423.7,385.0 L424.1,385.0 L424.5,384.9 L424.9,384.9 L425.3,384.9 L425.7,384.8 L426.1,384.8 L426.5,384.7 L426.9,384.7 L427.3,384.7 L427.7,384.6 L428.1,384.6 L428.5,384.5 L428.9,384.5 L429.3,384.4 L429.7,384.4 L430.1,384.3 L430.5,384.3 L430.9,384.2 L431.3,384.2 L431.7,384.1 L432.1,384.1 L432.5,384.0 L432.9,383.9 L433.3,383.9 L433.7,383.8 L434.1,383.7 L434.5,383.7 L434.9,383.6 L435.3,383.5 L435.7,383.4 L436.1,383.4 L436.5,383.3 L436.9,383.2 L437.3,383.1 L437.7,383.0 L438.1,382.9 L438.5,382.8 L438.9,382.6 L439.3,382.5 L439.7,382.4 L440.1,382.2 L440.5,382.0 L440.9,381.8 L441.3,381.5 L441.7,381.3 L442.1,381.0 L442.5,380.7 L442.9,380.4 L443.3,380.1 L443.7,379.7 L444.1,379.4 L444.5,378.9 L444.9,378.5 L445.3,377.9 L445.7,377.4 L446.1,376.7 L446.5,376.0 L446.9,375.1 L447.3,374.1 L447.7,373.0 L448.1,371.6 L448.5,370.0 L448.9,368.1 L449.3,365.7 L449.7,362.7 L450.1,359.0 L450.5,354.2 L450.9,348.0 L451.3,340.0 L451.7,329.7 L452.1,316.9 L452.5,302.0 L452.9,287.7 L453.3,278.4 L453.7,278.5 L454.1,287.7 L454.5,301.7 L454.9,315.9 L455.3,328.2 L455.7,337.8 L456.1,345.2 L456.5,350.7 L456.9,354.9 L457.3,358.0 L457.7,360.4 L458.1,362.1 L458.5,363.4 L458.9,364.3 L459.3,364.8 L459.7,365.2 L460.1,365.3 L460.5,365.3 L460.9,365.1 L461.3,364.8 L461.7,364.2 L462.1,363.4 L462.5,362.5 L462.9,361.2 L463.3,359.7 L463.7,357.9 L464.1,355.8 L464.5,353.2 L464.9,350.1 L465.3,346.5 L465.7,342.3 L466.1,337.4 L466.5,331.8 L466.9,325.6 L467.3,318.8 L467.7,311.9 L468.1,305.4 L468.5,300.0 L468.9,296.6 L469.3,295.8 L469.7,297.7 L470.1,302.0 L470.5,308.0 L470.9,314.9 L471.3,322.1 L471.7,328.9 L472.1,335.3 L472.5,340.9 L472.9,345.8 L473.3,350.1 L473.7,353.8 L474.1,357.0 L474.5,359.8 L474.9,362.2 L475.3,364.3 L475.7,366.1 L476.1,367.6 L476.5,369.0 L476.9,370.3 L477.3,371.3 L477.7,372.3 L478.1,373.2 L478.5,373.9 L478.9,374.6 L479.3,375.3 L479.7,375.8 L480.1,376.3 L480.5,376.6 L480.9,376.9 L481.3,377.1 L481.7,377.3 L482.1,377.4 L482.5,377.6 L482.9,377.7 L483.3,377.8 L483.7,377.8 L484.1,377.9 L484.5,377.9 L484.9,378.0 L485.3,378.0 L485.7,378.0 L486.1,378.0 L486.5,378.0 L486.9,377.9 L487.3,377.9 L487.7,377.9 L488.1,377.8 L488.5,377.8 L488.9,377.7 L489.3,377.7 L489.7,377.6 L490.1,377.5 L490.5,377.5 L490.9,377.4 L491.3,377.3 L491.7,377.2 L492.1,377.2 L492.5,377.1 L492.9,377.0 L493.3,376.9 L493.7,376.8 L494.1,376.7 L494.5,376.6 L494.9,376.5 L495.3,376.6 L495.7,376.7 L496.1,376.8 L496.5,376.9 L496.9,377.0 L497.3,377.2 L497.7,377.3 L498.1,377.4 L498.5,377.5 L498.9,377.6 L499.3,377.7 L499.7,377.9 L500.1,378.0 L500.5,378.1 L500.9,378.2 L501.3,378.3 L501.7,378.4 L502.1,378.5 L502.5,378.6 L502.9,378.7 L503.3,378.8 L503.7,378.9 L504.1,379.0 L504.5,379.1 L504.9,379.2 L505.3,379.3 L505.7,379.4 L506.1,379.5 L506.5,379.6 L506.9,379.7 L507.3,379.8 L507.7,379.9 L508.1,380.0 L508.5,380.1 L508.9,380.2 L509.3,380.3 L509.7,380.4 L510.1,380.5 L510.5,380.6 L510.9,380.7 L511.3,380.8 L511.7,380.9 L512.1,381.0 L512.5,381.1 L512.9,381.2 L513.3,381.3 L513.7,381.4 L514.1,381.5 L514.5,381.6 L514.9,381.7 L515.3,381.9 L515.7,382.1 L516.1,382.3 L516.5,382.5 L516.9,382.7 L517.3,383.0 L517.7,383.2 L518.1,383.4 L518.5,383.6 L518.9,383.8 L519.3,384.0 L519.7,384.3 L520.1,384.5 L520.5,384.7 L520.9,384.9 L521.3,385.1 L521.7,385.4 L522.1,385.6 L522.5,385.8 L522.9,386.0 L523.3,386.2 L523.7,386.4 L524.1,386.6 L524.5,386.9 L524.9,387.1 L525.3,387.1 L525.7,387.1 L526.1,387.0 L526.5,387.0 L526.9,386.9 L527.3,386.9 L527.7,386.8 L528.1,386.8 L528.5,386.7 L528.9,386.7 L529.3,386.7 L529.7,386.6 L530.1,386.6 L530.5,386.5 L530.9,386.5 L531.3,386.4 L531.7,386.4 L532.1,386.3 L532.5,386.3 L532.9,386.3 L533.3,386.2 L533.7,386.2 L534.1,386.1 L534.5,386.1 L534.9,386.0 L535.3,386.0 L535.7,385.9 L536.1,385.9 L536.5,385.9 L536.9,385.8 L537.3,385.8 L537.7,385.7 L538.1,385.7 L538.5,385.6 L538.9,385.6 L539.3,385.5 L539.7,385.5" fill="none" stroke="#111" stroke-width="1.4" stroke-dasharray="2.2,1.6"/>
<text x="450.6" y="142" font-family='"Liberation Sans", sans-serif' font-size="9" font-weight="normal" fill="#222" text-anchor="start" >A<tspan font-size="6.6" dy="2">1g</tspan><tspan font-size="8" dx="-1.5" dy="-5">'</tspan></text>
<path d="M461.8,146 L461.8,157" stroke="#111" stroke-width="1.2"/><path d="M459.8,155 L461.8,161.2 L463.8,155 Z" fill="#111"/>
<text x="472.4" y="152.7" font-family='"Liberation Sans", sans-serif' font-size="9" font-weight="normal" fill="#222" text-anchor="start" >A<tspan font-size="6.6" dy="2">1g</tspan></text>
<text x="441.2" y="155.6" font-family='"Liberation Sans", sans-serif' font-size="9" font-weight="normal" fill="#222" text-anchor="start" >E<tspan font-size="6.6" dy="3">2g</tspan><tspan font-size="6.6" dx="-7.3" dy="-7.5">1</tspan></text>
<text x="436.8" y="171.1" font-family='"Liberation Sans", sans-serif' font-size="9" font-weight="normal" fill="#222" text-anchor="start" >E<tspan font-size="6.6" dy="3">2g</tspan><tspan font-size="6.6" dx="-7.3" dy="-7.5">1</tspan><tspan font-size="8" dx="0.3">'</tspan></text>
<text x="369.9" y="234.3" font-family='"Liberation Sans", sans-serif' font-size="9" font-weight="normal" fill="#222" text-anchor="start" >E<tspan font-size="6.6" dy="2">1g</tspan></text>
<text x="482.7" y="214.5" font-family='"Liberation Sans", sans-serif' font-size="10.2" font-weight="normal" fill="#222" text-anchor="start" >2LA(M)+A<tspan font-size="6.6" dy="2">2u</tspan></text>
<rect x="357.5" y="147.9" width="69.0" height="54.5" fill="#fff" stroke="#555" stroke-width="1.2"/>
<path d="M358.5,197.0 L359.0,197.0 L359.5,197.0 L360.0,197.0 L360.5,197.0 L361.0,197.0 L361.5,197.0 L362.0,197.0 L362.5,197.0 L363.0,197.0 L363.5,197.0 L364.0,197.0 L364.5,197.0 L365.0,197.0 L365.5,197.0 L366.0,197.0 L366.5,197.0 L367.0,197.0 L367.5,197.0 L368.0,197.0 L368.5,197.0 L369.0,196.9 L369.5,196.8 L370.0,196.5 L370.5,196.0 L371.0,195.4 L371.5,194.7 L372.0,193.9 L372.5,193.1 L373.0,192.3 L373.5,191.5 L374.0,190.6 L374.5,189.7 L375.0,188.7 L375.5,187.6 L376.0,186.5 L376.5,185.3 L377.0,184.1 L377.5,182.8 L378.0,181.2 L378.5,179.4 L379.0,177.4 L379.5,175.4 L380.0,173.5 L380.5,171.8 L381.0,170.6 L381.5,170.0 L382.0,169.9 L382.5,170.3 L383.0,170.9 L383.5,171.5 L384.0,172.0 L384.5,172.0 L385.0,171.4 L385.5,170.0 L386.0,168.1 L386.5,166.1 L387.0,164.2 L387.5,162.9 L388.0,162.8 L388.5,164.2 L389.0,167.1 L389.5,170.6 L390.0,173.5 L390.5,175.6 L391.0,177.3 L391.5,178.7 L392.0,179.9 L392.5,180.8 L393.0,181.4 L393.5,181.6 L394.0,181.6 L394.5,181.3 L395.0,180.8 L395.5,180.2 L396.0,179.5 L396.5,178.8 L397.0,178.0 L397.5,177.1 L398.0,176.1 L398.5,175.0 L399.0,173.8 L399.5,172.5 L400.0,171.0 L400.5,169.4 L401.0,167.4 L401.5,165.0 L402.0,162.3 L402.5,159.7 L403.0,157.5 L403.5,155.9 L404.0,155.3 L404.5,155.5 L405.0,156.3 L405.5,157.6 L406.0,159.1 L406.5,160.8 L407.0,162.8 L407.5,165.1 L408.0,167.8 L408.5,170.8 L409.0,174.0 L409.5,177.1 L410.0,179.9 L410.5,182.3 L411.0,184.1 L411.5,185.5 L412.0,186.8 L412.5,187.9 L413.0,188.9 L413.5,189.9 L414.0,190.8 L414.5,191.6 L415.0,192.3 L415.5,192.9 L416.0,193.4 L416.5,193.9 L417.0,194.3 L417.5,194.7 L418.0,195.1 L418.5,195.4 L419.0,195.7 L419.5,196.0 L420.0,196.3 L420.5,196.5 L421.0,196.7 L421.5,196.8 L422.0,196.9 L422.5,196.9 L423.0,196.9 L423.5,196.9 L424.0,196.9 L424.5,196.9 L425.0,196.9 L425.5,196.9" fill="none" stroke="#a0a0a0" stroke-width="2.8" stroke-linejoin="round"/>
<path d="M358.5,197.0 L359.0,197.0 L359.5,197.0 L360.0,197.0 L360.5,197.0 L361.0,197.0 L361.5,197.0 L362.0,197.0 L362.5,197.0 L363.0,197.0 L363.5,197.0 L364.0,197.0 L364.5,197.0 L365.0,197.0 L365.5,197.0 L366.0,197.0 L366.5,197.0 L367.0,197.0 L367.5,197.0 L368.0,197.0 L368.5,197.0 L369.0,196.9 L369.5,196.8 L370.0,196.5 L370.5,196.0 L371.0,195.4 L371.5,194.7 L372.0,193.9 L372.5,193.1 L373.0,192.3 L373.5,191.5 L374.0,190.6 L374.5,189.7 L375.0,188.7 L375.5,187.6 L376.0,186.5 L376.5,185.3 L377.0,184.1 L377.5,182.8 L378.0,181.2 L378.5,179.4 L379.0,177.4 L379.5,175.4 L380.0,173.5 L380.5,171.8 L381.0,170.6 L381.5,170.0 L382.0,169.9 L382.5,170.3 L383.0,170.9 L383.5,171.5 L384.0,172.0 L384.5,172.0 L385.0,171.4 L385.5,170.0 L386.0,168.1 L386.5,166.1 L387.0,164.2 L387.5,162.9 L388.0,162.8 L388.5,164.2 L389.0,167.1 L389.5,170.6 L390.0,173.5 L390.5,175.6 L391.0,177.3 L391.5,178.7 L392.0,179.9 L392.5,180.8 L393.0,181.4 L393.5,181.6 L394.0,181.6 L394.5,181.3 L395.0,180.8 L395.5,180.2 L396.0,179.5 L396.5,178.8 L397.0,178.0 L397.5,177.1 L398.0,176.1 L398.5,175.0 L399.0,173.8 L399.5,172.5 L400.0,171.0 L400.5,169.4 L401.0,167.4 L401.5,165.0 L402.0,162.3 L402.5,159.7 L403.0,157.5 L403.5,155.9 L404.0,155.3 L404.5,155.5 L405.0,156.3 L405.5,157.6 L406.0,159.1 L406.5,160.8 L407.0,162.8 L407.5,165.1 L408.0,167.8 L408.5,170.8 L409.0,174.0 L409.5,177.1 L410.0,179.9 L410.5,182.3 L411.0,184.1 L411.5,185.5 L412.0,186.8 L412.5,187.9 L413.0,188.9 L413.5,189.9 L414.0,190.8 L414.5,191.6 L415.0,192.3 L415.5,192.9 L416.0,193.4 L416.5,193.9 L417.0,194.3 L417.5,194.7 L418.0,195.1 L418.5,195.4 L419.0,195.7 L419.5,196.0 L420.0,196.3 L420.5,196.5 L421.0,196.7 L421.5,196.8 L422.0,196.9 L422.5,196.9 L423.0,196.9 L423.5,196.9 L424.0,196.9 L424.5,196.9 L425.0,196.9 L425.5,196.9" fill="none" stroke="#5a5a5a" stroke-width="1.1" stroke-linejoin="round"/>
<circle cx="358.50" cy="197.00" r="0.9" fill="#333"/>
<circle cx="360.47" cy="197.00" r="0.9" fill="#333"/>
<circle cx="362.44" cy="197.00" r="0.9" fill="#333"/>
<circle cx="364.41" cy="197.00" r="0.9" fill="#333"/>
<circle cx="366.38" cy="197.00" r="0.9" fill="#333"/>
<circle cx="368.35" cy="197.00" r="0.9" fill="#333"/>
<circle cx="370.32" cy="196.26" r="0.9" fill="#333"/>
<circle cx="372.29" cy="193.45" r="0.9" fill="#333"/>
<circle cx="374.26" cy="190.19" r="0.9" fill="#333"/>
<circle cx="376.24" cy="186.00" r="0.9" fill="#333"/>
<circle cx="378.21" cy="180.66" r="0.9" fill="#333"/>
<circle cx="380.18" cy="172.69" r="0.9" fill="#333"/>
<circle cx="382.15" cy="169.79" r="0.9" fill="#333"/>
<circle cx="384.12" cy="172.26" r="0.9" fill="#333"/>
<circle cx="386.09" cy="167.83" r="0.9" fill="#333"/>
<circle cx="388.06" cy="161.82" r="0.9" fill="#333"/>
<circle cx="390.03" cy="174.24" r="0.9" fill="#333"/>
<circle cx="392.00" cy="180.01" r="0.9" fill="#333"/>
<circle cx="393.97" cy="181.69" r="0.9" fill="#333"/>
<circle cx="395.94" cy="179.60" r="0.9" fill="#333"/>
<circle cx="397.91" cy="176.38" r="0.9" fill="#333"/>
<circle cx="399.88" cy="171.44" r="0.9" fill="#333"/>
<circle cx="401.85" cy="163.12" r="0.9" fill="#333"/>
<circle cx="403.82" cy="154.88" r="0.9" fill="#333"/>
<circle cx="405.79" cy="158.36" r="0.9" fill="#333"/>
<circle cx="407.76" cy="166.26" r="0.9" fill="#333"/>
<circle cx="409.74" cy="178.64" r="0.9" fill="#333"/>
<circle cx="411.71" cy="186.10" r="0.9" fill="#333"/>
<circle cx="413.68" cy="190.25" r="0.9" fill="#333"/>
<circle cx="415.65" cy="193.10" r="0.9" fill="#333"/>
<circle cx="417.62" cy="194.80" r="0.9" fill="#333"/>
<circle cx="419.59" cy="196.09" r="0.9" fill="#333"/>
<circle cx="421.56" cy="196.83" r="0.9" fill="#333"/>
<circle cx="423.53" cy="196.90" r="0.9" fill="#333"/>
<circle cx="425.50" cy="196.90" r="0.9" fill="#333"/>
<path d="M362.0,199.1 L362.4,199.1 L362.8,199.0 L363.2,199.0 L363.6,199.0 L364.0,199.0 L364.4,199.0 L364.8,199.0 L365.2,199.0 L365.6,199.0 L366.0,199.0 L366.4,199.0 L366.8,199.0 L367.2,198.9 L367.6,198.9 L368.0,198.9 L368.4,198.9 L368.8,198.9 L369.2,198.9 L369.6,198.9 L370.0,198.8 L370.4,198.8 L370.8,198.8 L371.2,198.8 L371.6,198.8 L372.0,198.8 L372.4,198.7 L372.8,198.7 L373.2,198.7 L373.6,198.7 L374.0,198.7 L374.4,198.6 L374.8,198.6 L375.2,198.6 L375.6,198.6 L376.0,198.5 L376.4,198.5 L376.8,198.5 L377.2,198.5 L377.6,198.4 L378.0,198.4 L378.4,198.4 L378.8,198.3 L379.2,198.3 L379.6,198.3 L380.0,198.2 L380.4,198.2 L380.8,198.1 L381.2,198.1 L381.6,198.0 L382.0,198.0 L382.4,197.9 L382.8,197.9 L383.2,197.8 L383.6,197.7 L384.0,197.7 L384.4,197.6 L384.8,197.5 L385.2,197.5 L385.6,197.4 L386.0,197.3 L386.4,197.2 L386.8,197.1 L387.2,197.0 L387.6,196.9 L388.0,196.7 L388.4,196.6 L388.8,196.5 L389.2,196.3 L389.6,196.2 L390.0,196.0 L390.4,195.8 L390.8,195.6 L391.2,195.4 L391.6,195.2 L392.0,194.9 L392.4,194.6 L392.8,194.3 L393.2,194.0 L393.6,193.6 L394.0,193.2 L394.4,192.8 L394.8,192.3 L395.2,191.8 L395.6,191.3 L396.0,190.6 L396.4,189.9 L396.8,189.1 L397.2,188.3 L397.6,187.3 L398.0,186.2 L398.4,185.0 L398.8,183.7 L399.2,182.2 L399.6,180.6 L400.0,178.8 L400.4,176.8 L400.8,174.7 L401.2,172.4 L401.6,170.1 L402.0,167.7 L402.4,165.4 L402.8,163.2 L403.2,161.4 L403.6,160.0 L404.0,159.2 L404.4,159.0 L404.8,159.5 L405.2,160.6 L405.6,162.3 L406.0,164.3 L406.4,166.5 L406.8,168.9 L407.2,171.3 L407.6,173.6 L408.0,175.8 L408.4,177.8 L408.8,179.7 L409.2,181.4 L409.6,183.0 L410.0,184.4 L410.4,185.6 L410.8,186.8 L411.2,187.8 L411.6,188.7 L412.0,189.5 L412.4,190.3 L412.8,190.9 L413.2,191.5 L413.6,192.1 L414.0,192.6 L414.4,193.0 L414.8,193.5 L415.2,193.8 L415.6,194.2 L416.0,194.5 L416.4,194.8 L416.8,195.0 L417.2,195.3 L417.6,195.5 L418.0,195.7 L418.4,195.9 L418.8,196.1 L419.2,196.3 L419.6,196.4 L420.0,196.6 L420.4,196.7 L420.8,196.8 L421.2,196.9 L421.6,197.0 L422.0,197.1" fill="none" stroke="#2020a0" stroke-width="1.1"/>
<path d="M362.0,199.2 L362.4,199.2 L362.8,199.2 L363.2,199.2 L363.6,199.2 L364.0,199.2 L364.4,199.2 L364.8,199.1 L365.2,199.1 L365.6,199.1 L366.0,199.1 L366.4,199.1 L366.8,199.1 L367.2,199.1 L367.6,199.1 L368.0,199.1 L368.4,199.1 L368.8,199.0 L369.2,199.0 L369.6,199.0 L370.0,199.0 L370.4,199.0 L370.8,199.0 L371.2,199.0 L371.6,198.9 L372.0,198.9 L372.4,198.9 L372.8,198.9 L373.2,198.9 L373.6,198.9 L374.0,198.8 L374.4,198.8 L374.8,198.8 L375.2,198.8 L375.6,198.7 L376.0,198.7 L376.4,198.7 L376.8,198.7 L377.2,198.6 L377.6,198.6 L378.0,198.6 L378.4,198.5 L378.8,198.5 L379.2,198.5 L379.6,198.4 L380.0,198.4 L380.4,198.3 L380.8,198.3 L381.2,198.2 L381.6,198.2 L382.0,198.1 L382.4,198.0 L382.8,198.0 L383.2,197.9 L383.6,197.8 L384.0,197.7 L384.4,197.6 L384.8,197.5 L385.2,197.4 L385.6,197.3 L386.0,197.2 L386.4,197.1 L386.8,196.9 L387.2,196.8 L387.6,196.6 L388.0,196.5 L388.4,196.3 L388.8,196.1 L389.2,195.8 L389.6,195.6 L390.0,195.3 L390.4,195.1 L390.8,194.8 L391.2,194.4 L391.6,194.1 L392.0,193.7 L392.4,193.3 L392.8,192.9 L393.2,192.5 L393.6,192.0 L394.0,191.5 L394.4,191.1 L394.8,190.6 L395.2,190.1 L395.6,189.7 L396.0,189.3 L396.4,189.0 L396.8,188.7 L397.2,188.6 L397.6,188.5 L398.0,188.5 L398.4,188.6 L398.8,188.9 L399.2,189.1 L399.6,189.5 L400.0,189.9 L400.4,190.4 L400.8,190.8 L401.2,191.3 L401.6,191.8 L402.0,192.2 L402.4,192.7 L402.8,193.1 L403.2,193.5 L403.6,193.9 L404.0,194.3 L404.4,194.6 L404.8,194.9 L405.2,195.2 L405.6,195.5 L406.0,195.7 L406.4,196.0 L406.8,196.2 L407.2,196.4 L407.6,196.5 L408.0,196.7 L408.4,196.9 L408.8,197.0 L409.2,197.1 L409.6,197.3 L410.0,197.4 L410.4,197.5 L410.8,197.6 L411.2,197.7 L411.6,197.8 L412.0,197.9 L412.4,197.9 L412.8,198.0 L413.2,198.1 L413.6,198.1 L414.0,198.2 L414.4,198.2 L414.8,198.3 L415.2,198.3 L415.6,198.4 L416.0,198.4 L416.4,198.5 L416.8,198.5 L417.2,198.5 L417.6,198.6 L418.0,198.6 L418.4,198.6 L418.8,198.7 L419.2,198.7 L419.6,198.7 L420.0,198.8 L420.4,198.8 L420.8,198.8 L421.2,198.8 L421.6,198.8 L422.0,198.9" fill="none" stroke="#22dddd" stroke-width="1.1"/>
<path d="M362.0,198.1 L362.4,198.0 L362.8,198.0 L363.2,197.9 L363.6,197.9 L364.0,197.8 L364.4,197.7 L364.8,197.6 L365.2,197.5 L365.6,197.5 L366.0,197.4 L366.4,197.3 L366.8,197.1 L367.2,197.0 L367.6,196.9 L368.0,196.8 L368.4,196.6 L368.8,196.5 L369.2,196.3 L369.6,196.1 L370.0,195.9 L370.4,195.7 L370.8,195.4 L371.2,195.2 L371.6,194.9 L372.0,194.6 L372.4,194.2 L372.8,193.9 L373.2,193.5 L373.6,193.0 L374.0,192.5 L374.4,192.0 L374.8,191.3 L375.2,190.7 L375.6,189.9 L376.0,189.1 L376.4,188.2 L376.8,187.3 L377.2,186.2 L377.6,185.0 L378.0,183.8 L378.4,182.5 L378.8,181.2 L379.2,179.8 L379.6,178.5 L380.0,177.3 L380.4,176.2 L380.8,175.3 L381.2,174.8 L381.6,174.5 L382.0,174.6 L382.4,175.0 L382.8,175.7 L383.2,176.7 L383.6,177.9 L384.0,179.2 L384.4,180.5 L384.8,181.9 L385.2,183.2 L385.6,184.4 L386.0,185.6 L386.4,186.7 L386.8,187.8 L387.2,188.7 L387.6,189.5 L388.0,190.3 L388.4,191.0 L388.8,191.7 L389.2,192.2 L389.6,192.8 L390.0,193.2 L390.4,193.7 L390.8,194.1 L391.2,194.4 L391.6,194.7 L392.0,195.0 L392.4,195.3 L392.8,195.6 L393.2,195.8 L393.6,196.0 L394.0,196.2 L394.4,196.4 L394.8,196.5 L395.2,196.7 L395.6,196.8 L396.0,197.0 L396.4,197.1 L396.8,197.2 L397.2,197.3 L397.6,197.4 L398.0,197.5 L398.4,197.6 L398.8,197.7 L399.2,197.8 L399.6,197.8 L400.0,197.9 L400.4,198.0 L400.8,198.0 L401.2,198.1 L401.6,198.1 L402.0,198.2 L402.4,198.2 L402.8,198.3 L403.2,198.3 L403.6,198.4 L404.0,198.4 L404.4,198.4 L404.8,198.5 L405.2,198.5 L405.6,198.5 L406.0,198.6 L406.4,198.6 L406.8,198.6 L407.2,198.6 L407.6,198.7 L408.0,198.7 L408.4,198.7 L408.8,198.7 L409.2,198.8 L409.6,198.8 L410.0,198.8 L410.4,198.8 L410.8,198.8 L411.2,198.9 L411.6,198.9 L412.0,198.9 L412.4,198.9 L412.8,198.9 L413.2,198.9 L413.6,198.9 L414.0,199.0 L414.4,199.0 L414.8,199.0 L415.2,199.0 L415.6,199.0 L416.0,199.0 L416.4,199.0 L416.8,199.0 L417.2,199.1 L417.6,199.1 L418.0,199.1 L418.4,199.1 L418.8,199.1 L419.2,199.1 L419.6,199.1 L420.0,199.1 L420.4,199.1 L420.8,199.1 L421.2,199.1 L421.6,199.1 L422.0,199.2" fill="none" stroke="#ff3030" stroke-width="1.1"/>
<path d="M362.0,199.3 L362.4,199.3 L362.8,199.3 L363.2,199.2 L363.6,199.2 L364.0,199.2 L364.4,199.2 L364.8,199.2 L365.2,199.2 L365.6,199.2 L366.0,199.2 L366.4,199.2 L366.8,199.2 L367.2,199.1 L367.6,199.1 L368.0,199.1 L368.4,199.1 L368.8,199.1 L369.2,199.1 L369.6,199.0 L370.0,199.0 L370.4,199.0 L370.8,199.0 L371.2,199.0 L371.6,198.9 L372.0,198.9 L372.4,198.9 L372.8,198.8 L373.2,198.8 L373.6,198.8 L374.0,198.7 L374.4,198.7 L374.8,198.6 L375.2,198.6 L375.6,198.5 L376.0,198.5 L376.4,198.4 L376.8,198.3 L377.2,198.3 L377.6,198.2 L378.0,198.1 L378.4,198.0 L378.8,197.8 L379.2,197.7 L379.6,197.5 L380.0,197.4 L380.4,197.2 L380.8,196.9 L381.2,196.6 L381.6,196.3 L382.0,196.0 L382.4,195.6 L382.8,195.1 L383.2,194.5 L383.6,193.8 L384.0,192.9 L384.4,191.9 L384.8,190.6 L385.2,189.1 L385.6,187.2 L386.0,185.0 L386.4,182.4 L386.8,179.5 L387.2,176.5 L387.6,173.9 L388.0,172.1 L388.4,171.7 L388.8,172.9 L389.2,175.1 L389.6,178.0 L390.0,181.0 L390.4,183.8 L390.8,186.2 L391.2,188.2 L391.6,189.9 L392.0,191.3 L392.4,192.4 L392.8,193.3 L393.2,194.1 L393.6,194.8 L394.0,195.3 L394.4,195.8 L394.8,196.2 L395.2,196.5 L395.6,196.8 L396.0,197.0 L396.4,197.3 L396.8,197.4 L397.2,197.6 L397.6,197.8 L398.0,197.9 L398.4,198.0 L398.8,198.1 L399.2,198.2 L399.6,198.3 L400.0,198.4 L400.4,198.4 L400.8,198.5 L401.2,198.6 L401.6,198.6 L402.0,198.7 L402.4,198.7 L402.8,198.8 L403.2,198.8 L403.6,198.8 L404.0,198.9 L404.4,198.9 L404.8,198.9 L405.2,199.0 L405.6,199.0 L406.0,199.0 L406.4,199.0 L406.8,199.0 L407.2,199.1 L407.6,199.1 L408.0,199.1 L408.4,199.1 L408.8,199.1 L409.2,199.1 L409.6,199.2 L410.0,199.2 L410.4,199.2 L410.8,199.2 L411.2,199.2 L411.6,199.2 L412.0,199.2 L412.4,199.2 L412.8,199.2 L413.2,199.2 L413.6,199.3 L414.0,199.3 L414.4,199.3 L414.8,199.3 L415.2,199.3 L415.6,199.3 L416.0,199.3 L416.4,199.3 L416.8,199.3 L417.2,199.3 L417.6,199.3 L418.0,199.3 L418.4,199.3 L418.8,199.3 L419.2,199.3 L419.6,199.3 L420.0,199.3 L420.4,199.3 L420.8,199.3 L421.2,199.4 L421.6,199.4 L422.0,199.4" fill="none" stroke="#22dd44" stroke-width="1.1"/>
<text x="367.50" y="209.8" font-family='"Liberation Sans", sans-serif' font-size="6.2" font-weight="normal" fill="#333" text-anchor="middle" >360</text>
<text x="384.30" y="209.8" font-family='"Liberation Sans", sans-serif' font-size="6.2" font-weight="normal" fill="#333" text-anchor="middle" >380</text>
<text x="401.20" y="209.8" font-family='"Liberation Sans", sans-serif' font-size="6.2" font-weight="normal" fill="#333" text-anchor="middle" >400</text>
<text x="418.10" y="209.8" font-family='"Liberation Sans", sans-serif' font-size="6.2" font-weight="normal" fill="#333" text-anchor="middle" >420</text>
<text x="392.80" y="215.5" font-family='"Liberation Sans", sans-serif' font-size="5.9" font-weight="normal" fill="#333" text-anchor="middle" >Raman Shift (cm<tspan font-size="4" dy="-3">-1</tspan><tspan dy="3">)</tspan></text>
<text transform="translate(430.3,176.75) rotate(90)" x="0" y="0" font-family='"Liberation Sans", sans-serif' font-size="6.2" fill="#333" text-anchor="middle">Intensity (a.u.)</text>
<line x1="366.60" y1="202.4" x2="366.60" y2="200.4" stroke="#555" stroke-width="0.7"/>
<line x1="366.60" y1="147.9" x2="366.60" y2="149.9" stroke="#555" stroke-width="0.7"/>
<line x1="375.03" y1="202.4" x2="375.03" y2="200.4" stroke="#555" stroke-width="0.7"/>
<line x1="375.03" y1="147.9" x2="375.03" y2="149.9" stroke="#555" stroke-width="0.7"/>
<line x1="383.47" y1="202.4" x2="383.47" y2="200.4" stroke="#555" stroke-width="0.7"/>
<line x1="383.47" y1="147.9" x2="383.47" y2="149.9" stroke="#555" stroke-width="0.7"/>
<line x1="391.90" y1="202.4" x2="391.90" y2="200.4" stroke="#555" stroke-width="0.7"/>
<line x1="391.90" y1="147.9" x2="391.90" y2="149.9" stroke="#555" stroke-width="0.7"/>
<line x1="400.33" y1="202.4" x2="400.33" y2="200.4" stroke="#555" stroke-width="0.7"/>
<line x1="400.33" y1="147.9" x2="400.33" y2="149.9" stroke="#555" stroke-width="0.7"/>
<line x1="408.77" y1="202.4" x2="408.77" y2="200.4" stroke="#555" stroke-width="0.7"/>
<line x1="408.77" y1="147.9" x2="408.77" y2="149.9" stroke="#555" stroke-width="0.7"/>
<line x1="417.20" y1="202.4" x2="417.20" y2="200.4" stroke="#555" stroke-width="0.7"/>
<line x1="417.20" y1="147.9" x2="417.20" y2="149.9" stroke="#555" stroke-width="0.7"/>
<line x1="357.5" y1="156.98" x2="359.5" y2="156.98" stroke="#555" stroke-width="0.7"/>
<line x1="426.5" y1="156.98" x2="424.5" y2="156.98" stroke="#555" stroke-width="0.7"/>
<line x1="357.5" y1="166.07" x2="359.5" y2="166.07" stroke="#555" stroke-width="0.7"/>
<line x1="426.5" y1="166.07" x2="424.5" y2="166.07" stroke="#555" stroke-width="0.7"/>
<line x1="357.5" y1="175.15" x2="359.5" y2="175.15" stroke="#555" stroke-width="0.7"/>
<line x1="426.5" y1="175.15" x2="424.5" y2="175.15" stroke="#555" stroke-width="0.7"/>
<line x1="357.5" y1="184.23" x2="359.5" y2="184.23" stroke="#555" stroke-width="0.7"/>
<line x1="426.5" y1="184.23" x2="424.5" y2="184.23" stroke="#555" stroke-width="0.7"/>
<line x1="357.5" y1="193.32" x2="359.5" y2="193.32" stroke="#555" stroke-width="0.7"/>
<line x1="426.5" y1="193.32" x2="424.5" y2="193.32" stroke="#555" stroke-width="0.7"/>
<rect x="358.8" y="288" width="75.69999999999999" height="60.5" fill="#fff" stroke="#555" stroke-width="1.2"/>
<path d="M359.5,342.2 L360.0,342.2 L360.5,342.2 L361.0,342.2 L361.5,342.2 L362.0,342.2 L362.5,342.2 L363.0,342.2 L363.5,342.2 L364.0,342.2 L364.5,342.2 L365.0,342.2 L365.5,342.2 L366.0,342.2 L366.5,342.2 L367.0,342.2 L367.5,342.2 L368.0,342.2 L368.5,342.2 L369.0,342.2 L369.5,342.2 L370.0,342.2 L370.5,342.2 L371.0,342.2 L371.5,342.2 L372.0,342.1 L372.5,342.0 L373.0,341.8 L373.5,341.5 L374.0,341.2 L374.5,340.8 L375.0,340.4 L375.5,339.9 L376.0,339.5 L376.5,339.0 L377.0,338.5 L377.5,338.0 L378.0,337.4 L378.5,336.8 L379.0,336.1 L379.5,335.4 L380.0,334.7 L380.5,334.0 L381.0,333.3 L381.5,332.6 L382.0,331.9 L382.5,331.3 L383.0,330.7 L383.5,330.0 L384.0,329.3 L384.5,328.3 L385.0,326.8 L385.5,324.3 L386.0,320.6 L386.5,316.1 L387.0,311.3 L387.5,306.1 L388.0,301.0 L388.5,297.0 L389.0,295.9 L389.5,298.3 L390.0,302.9 L390.5,308.3 L391.0,313.5 L391.5,318.5 L392.0,323.0 L392.5,326.7 L393.0,329.4 L393.5,331.3 L394.0,332.7 L394.5,333.7 L395.0,334.3 L395.5,334.7 L396.0,334.9 L396.5,335.0 L397.0,335.1 L397.5,335.1 L398.0,335.1 L398.5,334.9 L399.0,334.5 L399.5,333.8 L400.0,333.0 L400.5,332.1 L401.0,331.1 L401.5,330.0 L402.0,328.8 L402.5,327.3 L403.0,325.7 L403.5,323.9 L404.0,321.9 L404.5,319.6 L405.0,317.1 L405.5,314.0 L406.0,310.2 L406.5,306.1 L407.0,302.3 L407.5,299.1 L408.0,296.5 L408.5,294.9 L409.0,294.8 L409.5,296.3 L410.0,299.1 L410.5,302.5 L411.0,306.1 L411.5,309.9 L412.0,313.9 L412.5,317.6 L413.0,320.7 L413.5,323.3 L414.0,325.7 L414.5,327.9 L415.0,329.8 L415.5,331.6 L416.0,333.0 L416.5,334.2 L417.0,335.1 L417.5,335.8 L418.0,336.4 L418.5,337.0 L419.0,337.5 L419.5,337.9 L420.0,338.4 L420.5,338.7 L421.0,339.1 L421.5,339.3 L422.0,339.6 L422.5,339.7 L423.0,339.8 L423.5,339.9 L424.0,340.0 L424.5,340.1 L425.0,340.1 L425.5,340.2 L426.0,340.2 L426.5,340.3 L427.0,340.3 L427.5,340.3 L428.0,340.4 L428.5,340.4 L429.0,340.4 L429.5,340.5 L430.0,340.5 L430.5,340.5 L431.0,340.5 L431.5,340.6 L432.0,340.6 L432.5,340.6 L433.0,340.6 L433.5,340.6 L434.0,340.6" fill="none" stroke="#a0a0a0" stroke-width="2.8" stroke-linejoin="round"/>
<path d="M359.5,342.2 L360.0,342.2 L360.5,342.2 L361.0,342.2 L361.5,342.2 L362.0,342.2 L362.5,342.2 L363.0,342.2 L363.5,342.2 L364.0,342.2 L364.5,342.2 L365.0,342.2 L365.5,342.2 L366.0,342.2 L366.5,342.2 L367.0,342.2 L367.5,342.2 L368.0,342.2 L368.5,342.2 L369.0,342.2 L369.5,342.2 L370.0,342.2 L370.5,342.2 L371.0,342.2 L371.5,342.2 L372.0,342.1 L372.5,342.0 L373.0,341.8 L373.5,341.5 L374.0,341.2 L374.5,340.8 L375.0,340.4 L375.5,339.9 L376.0,339.5 L376.5,339.0 L377.0,338.5 L377.5,338.0 L378.0,337.4 L378.5,336.8 L379.0,336.1 L379.5,335.4 L380.0,334.7 L380.5,334.0 L381.0,333.3 L381.5,332.6 L382.0,331.9 L382.5,331.3 L383.0,330.7 L383.5,330.0 L384.0,329.3 L384.5,328.3 L385.0,326.8 L385.5,324.3 L386.0,320.6 L386.5,316.1 L387.0,311.3 L387.5,306.1 L388.0,301.0 L388.5,297.0 L389.0,295.9 L389.5,298.3 L390.0,302.9 L390.5,308.3 L391.0,313.5 L391.5,318.5 L392.0,323.0 L392.5,326.7 L393.0,329.4 L393.5,331.3 L394.0,332.7 L394.5,333.7 L395.0,334.3 L395.5,334.7 L396.0,334.9 L396.5,335.0 L397.0,335.1 L397.5,335.1 L398.0,335.1 L398.5,334.9 L399.0,334.5 L399.5,333.8 L400.0,333.0 L400.5,332.1 L401.0,331.1 L401.5,330.0 L402.0,328.8 L402.5,327.3 L403.0,325.7 L403.5,323.9 L404.0,321.9 L404.5,319.6 L405.0,317.1 L405.5,314.0 L406.0,310.2 L406.5,306.1 L407.0,302.3 L407.5,299.1 L408.0,296.5 L408.5,294.9 L409.0,294.8 L409.5,296.3 L410.0,299.1 L410.5,302.5 L411.0,306.1 L411.5,309.9 L412.0,313.9 L412.5,317.6 L413.0,320.7 L413.5,323.3 L414.0,325.7 L414.5,327.9 L415.0,329.8 L415.5,331.6 L416.0,333.0 L416.5,334.2 L417.0,335.1 L417.5,335.8 L418.0,336.4 L418.5,337.0 L419.0,337.5 L419.5,337.9 L420.0,338.4 L420.5,338.7 L421.0,339.1 L421.5,339.3 L422.0,339.6 L422.5,339.7 L423.0,339.8 L423.5,339.9 L424.0,340.0 L424.5,340.1 L425.0,340.1 L425.5,340.2 L426.0,340.2 L426.5,340.3 L427.0,340.3 L427.5,340.3 L428.0,340.4 L428.5,340.4 L429.0,340.4 L429.5,340.5 L430.0,340.5 L430.5,340.5 L431.0,340.5 L431.5,340.6 L432.0,340.6 L432.5,340.6 L433.0,340.6 L433.5,340.6 L434.0,340.6" fill="none" stroke="#5a5a5a" stroke-width="1.1" stroke-linejoin="round"/>
<circle cx="359.50" cy="342.20" r="0.9" fill="#333"/>
<circle cx="361.36" cy="342.20" r="0.9" fill="#333"/>
<circle cx="363.23" cy="342.20" r="0.9" fill="#333"/>
<circle cx="365.09" cy="342.20" r="0.9" fill="#333"/>
<circle cx="366.95" cy="342.20" r="0.9" fill="#333"/>
<circle cx="368.81" cy="342.20" r="0.9" fill="#333"/>
<circle cx="370.68" cy="342.20" r="0.9" fill="#333"/>
<circle cx="372.54" cy="342.05" r="0.9" fill="#333"/>
<circle cx="374.40" cy="340.88" r="0.9" fill="#333"/>
<circle cx="376.26" cy="339.22" r="0.9" fill="#333"/>
<circle cx="378.12" cy="337.26" r="0.9" fill="#333"/>
<circle cx="379.99" cy="334.75" r="0.9" fill="#333"/>
<circle cx="381.85" cy="332.07" r="0.9" fill="#333"/>
<circle cx="383.71" cy="329.78" r="0.9" fill="#333"/>
<circle cx="385.57" cy="324.45" r="0.9" fill="#333"/>
<circle cx="387.44" cy="307.18" r="0.9" fill="#333"/>
<circle cx="389.30" cy="295.25" r="0.9" fill="#333"/>
<circle cx="391.16" cy="315.12" r="0.9" fill="#333"/>
<circle cx="393.02" cy="329.77" r="0.9" fill="#333"/>
<circle cx="394.89" cy="334.43" r="0.9" fill="#333"/>
<circle cx="396.75" cy="335.07" r="0.9" fill="#333"/>
<circle cx="398.61" cy="334.96" r="0.9" fill="#333"/>
<circle cx="400.48" cy="332.17" r="0.9" fill="#333"/>
<circle cx="402.34" cy="327.94" r="0.9" fill="#333"/>
<circle cx="404.20" cy="321.09" r="0.9" fill="#333"/>
<circle cx="406.06" cy="309.84" r="0.9" fill="#333"/>
<circle cx="407.93" cy="296.43" r="0.9" fill="#333"/>
<circle cx="409.79" cy="297.47" r="0.9" fill="#333"/>
<circle cx="411.65" cy="311.07" r="0.9" fill="#333"/>
<circle cx="413.51" cy="323.50" r="0.9" fill="#333"/>
<circle cx="415.38" cy="331.27" r="0.9" fill="#333"/>
<circle cx="417.24" cy="335.51" r="0.9" fill="#333"/>
<circle cx="419.10" cy="337.59" r="0.9" fill="#333"/>
<circle cx="420.96" cy="339.06" r="0.9" fill="#333"/>
<circle cx="422.82" cy="339.84" r="0.9" fill="#333"/>
<circle cx="424.69" cy="340.08" r="0.9" fill="#333"/>
<circle cx="426.55" cy="340.27" r="0.9" fill="#333"/>
<circle cx="428.41" cy="340.41" r="0.9" fill="#333"/>
<circle cx="430.27" cy="340.52" r="0.9" fill="#333"/>
<circle cx="432.14" cy="340.58" r="0.9" fill="#333"/>
<circle cx="434.00" cy="340.60" r="0.9" fill="#333"/>
<path d="M361.0,342.8 L361.4,342.8 L361.8,342.8 L362.2,342.8 L362.6,342.8 L363.0,342.8 L363.4,342.7 L363.8,342.7 L364.2,342.7 L364.6,342.7 L365.0,342.7 L365.4,342.7 L365.8,342.7 L366.2,342.6 L366.6,342.6 L367.0,342.6 L367.4,342.6 L367.8,342.6 L368.2,342.6 L368.6,342.5 L369.0,342.5 L369.4,342.5 L369.8,342.5 L370.2,342.4 L370.6,342.4 L371.0,342.4 L371.4,342.3 L371.8,342.3 L372.2,342.3 L372.6,342.2 L373.0,342.2 L373.4,342.1 L373.8,342.1 L374.2,342.0 L374.6,342.0 L375.0,341.9 L375.4,341.8 L375.8,341.8 L376.2,341.7 L376.6,341.6 L377.0,341.5 L377.4,341.4 L377.8,341.3 L378.2,341.1 L378.6,341.0 L379.0,340.8 L379.4,340.6 L379.8,340.4 L380.2,340.2 L380.6,339.9 L381.0,339.6 L381.4,339.2 L381.8,338.8 L382.2,338.4 L382.6,337.8 L383.0,337.2 L383.4,336.4 L383.8,335.5 L384.2,334.4 L384.6,333.0 L385.0,331.4 L385.4,329.3 L385.8,326.8 L386.2,323.7 L386.6,319.9 L387.0,315.3 L387.4,309.9 L387.8,304.2 L388.2,299.0 L388.6,295.4 L389.0,294.6 L389.4,296.9 L389.8,301.5 L390.2,307.1 L390.6,312.7 L391.0,317.7 L391.4,321.9 L391.8,325.3 L392.2,328.1 L392.6,330.4 L393.0,332.2 L393.4,333.7 L393.8,334.9 L394.2,336.0 L394.6,336.8 L395.0,337.5 L395.4,338.1 L395.8,338.6 L396.2,339.1 L396.6,339.4 L397.0,339.8 L397.4,340.0 L397.8,340.3 L398.2,340.5 L398.6,340.7 L399.0,340.9 L399.4,341.1 L399.8,341.2 L400.2,341.3 L400.6,341.4 L401.0,341.5 L401.4,341.6 L401.8,341.7 L402.2,341.8 L402.6,341.9 L403.0,341.9 L403.4,342.0 L403.8,342.1 L404.2,342.1 L404.6,342.2 L405.0,342.2 L405.4,342.3 L405.8,342.3 L406.2,342.3 L406.6,342.4 L407.0,342.4 L407.4,342.4 L407.8,342.5 L408.2,342.5 L408.6,342.5 L409.0,342.5 L409.4,342.5 L409.8,342.6 L410.2,342.6 L410.6,342.6 L411.0,342.6 L411.4,342.6 L411.8,342.7 L412.2,342.7 L412.6,342.7 L413.0,342.7 L413.4,342.7 L413.8,342.7 L414.2,342.7 L414.6,342.7 L415.0,342.8 L415.4,342.8 L415.8,342.8 L416.2,342.8 L416.6,342.8 L417.0,342.8 L417.4,342.8 L417.8,342.8 L418.2,342.8 L418.6,342.8 L419.0,342.8 L419.4,342.8 L419.8,342.9 L420.2,342.9 L420.6,342.9 L421.0,342.9 L421.4,342.9 L421.8,342.9 L422.2,342.9 L422.6,342.9 L423.0,342.9 L423.4,342.9 L423.8,342.9 L424.2,342.9 L424.6,342.9 L425.0,342.9 L425.4,342.9 L425.8,342.9 L426.2,342.9 L426.6,342.9 L427.0,342.9 L427.4,342.9 L427.8,342.9 L428.2,342.9 L428.6,343.0 L429.0,343.0 L429.4,343.0 L429.8,343.0" fill="none" stroke="#ff3030" stroke-width="1.1"/>
<path d="M361.0,343.0 L361.4,343.0 L361.8,343.0 L362.2,343.0 L362.6,343.0 L363.0,343.0 L363.4,343.0 L363.8,343.0 L364.2,343.0 L364.6,343.0 L365.0,343.0 L365.4,342.9 L365.8,342.9 L366.2,342.9 L366.6,342.9 L367.0,342.9 L367.4,342.9 L367.8,342.9 L368.2,342.9 L368.6,342.9 L369.0,342.9 L369.4,342.8 L369.8,342.8 L370.2,342.8 L370.6,342.8 L371.0,342.8 L371.4,342.7 L371.8,342.7 L372.2,342.7 L372.6,342.7 L373.0,342.6 L373.4,342.6 L373.8,342.5 L374.2,342.5 L374.6,342.4 L375.0,342.4 L375.4,342.3 L375.8,342.2 L376.2,342.1 L376.6,342.0 L377.0,341.8 L377.4,341.7 L377.8,341.5 L378.2,341.2 L378.6,341.0 L379.0,340.7 L379.4,340.3 L379.8,339.9 L380.2,339.5 L380.6,339.1 L381.0,338.8 L381.4,338.5 L381.8,338.4 L382.2,338.4 L382.6,338.6 L383.0,339.0 L383.4,339.3 L383.8,339.7 L384.2,340.1 L384.6,340.5 L385.0,340.8 L385.4,341.1 L385.8,341.4 L386.2,341.6 L386.6,341.7 L387.0,341.9 L387.4,342.0 L387.8,342.1 L388.2,342.2 L388.6,342.3 L389.0,342.4 L389.4,342.5 L389.8,342.5 L390.2,342.6 L390.6,342.6 L391.0,342.6 L391.4,342.7 L391.8,342.7 L392.2,342.7 L392.6,342.8 L393.0,342.8 L393.4,342.8 L393.8,342.8 L394.2,342.8 L394.6,342.9 L395.0,342.9 L395.4,342.9 L395.8,342.9 L396.2,342.9 L396.6,342.9 L397.0,342.9 L397.4,342.9 L397.8,342.9 L398.2,342.9 L398.6,343.0 L399.0,343.0 L399.4,343.0 L399.8,343.0 L400.2,343.0 L400.6,343.0 L401.0,343.0 L401.4,343.0 L401.8,343.0 L402.2,343.0 L402.6,343.0 L403.0,343.0 L403.4,343.0 L403.8,343.0 L404.2,343.0 L404.6,343.0 L405.0,343.0 L405.4,343.0 L405.8,343.0 L406.2,343.0 L406.6,343.0 L407.0,343.0 L407.4,343.0 L407.8,343.0 L408.2,343.0 L408.6,343.0 L409.0,343.0 L409.4,343.0 L409.8,343.0 L410.2,343.0 L410.6,343.0 L411.0,343.1 L411.4,343.1 L411.8,343.1 L412.2,343.1 L412.6,343.1 L413.0,343.1 L413.4,343.1 L413.8,343.1 L414.2,343.1 L414.6,343.1 L415.0,343.1 L415.4,343.1 L415.8,343.1 L416.2,343.1 L416.6,343.1 L417.0,343.1 L417.4,343.1 L417.8,343.1 L418.2,343.1 L418.6,343.1 L419.0,343.1 L419.4,343.1 L419.8,343.1 L420.2,343.1 L420.6,343.1 L421.0,343.1 L421.4,343.1 L421.8,343.1 L422.2,343.1 L422.6,343.1 L423.0,343.1 L423.4,343.1 L423.8,343.1 L424.2,343.1 L424.6,343.1 L425.0,343.1 L425.4,343.1 L425.8,343.1 L426.2,343.1 L426.6,343.1 L427.0,343.1 L427.4,343.1 L427.8,343.1 L428.2,343.1 L428.6,343.1 L429.0,343.1 L429.4,343.1 L429.8,343.1" fill="none" stroke="#22cc22" stroke-width="1.1"/>
<path d="M361.0,342.8 L361.4,342.8 L361.8,342.8 L362.2,342.8 L362.6,342.8 L363.0,342.8 L363.4,342.8 L363.8,342.8 L364.2,342.8 L364.6,342.8 L365.0,342.7 L365.4,342.7 L365.8,342.7 L366.2,342.7 L366.6,342.7 L367.0,342.7 L367.4,342.7 L367.8,342.7 L368.2,342.7 L368.6,342.7 L369.0,342.7 L369.4,342.7 L369.8,342.7 L370.2,342.7 L370.6,342.6 L371.0,342.6 L371.4,342.6 L371.8,342.6 L372.2,342.6 L372.6,342.6 L373.0,342.6 L373.4,342.6 L373.8,342.6 L374.2,342.5 L374.6,342.5 L375.0,342.5 L375.4,342.5 L375.8,342.5 L376.2,342.5 L376.6,342.5 L377.0,342.4 L377.4,342.4 L377.8,342.4 L378.2,342.4 L378.6,342.4 L379.0,342.4 L379.4,342.3 L379.8,342.3 L380.2,342.3 L380.6,342.3 L381.0,342.2 L381.4,342.2 L381.8,342.2 L382.2,342.2 L382.6,342.1 L383.0,342.1 L383.4,342.1 L383.8,342.0 L384.2,342.0 L384.6,342.0 L385.0,341.9 L385.4,341.9 L385.8,341.9 L386.2,341.8 L386.6,341.8 L387.0,341.7 L387.4,341.7 L387.8,341.6 L388.2,341.6 L388.6,341.5 L389.0,341.4 L389.4,341.4 L389.8,341.3 L390.2,341.2 L390.6,341.1 L391.0,341.1 L391.4,341.0 L391.8,340.9 L392.2,340.8 L392.6,340.7 L393.0,340.5 L393.4,340.4 L393.8,340.3 L394.2,340.1 L394.6,340.0 L395.0,339.8 L395.4,339.6 L395.8,339.4 L396.2,339.2 L396.6,338.9 L397.0,338.7 L397.4,338.4 L397.8,338.1 L398.2,337.7 L398.6,337.4 L399.0,336.9 L399.4,336.5 L399.8,336.0 L400.2,335.4 L400.6,334.7 L401.0,334.0 L401.4,333.2 L401.8,332.3 L402.2,331.3 L402.6,330.1 L403.0,328.8 L403.4,327.3 L403.8,325.6 L404.2,323.7 L404.6,321.5 L405.0,319.1 L405.4,316.3 L405.8,313.3 L406.2,310.0 L406.6,306.6 L407.0,303.2 L407.4,299.9 L407.8,297.1 L408.2,295.0 L408.6,293.8 L409.0,293.8 L409.4,295.0 L409.8,297.1 L410.2,299.9 L410.6,303.2 L411.0,306.6 L411.4,310.0 L411.8,313.3 L412.2,316.3 L412.6,319.1 L413.0,321.5 L413.4,323.7 L413.8,325.6 L414.2,327.3 L414.6,328.8 L415.0,330.1 L415.4,331.3 L415.8,332.3 L416.2,333.2 L416.6,334.0 L417.0,334.7 L417.4,335.4 L417.8,336.0 L418.2,336.5 L418.6,336.9 L419.0,337.4 L419.4,337.7 L419.8,338.1 L420.2,338.4 L420.6,338.7 L421.0,338.9 L421.4,339.2 L421.8,339.4 L422.2,339.6 L422.6,339.8 L423.0,340.0 L423.4,340.1 L423.8,340.3 L424.2,340.4 L424.6,340.5 L425.0,340.7 L425.4,340.8 L425.8,340.9 L426.2,341.0 L426.6,341.1 L427.0,341.1 L427.4,341.2 L427.8,341.3 L428.2,341.4 L428.6,341.4 L429.0,341.5 L429.4,341.6 L429.8,341.6" fill="none" stroke="#3030c0" stroke-width="1.1"/>
<text x="366.60" y="355.0" font-family='"Liberation Sans", sans-serif' font-size="6.6" font-weight="normal" fill="#333" text-anchor="middle" >360</text>
<text x="385.10" y="355.0" font-family='"Liberation Sans", sans-serif' font-size="6.6" font-weight="normal" fill="#333" text-anchor="middle" >380</text>
<text x="403.70" y="355.0" font-family='"Liberation Sans", sans-serif' font-size="6.6" font-weight="normal" fill="#333" text-anchor="middle" >400</text>
<text x="422.20" y="355.0" font-family='"Liberation Sans", sans-serif' font-size="6.6" font-weight="normal" fill="#333" text-anchor="middle" >420</text>
<text x="397.45" y="363.3" font-family='"Liberation Sans", sans-serif' font-size="6.3" font-weight="normal" fill="#333" text-anchor="middle" >Raman Shift (cm<tspan font-size="4" dy="-3">-1</tspan><tspan dy="3">)</tspan></text>
<text transform="translate(437.8,318.7) rotate(90)" x="0" y="0" font-family='"Liberation Sans", sans-serif' font-size="6.2" fill="#333" text-anchor="middle">Intensity (a.u.)</text>
<line x1="365.70" y1="348.5" x2="365.70" y2="346.5" stroke="#555" stroke-width="0.7"/>
<line x1="365.70" y1="288" x2="365.70" y2="290" stroke="#555" stroke-width="0.7"/>
<line x1="374.97" y1="348.5" x2="374.97" y2="346.5" stroke="#555" stroke-width="0.7"/>
<line x1="374.97" y1="288" x2="374.97" y2="290" stroke="#555" stroke-width="0.7"/>
<line x1="384.23" y1="348.5" x2="384.23" y2="346.5" stroke="#555" stroke-width="0.7"/>
<line x1="384.23" y1="288" x2="384.23" y2="290" stroke="#555" stroke-width="0.7"/>
<line x1="393.50" y1="348.5" x2="393.50" y2="346.5" stroke="#555" stroke-width="0.7"/>
<line x1="393.50" y1="288" x2="393.50" y2="290" stroke="#555" stroke-width="0.7"/>
<line x1="402.77" y1="348.5" x2="402.77" y2="346.5" stroke="#555" stroke-width="0.7"/>
<line x1="402.77" y1="288" x2="402.77" y2="290" stroke="#555" stroke-width="0.7"/>
<line x1="412.03" y1="348.5" x2="412.03" y2="346.5" stroke="#555" stroke-width="0.7"/>
<line x1="412.03" y1="288" x2="412.03" y2="290" stroke="#555" stroke-width="0.7"/>
<line x1="421.30" y1="348.5" x2="421.30" y2="346.5" stroke="#555" stroke-width="0.7"/>
<line x1="421.30" y1="288" x2="421.30" y2="290" stroke="#555" stroke-width="0.7"/>
<line x1="358.8" y1="298.08" x2="360.8" y2="298.08" stroke="#555" stroke-width="0.7"/>
<line x1="434.5" y1="298.08" x2="432.5" y2="298.08" stroke="#555" stroke-width="0.7"/>
<line x1="358.8" y1="308.17" x2="360.8" y2="308.17" stroke="#555" stroke-width="0.7"/>
<line x1="434.5" y1="308.17" x2="432.5" y2="308.17" stroke="#555" stroke-width="0.7"/>
<line x1="358.8" y1="318.25" x2="360.8" y2="318.25" stroke="#555" stroke-width="0.7"/>
<line x1="434.5" y1="318.25" x2="432.5" y2="318.25" stroke="#555" stroke-width="0.7"/>
<line x1="358.8" y1="328.33" x2="360.8" y2="328.33" stroke="#555" stroke-width="0.7"/>
<line x1="434.5" y1="328.33" x2="432.5" y2="328.33" stroke="#555" stroke-width="0.7"/>
<line x1="358.8" y1="338.42" x2="360.8" y2="338.42" stroke="#555" stroke-width="0.7"/>
<line x1="434.5" y1="338.42" x2="432.5" y2="338.42" stroke="#555" stroke-width="0.7"/>
</svg></body></html>
